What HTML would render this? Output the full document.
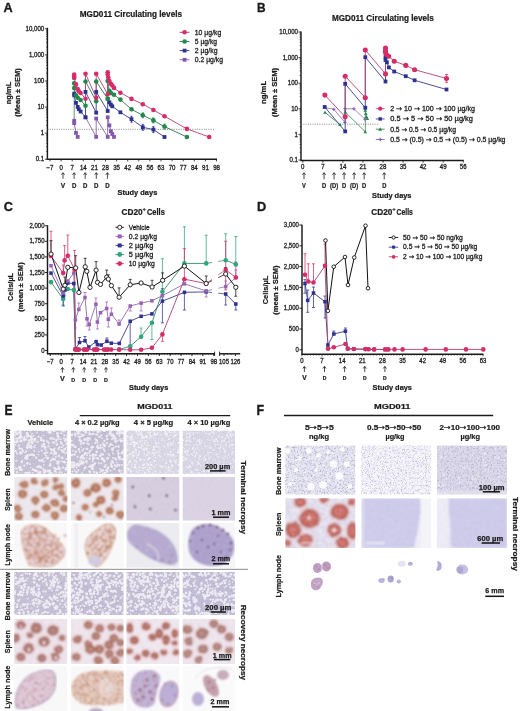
<!DOCTYPE html><html><head><meta charset="utf-8"><title>MGD011 figure</title><style>html,body{margin:0;padding:0;background:#fff;width:520px;height:711px;overflow:hidden}svg{display:block}</style></head><body><svg width="520" height="711" viewBox="0 0 520 711"><defs><filter id="bl1" x="-30%" y="-30%" width="160%" height="160%"><feGaussianBlur stdDeviation="0.7"/></filter><filter id="bl2" x="-30%" y="-30%" width="160%" height="160%"><feGaussianBlur stdDeviation="1.2"/></filter><filter id="bl05" x="-30%" y="-30%" width="160%" height="160%"><feGaussianBlur stdDeviation="0.45"/></filter><filter id="tb" x="-2%" y="-2%" width="104%" height="104%"><feGaussianBlur stdDeviation="0.95"/></filter><filter id="tbs" x="-2%" y="-2%" width="104%" height="104%"><feGaussianBlur stdDeviation="0.42"/></filter><clipPath id="cp1"><rect x="14.20" y="430.50" width="53.20" height="43.40"/></clipPath><filter id="nf1" x="0" y="0" width="1" height="1" color-interpolation-filters="sRGB"><feTurbulence type="fractalNoise" baseFrequency="0.8" numOctaves="2" seed="1"/><feColorMatrix type="matrix" values="0 0 0 0 0.635 0 0 0 0 0.612 0 0 0 0 0.729 3.000 0 0 0 -1.500"/><feComponentTransfer><feFuncA type="linear" slope="0.55"/></feComponentTransfer></filter><filter id="nf2" x="0" y="0" width="1" height="1" color-interpolation-filters="sRGB"><feTurbulence type="fractalNoise" baseFrequency="0.3" numOctaves="2" seed="4"/><feColorMatrix type="matrix" values="0 0 0 0 0.847 0 0 0 0 0.722 0 0 0 0 0.800 3.000 0 0 0 -1.500"/><feComponentTransfer><feFuncA type="linear" slope="0.2"/></feComponentTransfer></filter><clipPath id="cp2"><rect x="70.70" y="430.50" width="53.00" height="43.40"/></clipPath><filter id="nf3" x="0" y="0" width="1" height="1" color-interpolation-filters="sRGB"><feTurbulence type="fractalNoise" baseFrequency="0.8" numOctaves="2" seed="2"/><feColorMatrix type="matrix" values="0 0 0 0 0.635 0 0 0 0 0.612 0 0 0 0 0.729 3.000 0 0 0 -1.500"/><feComponentTransfer><feFuncA type="linear" slope="0.55"/></feComponentTransfer></filter><filter id="nf4" x="0" y="0" width="1" height="1" color-interpolation-filters="sRGB"><feTurbulence type="fractalNoise" baseFrequency="0.3" numOctaves="2" seed="5"/><feColorMatrix type="matrix" values="0 0 0 0 0.847 0 0 0 0 0.722 0 0 0 0 0.800 3.000 0 0 0 -1.500"/><feComponentTransfer><feFuncA type="linear" slope="0.2"/></feComponentTransfer></filter><clipPath id="cp3"><rect x="126.30" y="430.50" width="53.20" height="43.40"/></clipPath><filter id="nf5" x="0" y="0" width="1" height="1" color-interpolation-filters="sRGB"><feTurbulence type="fractalNoise" baseFrequency="0.8" numOctaves="2" seed="3"/><feColorMatrix type="matrix" values="0 0 0 0 0.706 0 0 0 0 0.682 0 0 0 0 0.796 3.000 0 0 0 -1.500"/><feComponentTransfer><feFuncA type="linear" slope="0.45"/></feComponentTransfer></filter><clipPath id="cp4"><rect x="182.50" y="430.50" width="52.50" height="43.40"/></clipPath><filter id="nf6" x="0" y="0" width="1" height="1" color-interpolation-filters="sRGB"><feTurbulence type="fractalNoise" baseFrequency="0.8" numOctaves="2" seed="4"/><feColorMatrix type="matrix" values="0 0 0 0 0.706 0 0 0 0 0.682 0 0 0 0 0.796 3.000 0 0 0 -1.500"/><feComponentTransfer><feFuncA type="linear" slope="0.45"/></feComponentTransfer></filter><clipPath id="cp5"><rect x="14.20" y="477.00" width="53.20" height="43.70"/></clipPath><filter id="nf7" x="0" y="0" width="1" height="1" color-interpolation-filters="sRGB"><feTurbulence type="fractalNoise" baseFrequency="0.5" numOctaves="2" seed="5"/><feColorMatrix type="matrix" values="0 0 0 0 0.769 0 0 0 0 0.745 0 0 0 0 0.847 3.000 0 0 0 -1.500"/><feComponentTransfer><feFuncA type="linear" slope="0.5"/></feComponentTransfer></filter><radialGradient id="rg1"><stop offset="0" stop-color="#d2a691"/><stop offset="0.45" stop-color="#bf8062"/><stop offset="0.78" stop-color="#9d6950" stop-opacity="0.95"/><stop offset="1" stop-color="#9d6950" stop-opacity="0.0"/></radialGradient><filter id="bfx1" x="-5%" y="-5%" width="110%" height="110%" color-interpolation-filters="sRGB"><feTurbulence type="fractalNoise" baseFrequency="0.18" numOctaves="2" seed="5" result="dn"/><feDisplacementMap in="SourceGraphic" in2="dn" scale="2.4" xChannelSelector="R" yChannelSelector="G" result="d"/><feTurbulence type="fractalNoise" baseFrequency="0.55" numOctaves="2" seed="55" result="n"/><feColorMatrix in="n" type="matrix" values="0 0 0 0 0.604 0 0 0 0 0.376 0 0 0 0 0.282 3.000 0 0 0 -1.500" result="m0"/><feComponentTransfer in="m0" result="m"><feFuncA type="linear" slope="0.35"/></feComponentTransfer><feComposite in="m" in2="d" operator="in" result="m2"/><feMerge result="o"><feMergeNode in="d"/><feMergeNode in="m2"/></feMerge></filter><clipPath id="cp6"><rect x="70.70" y="477.00" width="53.00" height="43.70"/></clipPath><filter id="nf8" x="0" y="0" width="1" height="1" color-interpolation-filters="sRGB"><feTurbulence type="fractalNoise" baseFrequency="0.5" numOctaves="2" seed="6"/><feColorMatrix type="matrix" values="0 0 0 0 0.769 0 0 0 0 0.745 0 0 0 0 0.847 3.000 0 0 0 -1.500"/><feComponentTransfer><feFuncA type="linear" slope="0.5"/></feComponentTransfer></filter><radialGradient id="rg2"><stop offset="0" stop-color="#d2a38e"/><stop offset="0.45" stop-color="#be7c5e"/><stop offset="0.78" stop-color="#9c664d" stop-opacity="0.95"/><stop offset="1" stop-color="#9c664d" stop-opacity="0.0"/></radialGradient><filter id="bfx2" x="-5%" y="-5%" width="110%" height="110%" color-interpolation-filters="sRGB"><feTurbulence type="fractalNoise" baseFrequency="0.18" numOctaves="2" seed="6" result="dn"/><feDisplacementMap in="SourceGraphic" in2="dn" scale="2.4" xChannelSelector="R" yChannelSelector="G" result="d"/><feTurbulence type="fractalNoise" baseFrequency="0.55" numOctaves="2" seed="56" result="n"/><feColorMatrix in="n" type="matrix" values="0 0 0 0 0.604 0 0 0 0 0.376 0 0 0 0 0.282 3.000 0 0 0 -1.500" result="m0"/><feComponentTransfer in="m0" result="m"><feFuncA type="linear" slope="0.35"/></feComponentTransfer><feComposite in="m" in2="d" operator="in" result="m2"/><feMerge result="o"><feMergeNode in="d"/><feMergeNode in="m2"/></feMerge></filter><clipPath id="cp7"><rect x="126.30" y="477.00" width="53.20" height="43.70"/></clipPath><filter id="nf9" x="0" y="0" width="1" height="1" color-interpolation-filters="sRGB"><feTurbulence type="fractalNoise" baseFrequency="0.45" numOctaves="2" seed="7"/><feColorMatrix type="matrix" values="0 0 0 0 0.737 0 0 0 0 0.675 0 0 0 0 0.800 3.000 0 0 0 -1.500"/><feComponentTransfer><feFuncA type="linear" slope="0.4"/></feComponentTransfer></filter><clipPath id="cp8"><rect x="182.50" y="477.00" width="52.50" height="43.70"/></clipPath><filter id="nf10" x="0" y="0" width="1" height="1" color-interpolation-filters="sRGB"><feTurbulence type="fractalNoise" baseFrequency="0.45" numOctaves="2" seed="8"/><feColorMatrix type="matrix" values="0 0 0 0 0.753 0 0 0 0 0.698 0 0 0 0 0.816 3.000 0 0 0 -1.500"/><feComponentTransfer><feFuncA type="linear" slope="0.35"/></feComponentTransfer></filter><clipPath id="cp9"><rect x="14.20" y="522.80" width="53.20" height="45.00"/></clipPath><filter id="bfx3" x="-5%" y="-5%" width="110%" height="110%" color-interpolation-filters="sRGB"><feTurbulence type="fractalNoise" baseFrequency="0.25" numOctaves="2" seed="9" result="dn"/><feDisplacementMap in="SourceGraphic" in2="dn" scale="1.2" xChannelSelector="R" yChannelSelector="G" result="d"/><feTurbulence type="fractalNoise" baseFrequency="0.45" numOctaves="2" seed="59" result="n"/><feColorMatrix in="n" type="matrix" values="0 0 0 0 0.722 0 0 0 0 0.478 0 0 0 0 0.408 4.500 0 0 0 -2.115" result="m0"/><feComponentTransfer in="m0" result="m"><feFuncA type="linear" slope="0.85"/></feComponentTransfer><feComposite in="m" in2="d" operator="in" result="m2"/><feMerge result="o"><feMergeNode in="d"/><feMergeNode in="m2"/></feMerge></filter><clipPath id="cp10"><rect x="70.70" y="522.80" width="53.00" height="45.00"/></clipPath><filter id="bfx4" x="-5%" y="-5%" width="110%" height="110%" color-interpolation-filters="sRGB"><feTurbulence type="fractalNoise" baseFrequency="0.25" numOctaves="2" seed="10" result="dn"/><feDisplacementMap in="SourceGraphic" in2="dn" scale="1.2" xChannelSelector="R" yChannelSelector="G" result="d"/><feTurbulence type="fractalNoise" baseFrequency="0.45" numOctaves="2" seed="60" result="n"/><feColorMatrix in="n" type="matrix" values="0 0 0 0 0.737 0 0 0 0 0.502 0 0 0 0 0.392 4.500 0 0 0 -2.205" result="m0"/><feComponentTransfer in="m0" result="m"><feFuncA type="linear" slope="0.85"/></feComponentTransfer><feComposite in="m" in2="d" operator="in" result="m2"/><feMerge result="o"><feMergeNode in="d"/><feMergeNode in="m2"/></feMerge></filter><clipPath id="cp11"><rect x="126.30" y="522.80" width="53.20" height="45.00"/></clipPath><filter id="bfx5" x="-5%" y="-5%" width="110%" height="110%" color-interpolation-filters="sRGB"><feTurbulence type="fractalNoise" baseFrequency="0.25" numOctaves="2" seed="11" result="dn"/><feDisplacementMap in="SourceGraphic" in2="dn" scale="1.2" xChannelSelector="R" yChannelSelector="G" result="d"/><feTurbulence type="fractalNoise" baseFrequency="0.35" numOctaves="2" seed="61" result="n"/><feColorMatrix in="n" type="matrix" values="0 0 0 0 0.824 0 0 0 0 0.792 0 0 0 0 0.886 4.000 0 0 0 -2.200" result="m0"/><feComponentTransfer in="m0" result="m"><feFuncA type="linear" slope="0.6"/></feComponentTransfer><feComposite in="m" in2="d" operator="in" result="m2"/><feMerge result="o"><feMergeNode in="d"/><feMergeNode in="m2"/></feMerge></filter><clipPath id="cp12"><rect x="182.50" y="522.80" width="52.50" height="45.00"/></clipPath><filter id="bfx6" x="-5%" y="-5%" width="110%" height="110%" color-interpolation-filters="sRGB"><feTurbulence type="fractalNoise" baseFrequency="0.25" numOctaves="2" seed="12" result="dn"/><feDisplacementMap in="SourceGraphic" in2="dn" scale="1.2" xChannelSelector="R" yChannelSelector="G" result="d"/><feTurbulence type="fractalNoise" baseFrequency="0.35" numOctaves="2" seed="62" result="n"/><feColorMatrix in="n" type="matrix" values="0 0 0 0 0.784 0 0 0 0 0.753 0 0 0 0 0.871 4.000 0 0 0 -2.200" result="m0"/><feComponentTransfer in="m0" result="m"><feFuncA type="linear" slope="0.55"/></feComponentTransfer><feComposite in="m" in2="d" operator="in" result="m2"/><feMerge result="o"><feMergeNode in="d"/><feMergeNode in="m2"/></feMerge></filter><clipPath id="cp13"><rect x="14.20" y="572.00" width="53.20" height="43.10"/></clipPath><filter id="nf11" x="0" y="0" width="1" height="1" color-interpolation-filters="sRGB"><feTurbulence type="fractalNoise" baseFrequency="0.8" numOctaves="2" seed="13"/><feColorMatrix type="matrix" values="0 0 0 0 0.635 0 0 0 0 0.612 0 0 0 0 0.729 3.000 0 0 0 -1.500"/><feComponentTransfer><feFuncA type="linear" slope="0.55"/></feComponentTransfer></filter><filter id="nf12" x="0" y="0" width="1" height="1" color-interpolation-filters="sRGB"><feTurbulence type="fractalNoise" baseFrequency="0.3" numOctaves="2" seed="16"/><feColorMatrix type="matrix" values="0 0 0 0 0.847 0 0 0 0 0.722 0 0 0 0 0.800 3.000 0 0 0 -1.500"/><feComponentTransfer><feFuncA type="linear" slope="0.25"/></feComponentTransfer></filter><clipPath id="cp14"><rect x="70.70" y="572.00" width="53.00" height="43.10"/></clipPath><filter id="nf13" x="0" y="0" width="1" height="1" color-interpolation-filters="sRGB"><feTurbulence type="fractalNoise" baseFrequency="0.8" numOctaves="2" seed="14"/><feColorMatrix type="matrix" values="0 0 0 0 0.635 0 0 0 0 0.612 0 0 0 0 0.729 3.000 0 0 0 -1.500"/><feComponentTransfer><feFuncA type="linear" slope="0.55"/></feComponentTransfer></filter><filter id="nf14" x="0" y="0" width="1" height="1" color-interpolation-filters="sRGB"><feTurbulence type="fractalNoise" baseFrequency="0.3" numOctaves="2" seed="17"/><feColorMatrix type="matrix" values="0 0 0 0 0.847 0 0 0 0 0.722 0 0 0 0 0.800 3.000 0 0 0 -1.500"/><feComponentTransfer><feFuncA type="linear" slope="0.25"/></feComponentTransfer></filter><clipPath id="cp15"><rect x="126.30" y="572.00" width="53.20" height="43.10"/></clipPath><filter id="nf15" x="0" y="0" width="1" height="1" color-interpolation-filters="sRGB"><feTurbulence type="fractalNoise" baseFrequency="0.8" numOctaves="2" seed="15"/><feColorMatrix type="matrix" values="0 0 0 0 0.635 0 0 0 0 0.612 0 0 0 0 0.729 3.000 0 0 0 -1.500"/><feComponentTransfer><feFuncA type="linear" slope="0.55"/></feComponentTransfer></filter><filter id="nf16" x="0" y="0" width="1" height="1" color-interpolation-filters="sRGB"><feTurbulence type="fractalNoise" baseFrequency="0.3" numOctaves="2" seed="18"/><feColorMatrix type="matrix" values="0 0 0 0 0.847 0 0 0 0 0.722 0 0 0 0 0.800 3.000 0 0 0 -1.500"/><feComponentTransfer><feFuncA type="linear" slope="0.25"/></feComponentTransfer></filter><clipPath id="cp16"><rect x="182.50" y="572.00" width="52.50" height="43.10"/></clipPath><filter id="nf17" x="0" y="0" width="1" height="1" color-interpolation-filters="sRGB"><feTurbulence type="fractalNoise" baseFrequency="0.8" numOctaves="2" seed="16"/><feColorMatrix type="matrix" values="0 0 0 0 0.635 0 0 0 0 0.612 0 0 0 0 0.729 3.000 0 0 0 -1.500"/><feComponentTransfer><feFuncA type="linear" slope="0.55"/></feComponentTransfer></filter><filter id="nf18" x="0" y="0" width="1" height="1" color-interpolation-filters="sRGB"><feTurbulence type="fractalNoise" baseFrequency="0.3" numOctaves="2" seed="19"/><feColorMatrix type="matrix" values="0 0 0 0 0.847 0 0 0 0 0.722 0 0 0 0 0.800 3.000 0 0 0 -1.500"/><feComponentTransfer><feFuncA type="linear" slope="0.2"/></feComponentTransfer></filter><clipPath id="cp17"><rect x="14.20" y="618.70" width="53.20" height="45.30"/></clipPath><filter id="nf19" x="0" y="0" width="1" height="1" color-interpolation-filters="sRGB"><feTurbulence type="fractalNoise" baseFrequency="0.5" numOctaves="2" seed="17"/><feColorMatrix type="matrix" values="0 0 0 0 0.769 0 0 0 0 0.714 0 0 0 0 0.839 3.000 0 0 0 -1.500"/><feComponentTransfer><feFuncA type="linear" slope="0.55"/></feComponentTransfer></filter><radialGradient id="rg3"><stop offset="0" stop-color="#c69993"/><stop offset="0.45" stop-color="#b88078"/><stop offset="0.78" stop-color="#9c6d66" stop-opacity="0.95"/><stop offset="1" stop-color="#9c6d66" stop-opacity="0.0"/></radialGradient><filter id="bfx7" x="-5%" y="-5%" width="110%" height="110%" color-interpolation-filters="sRGB"><feTurbulence type="fractalNoise" baseFrequency="0.18" numOctaves="2" seed="17" result="dn"/><feDisplacementMap in="SourceGraphic" in2="dn" scale="2.4" xChannelSelector="R" yChannelSelector="G" result="d"/><feTurbulence type="fractalNoise" baseFrequency="0.55" numOctaves="2" seed="67" result="n"/><feColorMatrix in="n" type="matrix" values="0 0 0 0 0.541 0 0 0 0 0.337 0 0 0 0 0.337 3.000 0 0 0 -1.500" result="m0"/><feComponentTransfer in="m0" result="m"><feFuncA type="linear" slope="0.4"/></feComponentTransfer><feComposite in="m" in2="d" operator="in" result="m2"/><feMerge result="o"><feMergeNode in="d"/><feMergeNode in="m2"/></feMerge></filter><clipPath id="cp18"><rect x="70.70" y="618.70" width="53.00" height="45.30"/></clipPath><filter id="nf20" x="0" y="0" width="1" height="1" color-interpolation-filters="sRGB"><feTurbulence type="fractalNoise" baseFrequency="0.5" numOctaves="2" seed="18"/><feColorMatrix type="matrix" values="0 0 0 0 0.769 0 0 0 0 0.714 0 0 0 0 0.839 3.000 0 0 0 -1.500"/><feComponentTransfer><feFuncA type="linear" slope="0.55"/></feComponentTransfer></filter><radialGradient id="rg4"><stop offset="0" stop-color="#c8998d"/><stop offset="0.45" stop-color="#ba8070"/><stop offset="0.78" stop-color="#9e6d5f" stop-opacity="0.95"/><stop offset="1" stop-color="#9e6d5f" stop-opacity="0.0"/></radialGradient><filter id="bfx8" x="-5%" y="-5%" width="110%" height="110%" color-interpolation-filters="sRGB"><feTurbulence type="fractalNoise" baseFrequency="0.18" numOctaves="2" seed="18" result="dn"/><feDisplacementMap in="SourceGraphic" in2="dn" scale="2.4" xChannelSelector="R" yChannelSelector="G" result="d"/><feTurbulence type="fractalNoise" baseFrequency="0.55" numOctaves="2" seed="68" result="n"/><feColorMatrix in="n" type="matrix" values="0 0 0 0 0.541 0 0 0 0 0.322 0 0 0 0 0.322 3.000 0 0 0 -1.500" result="m0"/><feComponentTransfer in="m0" result="m"><feFuncA type="linear" slope="0.4"/></feComponentTransfer><feComposite in="m" in2="d" operator="in" result="m2"/><feMerge result="o"><feMergeNode in="d"/><feMergeNode in="m2"/></feMerge></filter><clipPath id="cp19"><rect x="126.30" y="618.70" width="53.20" height="45.30"/></clipPath><filter id="nf21" x="0" y="0" width="1" height="1" color-interpolation-filters="sRGB"><feTurbulence type="fractalNoise" baseFrequency="0.5" numOctaves="2" seed="19"/><feColorMatrix type="matrix" values="0 0 0 0 0.769 0 0 0 0 0.714 0 0 0 0 0.839 3.000 0 0 0 -1.500"/><feComponentTransfer><feFuncA type="linear" slope="0.55"/></feComponentTransfer></filter><radialGradient id="rg5"><stop offset="0" stop-color="#c68e83"/><stop offset="0.45" stop-color="#b87264"/><stop offset="0.78" stop-color="#9c6155" stop-opacity="0.95"/><stop offset="1" stop-color="#9c6155" stop-opacity="0.0"/></radialGradient><filter id="bfx9" x="-5%" y="-5%" width="110%" height="110%" color-interpolation-filters="sRGB"><feTurbulence type="fractalNoise" baseFrequency="0.18" numOctaves="2" seed="19" result="dn"/><feDisplacementMap in="SourceGraphic" in2="dn" scale="2.4" xChannelSelector="R" yChannelSelector="G" result="d"/><feTurbulence type="fractalNoise" baseFrequency="0.55" numOctaves="2" seed="69" result="n"/><feColorMatrix in="n" type="matrix" values="0 0 0 0 0.541 0 0 0 0 0.290 0 0 0 0 0.306 3.000 0 0 0 -1.500" result="m0"/><feComponentTransfer in="m0" result="m"><feFuncA type="linear" slope="0.4"/></feComponentTransfer><feComposite in="m" in2="d" operator="in" result="m2"/><feMerge result="o"><feMergeNode in="d"/><feMergeNode in="m2"/></feMerge></filter><clipPath id="cp20"><rect x="182.50" y="618.70" width="52.50" height="45.30"/></clipPath><filter id="nf22" x="0" y="0" width="1" height="1" color-interpolation-filters="sRGB"><feTurbulence type="fractalNoise" baseFrequency="0.5" numOctaves="2" seed="20"/><feColorMatrix type="matrix" values="0 0 0 0 0.769 0 0 0 0 0.714 0 0 0 0 0.839 3.000 0 0 0 -1.500"/><feComponentTransfer><feFuncA type="linear" slope="0.55"/></feComponentTransfer></filter><radialGradient id="rg6"><stop offset="0" stop-color="#c69e98"/><stop offset="0.45" stop-color="#b8867e"/><stop offset="0.78" stop-color="#9c726b" stop-opacity="0.95"/><stop offset="1" stop-color="#9c726b" stop-opacity="0.0"/></radialGradient><filter id="bfx10" x="-5%" y="-5%" width="110%" height="110%" color-interpolation-filters="sRGB"><feTurbulence type="fractalNoise" baseFrequency="0.18" numOctaves="2" seed="20" result="dn"/><feDisplacementMap in="SourceGraphic" in2="dn" scale="2.4" xChannelSelector="R" yChannelSelector="G" result="d"/><feTurbulence type="fractalNoise" baseFrequency="0.55" numOctaves="2" seed="70" result="n"/><feColorMatrix in="n" type="matrix" values="0 0 0 0 0.541 0 0 0 0 0.369 0 0 0 0 0.384 3.000 0 0 0 -1.500" result="m0"/><feComponentTransfer in="m0" result="m"><feFuncA type="linear" slope="0.4"/></feComponentTransfer><feComposite in="m" in2="d" operator="in" result="m2"/><feMerge result="o"><feMergeNode in="d"/><feMergeNode in="m2"/></feMerge></filter><clipPath id="cp21"><rect x="14.20" y="666.00" width="53.20" height="45.00"/></clipPath><filter id="bfx11" x="-5%" y="-5%" width="110%" height="110%" color-interpolation-filters="sRGB"><feTurbulence type="fractalNoise" baseFrequency="0.25" numOctaves="2" seed="21" result="dn"/><feDisplacementMap in="SourceGraphic" in2="dn" scale="1.2" xChannelSelector="R" yChannelSelector="G" result="d"/><feTurbulence type="fractalNoise" baseFrequency="0.45" numOctaves="2" seed="71" result="n"/><feColorMatrix in="n" type="matrix" values="0 0 0 0 0.690 0 0 0 0 0.455 0 0 0 0 0.502 4.500 0 0 0 -2.250" result="m0"/><feComponentTransfer in="m0" result="m"><feFuncA type="linear" slope="0.8"/></feComponentTransfer><feComposite in="m" in2="d" operator="in" result="m2"/><feMerge result="o"><feMergeNode in="d"/><feMergeNode in="m2"/></feMerge></filter><clipPath id="cp22"><rect x="70.70" y="666.00" width="53.00" height="45.00"/></clipPath><filter id="bfx12" x="-5%" y="-5%" width="110%" height="110%" color-interpolation-filters="sRGB"><feTurbulence type="fractalNoise" baseFrequency="0.25" numOctaves="2" seed="22" result="dn"/><feDisplacementMap in="SourceGraphic" in2="dn" scale="1.2" xChannelSelector="R" yChannelSelector="G" result="d"/><feTurbulence type="fractalNoise" baseFrequency="0.45" numOctaves="2" seed="72" result="n"/><feColorMatrix in="n" type="matrix" values="0 0 0 0 0.737 0 0 0 0 0.494 0 0 0 0 0.376 4.500 0 0 0 -2.070" result="m0"/><feComponentTransfer in="m0" result="m"><feFuncA type="linear" slope="0.9"/></feComponentTransfer><feComposite in="m" in2="d" operator="in" result="m2"/><feMerge result="o"><feMergeNode in="d"/><feMergeNode in="m2"/></feMerge></filter><clipPath id="cp23"><rect x="126.30" y="666.00" width="53.20" height="45.00"/></clipPath><filter id="bfx13" x="-5%" y="-5%" width="110%" height="110%" color-interpolation-filters="sRGB"><feTurbulence type="fractalNoise" baseFrequency="0.25" numOctaves="2" seed="23" result="dn"/><feDisplacementMap in="SourceGraphic" in2="dn" scale="1.2" xChannelSelector="R" yChannelSelector="G" result="d"/><feTurbulence type="fractalNoise" baseFrequency="0.4" numOctaves="2" seed="73" result="n"/><feColorMatrix in="n" type="matrix" values="0 0 0 0 0.627 0 0 0 0 0.439 0 0 0 0 0.494 4.500 0 0 0 -2.475" result="m0"/><feComponentTransfer in="m0" result="m"><feFuncA type="linear" slope="0.7"/></feComponentTransfer><feComposite in="m" in2="d" operator="in" result="m2"/><feMerge result="o"><feMergeNode in="d"/><feMergeNode in="m2"/></feMerge></filter><clipPath id="cp24"><rect x="182.50" y="666.00" width="52.50" height="45.00"/></clipPath><clipPath id="cp25"><rect x="285.30" y="445.40" width="70.10" height="49.20"/></clipPath><filter id="nf23" x="0" y="0" width="1" height="1" color-interpolation-filters="sRGB"><feTurbulence type="fractalNoise" baseFrequency="0.35" numOctaves="2" seed="31"/><feColorMatrix type="matrix" values="0 0 0 0 0.643 0 0 0 0 0.643 0 0 0 0 0.800 3.000 0 0 0 -1.500"/><feComponentTransfer><feFuncA type="linear" slope="0.45"/></feComponentTransfer></filter><filter id="nf24" x="0" y="0" width="1" height="1" color-interpolation-filters="sRGB"><feTurbulence type="fractalNoise" baseFrequency="0.7" numOctaves="2" seed="41"/><feColorMatrix type="matrix" values="0 0 0 0 0.471 0 0 0 0 0.471 0 0 0 0 0.706 5.000 0 0 0 -2.750"/><feComponentTransfer><feFuncA type="linear" slope="0.42"/></feComponentTransfer></filter><filter id="nf25" x="0" y="0" width="1" height="1" color-interpolation-filters="sRGB"><feTurbulence type="fractalNoise" baseFrequency="0.9" numOctaves="1" seed="51"/><feColorMatrix type="matrix" values="0 0 0 0 0.690 0 0 0 0 0.376 0 0 0 0 0.439 7.000 0 0 0 -4.340"/><feComponentTransfer><feFuncA type="linear" slope="0.25"/></feComponentTransfer></filter><clipPath id="cp26"><rect x="361.20" y="445.40" width="70.20" height="49.20"/></clipPath><filter id="nf26" x="0" y="0" width="1" height="1" color-interpolation-filters="sRGB"><feTurbulence type="fractalNoise" baseFrequency="0.4" numOctaves="2" seed="32"/><feColorMatrix type="matrix" values="0 0 0 0 0.706 0 0 0 0 0.690 0 0 0 0 0.847 3.000 0 0 0 -1.500"/><feComponentTransfer><feFuncA type="linear" slope="0.45"/></feComponentTransfer></filter><filter id="nf27" x="0" y="0" width="1" height="1" color-interpolation-filters="sRGB"><feTurbulence type="fractalNoise" baseFrequency="0.75" numOctaves="2" seed="42"/><feColorMatrix type="matrix" values="0 0 0 0 0.533 0 0 0 0 0.518 0 0 0 0 0.737 5.000 0 0 0 -2.800"/><feComponentTransfer><feFuncA type="linear" slope="0.45"/></feComponentTransfer></filter><clipPath id="cp27"><rect x="436.90" y="445.40" width="70.10" height="49.20"/></clipPath><filter id="nf28" x="0" y="0" width="1" height="1" color-interpolation-filters="sRGB"><feTurbulence type="fractalNoise" baseFrequency="0.4" numOctaves="2" seed="33"/><feColorMatrix type="matrix" values="0 0 0 0 0.659 0 0 0 0 0.643 0 0 0 0 0.784 3.000 0 0 0 -1.500"/><feComponentTransfer><feFuncA type="linear" slope="0.5"/></feComponentTransfer></filter><filter id="nf29" x="0" y="0" width="1" height="1" color-interpolation-filters="sRGB"><feTurbulence type="fractalNoise" baseFrequency="0.7" numOctaves="2" seed="43"/><feColorMatrix type="matrix" values="0 0 0 0 0.541 0 0 0 0 0.525 0 0 0 0 0.706 5.000 0 0 0 -2.750"/><feComponentTransfer><feFuncA type="linear" slope="0.38"/></feComponentTransfer></filter><clipPath id="cp28"><rect x="285.30" y="498.20" width="70.10" height="49.80"/></clipPath><filter id="nf30" x="0" y="0" width="1" height="1" color-interpolation-filters="sRGB"><feTurbulence type="fractalNoise" baseFrequency="0.45" numOctaves="2" seed="34"/><feColorMatrix type="matrix" values="0 0 0 0 0.643 0 0 0 0 0.643 0 0 0 0 0.847 3.000 0 0 0 -1.500"/><feComponentTransfer><feFuncA type="linear" slope="0.55"/></feComponentTransfer></filter><filter id="nf31" x="0" y="0" width="1" height="1" color-interpolation-filters="sRGB"><feTurbulence type="fractalNoise" baseFrequency="0.5" numOctaves="2" seed="54"/><feColorMatrix type="matrix" values="0 0 0 0 0.847 0 0 0 0 0.580 0 0 0 0 0.580 4.000 0 0 0 -2.200"/><feComponentTransfer><feFuncA type="linear" slope="0.35"/></feComponentTransfer></filter><filter id="nf32" x="0" y="0" width="1" height="1" color-interpolation-filters="sRGB"><feTurbulence type="fractalNoise" baseFrequency="0.8" numOctaves="2" seed="44"/><feColorMatrix type="matrix" values="0 0 0 0 0.502 0 0 0 0 0.502 0 0 0 0 0.753 5.000 0 0 0 -2.800"/><feComponentTransfer><feFuncA type="linear" slope="0.3"/></feComponentTransfer></filter><radialGradient id="rg7"><stop offset="0" stop-color="#d0766f"/><stop offset="0.45" stop-color="#cc6a62"/><stop offset="0.78" stop-color="#ad5a53" stop-opacity="0.95"/><stop offset="1" stop-color="#ad5a53" stop-opacity="0.0"/></radialGradient><filter id="bfx14" x="-5%" y="-5%" width="110%" height="110%" color-interpolation-filters="sRGB"><feTurbulence type="fractalNoise" baseFrequency="0.18" numOctaves="2" seed="34" result="dn"/><feDisplacementMap in="SourceGraphic" in2="dn" scale="3.0" xChannelSelector="R" yChannelSelector="G" result="d"/><feTurbulence type="fractalNoise" baseFrequency="0.65" numOctaves="2" seed="84" result="n"/><feColorMatrix in="n" type="matrix" values="0 0 0 0 0.941 0 0 0 0 0.800 0 0 0 0 0.800 5.000 0 0 0 -2.750" result="m0"/><feComponentTransfer in="m0" result="m"><feFuncA type="linear" slope="0.6"/></feComponentTransfer><feComposite in="m" in2="d" operator="in" result="m2"/><feMerge result="o"><feMergeNode in="d"/><feMergeNode in="m2"/></feMerge></filter><clipPath id="cp29"><rect x="361.20" y="498.20" width="70.20" height="49.80"/></clipPath><filter id="nf33" x="0" y="0" width="1" height="1" color-interpolation-filters="sRGB"><feTurbulence type="fractalNoise" baseFrequency="0.6" numOctaves="2" seed="35"/><feColorMatrix type="matrix" values="0 0 0 0 0.667 0 0 0 0 0.651 0 0 0 0 0.839 3.000 0 0 0 -1.500"/><feComponentTransfer><feFuncA type="linear" slope="0.5"/></feComponentTransfer></filter><filter id="nf34" x="0" y="0" width="1" height="1" color-interpolation-filters="sRGB"><feTurbulence type="fractalNoise" baseFrequency="0.25" numOctaves="2" seed="45"/><feColorMatrix type="matrix" values="0 0 0 0 0.847 0 0 0 0 0.839 0 0 0 0 0.933 3.000 0 0 0 -1.500"/><feComponentTransfer><feFuncA type="linear" slope="0.5"/></feComponentTransfer></filter><clipPath id="cp30"><rect x="436.90" y="498.20" width="70.10" height="49.80"/></clipPath><filter id="nf35" x="0" y="0" width="1" height="1" color-interpolation-filters="sRGB"><feTurbulence type="fractalNoise" baseFrequency="0.6" numOctaves="2" seed="36"/><feColorMatrix type="matrix" values="0 0 0 0 0.667 0 0 0 0 0.651 0 0 0 0 0.839 3.000 0 0 0 -1.500"/><feComponentTransfer><feFuncA type="linear" slope="0.5"/></feComponentTransfer></filter><filter id="nf36" x="0" y="0" width="1" height="1" color-interpolation-filters="sRGB"><feTurbulence type="fractalNoise" baseFrequency="0.5" numOctaves="2" seed="46"/><feColorMatrix type="matrix" values="0 0 0 0 0.816 0 0 0 0 0.804 0 0 0 0 0.910 3.000 0 0 0 -1.500"/><feComponentTransfer><feFuncA type="linear" slope="0.6"/></feComponentTransfer></filter></defs><rect width="520" height="711" fill="#ffffff"/><g font-family="'Liberation Sans', Arial, sans-serif" fill="#1a1a1a"><text x="3.60" y="11.80" font-size="13.6" font-weight="bold" textLength="9.20" lengthAdjust="spacingAndGlyphs" stroke="#1a1a1a" stroke-width="0.35">A</text>
<text x="79.80" y="16.80" font-size="8.8" font-weight="bold" textLength="102.20" lengthAdjust="spacingAndGlyphs" stroke="#1a1a1a" stroke-width="0.22">MGD011 Circulating levels</text>
<line x1="47.40" y1="27.80" x2="47.40" y2="159.50" stroke="#1a1a1a" stroke-width="1.45"/>
<line x1="46.90" y1="159.20" x2="217.03" y2="159.20" stroke="#1a1a1a" stroke-width="1.5"/>
<line x1="44.80" y1="159.25" x2="47.40" y2="159.25" stroke="#1a1a1a" stroke-width="0.8"/>
<text x="44.20" y="161.35" font-size="6.3" text-anchor="end" textLength="8.49" lengthAdjust="spacingAndGlyphs" stroke="#1a1a1a" stroke-width="0.28">0.1</text>
<line x1="46.00" y1="151.39" x2="47.40" y2="151.39" stroke="#1a1a1a" stroke-width="0.6"/>
<line x1="46.00" y1="146.80" x2="47.40" y2="146.80" stroke="#1a1a1a" stroke-width="0.6"/>
<line x1="46.00" y1="143.54" x2="47.40" y2="143.54" stroke="#1a1a1a" stroke-width="0.6"/>
<line x1="46.00" y1="141.01" x2="47.40" y2="141.01" stroke="#1a1a1a" stroke-width="0.6"/>
<line x1="46.00" y1="138.94" x2="47.40" y2="138.94" stroke="#1a1a1a" stroke-width="0.6"/>
<line x1="46.00" y1="137.19" x2="47.40" y2="137.19" stroke="#1a1a1a" stroke-width="0.6"/>
<line x1="46.00" y1="135.68" x2="47.40" y2="135.68" stroke="#1a1a1a" stroke-width="0.6"/>
<line x1="46.00" y1="134.34" x2="47.40" y2="134.34" stroke="#1a1a1a" stroke-width="0.6"/>
<line x1="44.80" y1="133.15" x2="47.40" y2="133.15" stroke="#1a1a1a" stroke-width="0.8"/>
<text x="44.20" y="135.25" font-size="6.3" text-anchor="end" textLength="3.40" lengthAdjust="spacingAndGlyphs" stroke="#1a1a1a" stroke-width="0.28">1</text>
<line x1="46.00" y1="125.29" x2="47.40" y2="125.29" stroke="#1a1a1a" stroke-width="0.6"/>
<line x1="46.00" y1="120.70" x2="47.40" y2="120.70" stroke="#1a1a1a" stroke-width="0.6"/>
<line x1="46.00" y1="117.44" x2="47.40" y2="117.44" stroke="#1a1a1a" stroke-width="0.6"/>
<line x1="46.00" y1="114.91" x2="47.40" y2="114.91" stroke="#1a1a1a" stroke-width="0.6"/>
<line x1="46.00" y1="112.84" x2="47.40" y2="112.84" stroke="#1a1a1a" stroke-width="0.6"/>
<line x1="46.00" y1="111.09" x2="47.40" y2="111.09" stroke="#1a1a1a" stroke-width="0.6"/>
<line x1="46.00" y1="109.58" x2="47.40" y2="109.58" stroke="#1a1a1a" stroke-width="0.6"/>
<line x1="46.00" y1="108.24" x2="47.40" y2="108.24" stroke="#1a1a1a" stroke-width="0.6"/>
<line x1="44.80" y1="107.05" x2="47.40" y2="107.05" stroke="#1a1a1a" stroke-width="0.8"/>
<text x="44.20" y="109.15" font-size="6.3" text-anchor="end" textLength="6.80" lengthAdjust="spacingAndGlyphs" stroke="#1a1a1a" stroke-width="0.28">10</text>
<line x1="46.00" y1="99.19" x2="47.40" y2="99.19" stroke="#1a1a1a" stroke-width="0.6"/>
<line x1="46.00" y1="94.60" x2="47.40" y2="94.60" stroke="#1a1a1a" stroke-width="0.6"/>
<line x1="46.00" y1="91.34" x2="47.40" y2="91.34" stroke="#1a1a1a" stroke-width="0.6"/>
<line x1="46.00" y1="88.81" x2="47.40" y2="88.81" stroke="#1a1a1a" stroke-width="0.6"/>
<line x1="46.00" y1="86.74" x2="47.40" y2="86.74" stroke="#1a1a1a" stroke-width="0.6"/>
<line x1="46.00" y1="84.99" x2="47.40" y2="84.99" stroke="#1a1a1a" stroke-width="0.6"/>
<line x1="46.00" y1="83.48" x2="47.40" y2="83.48" stroke="#1a1a1a" stroke-width="0.6"/>
<line x1="46.00" y1="82.14" x2="47.40" y2="82.14" stroke="#1a1a1a" stroke-width="0.6"/>
<line x1="44.80" y1="80.95" x2="47.40" y2="80.95" stroke="#1a1a1a" stroke-width="0.8"/>
<text x="44.20" y="83.05" font-size="6.3" text-anchor="end" textLength="10.19" lengthAdjust="spacingAndGlyphs" stroke="#1a1a1a" stroke-width="0.28">100</text>
<line x1="46.00" y1="73.09" x2="47.40" y2="73.09" stroke="#1a1a1a" stroke-width="0.6"/>
<line x1="46.00" y1="68.50" x2="47.40" y2="68.50" stroke="#1a1a1a" stroke-width="0.6"/>
<line x1="46.00" y1="65.24" x2="47.40" y2="65.24" stroke="#1a1a1a" stroke-width="0.6"/>
<line x1="46.00" y1="62.71" x2="47.40" y2="62.71" stroke="#1a1a1a" stroke-width="0.6"/>
<line x1="46.00" y1="60.64" x2="47.40" y2="60.64" stroke="#1a1a1a" stroke-width="0.6"/>
<line x1="46.00" y1="58.89" x2="47.40" y2="58.89" stroke="#1a1a1a" stroke-width="0.6"/>
<line x1="46.00" y1="57.38" x2="47.40" y2="57.38" stroke="#1a1a1a" stroke-width="0.6"/>
<line x1="46.00" y1="56.04" x2="47.40" y2="56.04" stroke="#1a1a1a" stroke-width="0.6"/>
<line x1="44.80" y1="54.85" x2="47.40" y2="54.85" stroke="#1a1a1a" stroke-width="0.8"/>
<text x="44.20" y="56.95" font-size="6.3" text-anchor="end" textLength="15.29" lengthAdjust="spacingAndGlyphs" stroke="#1a1a1a" stroke-width="0.28">1,000</text>
<line x1="46.00" y1="46.99" x2="47.40" y2="46.99" stroke="#1a1a1a" stroke-width="0.6"/>
<line x1="46.00" y1="42.40" x2="47.40" y2="42.40" stroke="#1a1a1a" stroke-width="0.6"/>
<line x1="46.00" y1="39.14" x2="47.40" y2="39.14" stroke="#1a1a1a" stroke-width="0.6"/>
<line x1="46.00" y1="36.61" x2="47.40" y2="36.61" stroke="#1a1a1a" stroke-width="0.6"/>
<line x1="46.00" y1="34.54" x2="47.40" y2="34.54" stroke="#1a1a1a" stroke-width="0.6"/>
<line x1="46.00" y1="32.79" x2="47.40" y2="32.79" stroke="#1a1a1a" stroke-width="0.6"/>
<line x1="46.00" y1="31.28" x2="47.40" y2="31.28" stroke="#1a1a1a" stroke-width="0.6"/>
<line x1="46.00" y1="29.94" x2="47.40" y2="29.94" stroke="#1a1a1a" stroke-width="0.6"/>
<line x1="44.80" y1="28.75" x2="47.40" y2="28.75" stroke="#1a1a1a" stroke-width="0.8"/>
<text x="44.20" y="30.85" font-size="6.3" text-anchor="end" textLength="18.69" lengthAdjust="spacingAndGlyphs" stroke="#1a1a1a" stroke-width="0.28">10,000</text>
<line x1="50.00" y1="159.20" x2="50.00" y2="161.40" stroke="#1a1a1a" stroke-width="0.8"/>
<text x="50.00" y="170.00" font-size="6.3" text-anchor="middle" textLength="6.97" lengthAdjust="spacingAndGlyphs" stroke="#1a1a1a" stroke-width="0.28">−7</text>
<line x1="61.10" y1="159.20" x2="61.10" y2="161.40" stroke="#1a1a1a" stroke-width="0.8"/>
<text x="61.10" y="170.00" font-size="6.3" text-anchor="middle" textLength="3.40" lengthAdjust="spacingAndGlyphs" stroke="#1a1a1a" stroke-width="0.28">0</text>
<line x1="72.20" y1="159.20" x2="72.20" y2="161.40" stroke="#1a1a1a" stroke-width="0.8"/>
<text x="72.20" y="170.00" font-size="6.3" text-anchor="middle" textLength="3.40" lengthAdjust="spacingAndGlyphs" stroke="#1a1a1a" stroke-width="0.28">7</text>
<line x1="83.30" y1="159.20" x2="83.30" y2="161.40" stroke="#1a1a1a" stroke-width="0.8"/>
<text x="83.30" y="170.00" font-size="6.3" text-anchor="middle" textLength="6.80" lengthAdjust="spacingAndGlyphs" stroke="#1a1a1a" stroke-width="0.28">14</text>
<line x1="94.41" y1="159.20" x2="94.41" y2="161.40" stroke="#1a1a1a" stroke-width="0.8"/>
<text x="94.41" y="170.00" font-size="6.3" text-anchor="middle" textLength="6.80" lengthAdjust="spacingAndGlyphs" stroke="#1a1a1a" stroke-width="0.28">21</text>
<line x1="105.51" y1="159.20" x2="105.51" y2="161.40" stroke="#1a1a1a" stroke-width="0.8"/>
<text x="105.51" y="170.00" font-size="6.3" text-anchor="middle" textLength="6.80" lengthAdjust="spacingAndGlyphs" stroke="#1a1a1a" stroke-width="0.28">28</text>
<line x1="116.61" y1="159.20" x2="116.61" y2="161.40" stroke="#1a1a1a" stroke-width="0.8"/>
<text x="116.61" y="170.00" font-size="6.3" text-anchor="middle" textLength="6.80" lengthAdjust="spacingAndGlyphs" stroke="#1a1a1a" stroke-width="0.28">35</text>
<line x1="127.71" y1="159.20" x2="127.71" y2="161.40" stroke="#1a1a1a" stroke-width="0.8"/>
<text x="127.71" y="170.00" font-size="6.3" text-anchor="middle" textLength="6.80" lengthAdjust="spacingAndGlyphs" stroke="#1a1a1a" stroke-width="0.28">42</text>
<line x1="138.81" y1="159.20" x2="138.81" y2="161.40" stroke="#1a1a1a" stroke-width="0.8"/>
<text x="138.81" y="170.00" font-size="6.3" text-anchor="middle" textLength="6.80" lengthAdjust="spacingAndGlyphs" stroke="#1a1a1a" stroke-width="0.28">49</text>
<line x1="149.92" y1="159.20" x2="149.92" y2="161.40" stroke="#1a1a1a" stroke-width="0.8"/>
<text x="149.92" y="170.00" font-size="6.3" text-anchor="middle" textLength="6.80" lengthAdjust="spacingAndGlyphs" stroke="#1a1a1a" stroke-width="0.28">56</text>
<line x1="161.02" y1="159.20" x2="161.02" y2="161.40" stroke="#1a1a1a" stroke-width="0.8"/>
<text x="161.02" y="170.00" font-size="6.3" text-anchor="middle" textLength="6.80" lengthAdjust="spacingAndGlyphs" stroke="#1a1a1a" stroke-width="0.28">63</text>
<line x1="172.12" y1="159.20" x2="172.12" y2="161.40" stroke="#1a1a1a" stroke-width="0.8"/>
<text x="172.12" y="170.00" font-size="6.3" text-anchor="middle" textLength="6.80" lengthAdjust="spacingAndGlyphs" stroke="#1a1a1a" stroke-width="0.28">70</text>
<line x1="183.22" y1="159.20" x2="183.22" y2="161.40" stroke="#1a1a1a" stroke-width="0.8"/>
<text x="183.22" y="170.00" font-size="6.3" text-anchor="middle" textLength="6.80" lengthAdjust="spacingAndGlyphs" stroke="#1a1a1a" stroke-width="0.28">77</text>
<line x1="194.32" y1="159.20" x2="194.32" y2="161.40" stroke="#1a1a1a" stroke-width="0.8"/>
<text x="194.32" y="170.00" font-size="6.3" text-anchor="middle" textLength="6.80" lengthAdjust="spacingAndGlyphs" stroke="#1a1a1a" stroke-width="0.28">84</text>
<line x1="205.43" y1="159.20" x2="205.43" y2="161.40" stroke="#1a1a1a" stroke-width="0.8"/>
<text x="205.43" y="170.00" font-size="6.3" text-anchor="middle" textLength="6.80" lengthAdjust="spacingAndGlyphs" stroke="#1a1a1a" stroke-width="0.28">91</text>
<line x1="216.53" y1="159.20" x2="216.53" y2="161.40" stroke="#1a1a1a" stroke-width="0.8"/>
<text x="216.53" y="170.00" font-size="6.3" text-anchor="middle" textLength="6.80" lengthAdjust="spacingAndGlyphs" stroke="#1a1a1a" stroke-width="0.28">98</text>
<line x1="47.40" y1="129.30" x2="215.00" y2="129.30" stroke="#555" stroke-width="0.7" stroke-dasharray="1,1.3"/>
<path d="M63.00,178.80V173.10M61.40,174.80L63.00,172.60L64.60,174.80" fill="none" stroke="#1a1a1a" stroke-width="0.8"/>
<text x="63.00" y="187.80" font-size="7.0" font-weight="bold" text-anchor="middle" textLength="4.40" lengthAdjust="spacingAndGlyphs" stroke="#1a1a1a" stroke-width="0.22">V</text>
<path d="M74.10,178.80V173.10M72.50,174.80L74.10,172.60L75.70,174.80" fill="none" stroke="#1a1a1a" stroke-width="0.8"/>
<text x="74.10" y="187.80" font-size="7.0" font-weight="bold" text-anchor="middle" textLength="4.40" lengthAdjust="spacingAndGlyphs" stroke="#1a1a1a" stroke-width="0.22">D</text>
<path d="M85.20,178.80V173.10M83.60,174.80L85.20,172.60L86.80,174.80" fill="none" stroke="#1a1a1a" stroke-width="0.8"/>
<text x="85.20" y="187.80" font-size="7.0" font-weight="bold" text-anchor="middle" textLength="4.40" lengthAdjust="spacingAndGlyphs" stroke="#1a1a1a" stroke-width="0.22">D</text>
<path d="M96.31,178.80V173.10M94.71,174.80L96.31,172.60L97.91,174.80" fill="none" stroke="#1a1a1a" stroke-width="0.8"/>
<text x="96.31" y="187.80" font-size="7.0" font-weight="bold" text-anchor="middle" textLength="4.40" lengthAdjust="spacingAndGlyphs" stroke="#1a1a1a" stroke-width="0.22">D</text>
<path d="M107.41,178.80V173.10M105.81,174.80L107.41,172.60L109.01,174.80" fill="none" stroke="#1a1a1a" stroke-width="0.8"/>
<text x="107.41" y="187.80" font-size="7.0" font-weight="bold" text-anchor="middle" textLength="4.40" lengthAdjust="spacingAndGlyphs" stroke="#1a1a1a" stroke-width="0.22">D</text>
<text x="117.60" y="195.00" font-size="7.3" font-weight="bold" textLength="39.70" lengthAdjust="spacingAndGlyphs" stroke="#1a1a1a" stroke-width="0.22">Study days</text>
<text x="10.90" y="93.00" font-size="7.6" font-weight="bold" text-anchor="middle" textLength="22.50" lengthAdjust="spacingAndGlyphs" transform="rotate(-90 10.90 93.00)" stroke="#1a1a1a" stroke-width="0.22">ng/mL</text>
<text x="20.00" y="92.60" font-size="7.6" font-weight="bold" text-anchor="middle" textLength="48.50" lengthAdjust="spacingAndGlyphs" transform="rotate(-90 20.00 92.60)" stroke="#1a1a1a" stroke-width="0.22">(Mean ± SEM)</text>
<line x1="179.60" y1="32.30" x2="189.40" y2="32.30" stroke="#b44a7a" stroke-width="1.0"/>
<circle cx="184.60" cy="32.30" r="2.3100000000000005" fill="#d62c68" stroke="none" stroke-width="0"/>
<text x="194.80" y="34.80" font-size="7.3" textLength="26.50" lengthAdjust="spacingAndGlyphs" stroke="#1a1a1a" stroke-width="0.28">10 µg/kg</text>
<line x1="179.60" y1="41.45" x2="189.40" y2="41.45" stroke="#3a7e56" stroke-width="1.0"/>
<circle cx="184.60" cy="41.45" r="2.3100000000000005" fill="#23884a" stroke="none" stroke-width="0"/>
<text x="194.80" y="43.95" font-size="7.3" textLength="22.30" lengthAdjust="spacingAndGlyphs" stroke="#1a1a1a" stroke-width="0.28">5 µg/kg</text>
<line x1="179.60" y1="50.60" x2="189.40" y2="50.60" stroke="#42468e" stroke-width="1.0"/>
<rect x="182.71" y="48.71" width="3.78" height="3.78" fill="#2f3190"/>
<text x="194.80" y="53.10" font-size="7.3" textLength="22.70" lengthAdjust="spacingAndGlyphs" stroke="#1a1a1a" stroke-width="0.28">2 µg/kg</text>
<line x1="179.60" y1="59.75" x2="189.40" y2="59.75" stroke="#8c6cae" stroke-width="1.0"/>
<rect x="182.71" y="57.86" width="3.78" height="3.78" fill="#8456b0"/>
<text x="194.80" y="62.25" font-size="7.3" textLength="28.20" lengthAdjust="spacingAndGlyphs" stroke="#1a1a1a" stroke-width="0.28">0.2 µg/kg</text>
<polyline points="74.20,83.30 74.20,120.80" fill="none" stroke="#3a7e56" stroke-width="0.8"/>
<polyline points="74.20,120.80 74.20,123.10" fill="none" stroke="#8c6cae" stroke-width="0.8"/>
<polyline points="74.20,120.80 74.20,123.10 76.00,132.90 77.70,136.90" fill="none" stroke="#8c6cae" stroke-width="0.95"/>
<polyline points="85.50,117.30 96.20,136.90 96.20,118.50 107.70,136.90 107.70,117.30 109.40,125.40 110.90,131.20 112.30,134.00 114.00,136.90" fill="none" stroke="#8c6cae" stroke-width="0.95"/>
<polyline points="74.20,93.70 74.20,95.40 76.00,102.90 77.70,106.90 78.80,109.20 80.60,111.50 85.50,117.30 85.50,91.90 96.20,112.70 96.20,91.90 107.70,111.00 107.70,98.80 109.40,102.30 110.90,104.60 112.30,106.30 120.40,112.30 131.50,119.20 142.80,127.30 153.40,129.60 164.50,137.00" fill="none" stroke="#42468e" stroke-width="0.95"/>
<polyline points="74.20,83.30 74.20,88.00 76.00,95.40 77.70,97.70 80.60,100.00 85.50,105.80 85.50,81.50 96.20,101.20 96.20,81.50 107.70,98.80 107.70,81.00 109.40,90.80 110.90,93.10 114.00,94.80 120.40,99.60 131.50,109.30 142.80,115.30 153.40,120.40 164.50,126.60 186.90,137.00" fill="none" stroke="#3a7e56" stroke-width="0.95"/>
<polyline points="74.20,74.60 74.20,76.50 74.20,78.00 76.00,84.40 77.70,89.00 78.80,91.30 80.60,93.00 85.50,98.80 85.50,73.70 96.20,97.70 96.20,73.70 107.70,94.20 107.70,72.30 107.70,74.60 108.30,77.50 109.40,81.00 110.90,83.80 112.30,85.60 114.00,87.90 120.40,92.70 131.50,98.90 142.80,104.20 153.40,110.00 164.50,116.20 186.90,128.90 209.20,137.00" fill="none" stroke="#b44a7a" stroke-width="0.95"/>
<line x1="131.50" y1="116.20" x2="131.50" y2="122.20" stroke="#2f3190" stroke-width="0.7"/>
<line x1="130.30" y1="122.20" x2="132.70" y2="122.20" stroke="#2f3190" stroke-width="0.7"/>
<line x1="131.50" y1="122.20" x2="131.50" y2="116.20" stroke="#2f3190" stroke-width="0.7"/>
<line x1="130.30" y1="116.20" x2="132.70" y2="116.20" stroke="#2f3190" stroke-width="0.7"/>
<line x1="142.80" y1="124.30" x2="142.80" y2="130.30" stroke="#2f3190" stroke-width="0.7"/>
<line x1="141.60" y1="130.30" x2="144.00" y2="130.30" stroke="#2f3190" stroke-width="0.7"/>
<line x1="142.80" y1="130.30" x2="142.80" y2="124.30" stroke="#2f3190" stroke-width="0.7"/>
<line x1="141.60" y1="124.30" x2="144.00" y2="124.30" stroke="#2f3190" stroke-width="0.7"/>
<line x1="153.40" y1="126.60" x2="153.40" y2="132.60" stroke="#2f3190" stroke-width="0.7"/>
<line x1="152.20" y1="132.60" x2="154.60" y2="132.60" stroke="#2f3190" stroke-width="0.7"/>
<line x1="153.40" y1="132.60" x2="153.40" y2="126.60" stroke="#2f3190" stroke-width="0.7"/>
<line x1="152.20" y1="126.60" x2="154.60" y2="126.60" stroke="#2f3190" stroke-width="0.7"/>
<line x1="142.80" y1="112.80" x2="142.80" y2="117.80" stroke="#23884a" stroke-width="0.7"/>
<line x1="141.60" y1="117.80" x2="144.00" y2="117.80" stroke="#23884a" stroke-width="0.7"/>
<line x1="142.80" y1="117.80" x2="142.80" y2="112.80" stroke="#23884a" stroke-width="0.7"/>
<line x1="141.60" y1="112.80" x2="144.00" y2="112.80" stroke="#23884a" stroke-width="0.7"/>
<line x1="153.40" y1="117.90" x2="153.40" y2="122.90" stroke="#23884a" stroke-width="0.7"/>
<line x1="152.20" y1="122.90" x2="154.60" y2="122.90" stroke="#23884a" stroke-width="0.7"/>
<line x1="153.40" y1="122.90" x2="153.40" y2="117.90" stroke="#23884a" stroke-width="0.7"/>
<line x1="152.20" y1="117.90" x2="154.60" y2="117.90" stroke="#23884a" stroke-width="0.7"/>
<line x1="164.50" y1="124.10" x2="164.50" y2="129.10" stroke="#23884a" stroke-width="0.7"/>
<line x1="163.30" y1="129.10" x2="165.70" y2="129.10" stroke="#23884a" stroke-width="0.7"/>
<line x1="164.50" y1="129.10" x2="164.50" y2="124.10" stroke="#23884a" stroke-width="0.7"/>
<line x1="163.30" y1="124.10" x2="165.70" y2="124.10" stroke="#23884a" stroke-width="0.7"/>
<rect x="72.31" y="118.91" width="3.78" height="3.78" fill="#8456b0"/>
<rect x="72.31" y="121.21" width="3.78" height="3.78" fill="#8456b0"/>
<rect x="74.11" y="131.01" width="3.78" height="3.78" fill="#8456b0"/>
<rect x="75.81" y="135.01" width="3.78" height="3.78" fill="#8456b0"/>
<rect x="83.61" y="115.41" width="3.78" height="3.78" fill="#8456b0"/>
<rect x="94.31" y="135.01" width="3.78" height="3.78" fill="#8456b0"/>
<rect x="94.31" y="116.61" width="3.78" height="3.78" fill="#8456b0"/>
<rect x="105.81" y="135.01" width="3.78" height="3.78" fill="#8456b0"/>
<rect x="105.81" y="115.41" width="3.78" height="3.78" fill="#8456b0"/>
<rect x="107.51" y="123.51" width="3.78" height="3.78" fill="#8456b0"/>
<rect x="109.01" y="129.31" width="3.78" height="3.78" fill="#8456b0"/>
<rect x="110.41" y="132.11" width="3.78" height="3.78" fill="#8456b0"/>
<rect x="112.11" y="135.01" width="3.78" height="3.78" fill="#8456b0"/>
<rect x="72.31" y="91.81" width="3.78" height="3.78" fill="#2f3190"/>
<rect x="72.31" y="93.51" width="3.78" height="3.78" fill="#2f3190"/>
<rect x="74.11" y="101.01" width="3.78" height="3.78" fill="#2f3190"/>
<rect x="75.81" y="105.01" width="3.78" height="3.78" fill="#2f3190"/>
<rect x="76.91" y="107.31" width="3.78" height="3.78" fill="#2f3190"/>
<rect x="78.71" y="109.61" width="3.78" height="3.78" fill="#2f3190"/>
<rect x="83.61" y="115.41" width="3.78" height="3.78" fill="#2f3190"/>
<rect x="83.61" y="90.01" width="3.78" height="3.78" fill="#2f3190"/>
<rect x="94.31" y="110.81" width="3.78" height="3.78" fill="#2f3190"/>
<rect x="94.31" y="90.01" width="3.78" height="3.78" fill="#2f3190"/>
<rect x="105.81" y="109.11" width="3.78" height="3.78" fill="#2f3190"/>
<rect x="105.81" y="96.91" width="3.78" height="3.78" fill="#2f3190"/>
<rect x="107.51" y="100.41" width="3.78" height="3.78" fill="#2f3190"/>
<rect x="109.01" y="102.71" width="3.78" height="3.78" fill="#2f3190"/>
<rect x="110.41" y="104.41" width="3.78" height="3.78" fill="#2f3190"/>
<rect x="118.51" y="110.41" width="3.78" height="3.78" fill="#2f3190"/>
<rect x="129.61" y="117.31" width="3.78" height="3.78" fill="#2f3190"/>
<rect x="140.91" y="125.41" width="3.78" height="3.78" fill="#2f3190"/>
<rect x="151.51" y="127.71" width="3.78" height="3.78" fill="#2f3190"/>
<rect x="162.61" y="135.11" width="3.78" height="3.78" fill="#2f3190"/>
<circle cx="74.20" cy="83.30" r="2.3100000000000005" fill="#23884a" stroke="none" stroke-width="0"/>
<circle cx="74.20" cy="88.00" r="2.3100000000000005" fill="#23884a" stroke="none" stroke-width="0"/>
<circle cx="76.00" cy="95.40" r="2.3100000000000005" fill="#23884a" stroke="none" stroke-width="0"/>
<circle cx="77.70" cy="97.70" r="2.3100000000000005" fill="#23884a" stroke="none" stroke-width="0"/>
<circle cx="80.60" cy="100.00" r="2.3100000000000005" fill="#23884a" stroke="none" stroke-width="0"/>
<circle cx="85.50" cy="105.80" r="2.3100000000000005" fill="#23884a" stroke="none" stroke-width="0"/>
<circle cx="85.50" cy="81.50" r="2.3100000000000005" fill="#23884a" stroke="none" stroke-width="0"/>
<circle cx="96.20" cy="101.20" r="2.3100000000000005" fill="#23884a" stroke="none" stroke-width="0"/>
<circle cx="96.20" cy="81.50" r="2.3100000000000005" fill="#23884a" stroke="none" stroke-width="0"/>
<circle cx="107.70" cy="98.80" r="2.3100000000000005" fill="#23884a" stroke="none" stroke-width="0"/>
<circle cx="107.70" cy="81.00" r="2.3100000000000005" fill="#23884a" stroke="none" stroke-width="0"/>
<circle cx="109.40" cy="90.80" r="2.3100000000000005" fill="#23884a" stroke="none" stroke-width="0"/>
<circle cx="110.90" cy="93.10" r="2.3100000000000005" fill="#23884a" stroke="none" stroke-width="0"/>
<circle cx="114.00" cy="94.80" r="2.3100000000000005" fill="#23884a" stroke="none" stroke-width="0"/>
<circle cx="120.40" cy="99.60" r="2.3100000000000005" fill="#23884a" stroke="none" stroke-width="0"/>
<circle cx="131.50" cy="109.30" r="2.3100000000000005" fill="#23884a" stroke="none" stroke-width="0"/>
<circle cx="142.80" cy="115.30" r="2.3100000000000005" fill="#23884a" stroke="none" stroke-width="0"/>
<circle cx="153.40" cy="120.40" r="2.3100000000000005" fill="#23884a" stroke="none" stroke-width="0"/>
<circle cx="164.50" cy="126.60" r="2.3100000000000005" fill="#23884a" stroke="none" stroke-width="0"/>
<circle cx="186.90" cy="137.00" r="2.3100000000000005" fill="#23884a" stroke="none" stroke-width="0"/>
<circle cx="74.20" cy="74.60" r="2.3100000000000005" fill="#d62c68" stroke="none" stroke-width="0"/>
<circle cx="74.20" cy="76.50" r="2.3100000000000005" fill="#d62c68" stroke="none" stroke-width="0"/>
<circle cx="74.20" cy="78.00" r="2.3100000000000005" fill="#d62c68" stroke="none" stroke-width="0"/>
<circle cx="76.00" cy="84.40" r="2.3100000000000005" fill="#d62c68" stroke="none" stroke-width="0"/>
<circle cx="77.70" cy="89.00" r="2.3100000000000005" fill="#d62c68" stroke="none" stroke-width="0"/>
<circle cx="78.80" cy="91.30" r="2.3100000000000005" fill="#d62c68" stroke="none" stroke-width="0"/>
<circle cx="80.60" cy="93.00" r="2.3100000000000005" fill="#d62c68" stroke="none" stroke-width="0"/>
<circle cx="85.50" cy="98.80" r="2.3100000000000005" fill="#d62c68" stroke="none" stroke-width="0"/>
<circle cx="85.50" cy="73.70" r="2.3100000000000005" fill="#d62c68" stroke="none" stroke-width="0"/>
<circle cx="96.20" cy="97.70" r="2.3100000000000005" fill="#d62c68" stroke="none" stroke-width="0"/>
<circle cx="96.20" cy="73.70" r="2.3100000000000005" fill="#d62c68" stroke="none" stroke-width="0"/>
<circle cx="107.70" cy="94.20" r="2.3100000000000005" fill="#d62c68" stroke="none" stroke-width="0"/>
<circle cx="107.70" cy="72.30" r="2.3100000000000005" fill="#d62c68" stroke="none" stroke-width="0"/>
<circle cx="107.70" cy="74.60" r="2.3100000000000005" fill="#d62c68" stroke="none" stroke-width="0"/>
<circle cx="108.30" cy="77.50" r="2.3100000000000005" fill="#d62c68" stroke="none" stroke-width="0"/>
<circle cx="109.40" cy="81.00" r="2.3100000000000005" fill="#d62c68" stroke="none" stroke-width="0"/>
<circle cx="110.90" cy="83.80" r="2.3100000000000005" fill="#d62c68" stroke="none" stroke-width="0"/>
<circle cx="112.30" cy="85.60" r="2.3100000000000005" fill="#d62c68" stroke="none" stroke-width="0"/>
<circle cx="114.00" cy="87.90" r="2.3100000000000005" fill="#d62c68" stroke="none" stroke-width="0"/>
<circle cx="120.40" cy="92.70" r="2.3100000000000005" fill="#d62c68" stroke="none" stroke-width="0"/>
<circle cx="131.50" cy="98.90" r="2.3100000000000005" fill="#d62c68" stroke="none" stroke-width="0"/>
<circle cx="142.80" cy="104.20" r="2.3100000000000005" fill="#d62c68" stroke="none" stroke-width="0"/>
<circle cx="153.40" cy="110.00" r="2.3100000000000005" fill="#d62c68" stroke="none" stroke-width="0"/>
<circle cx="164.50" cy="116.20" r="2.3100000000000005" fill="#d62c68" stroke="none" stroke-width="0"/>
<circle cx="186.90" cy="128.90" r="2.3100000000000005" fill="#d62c68" stroke="none" stroke-width="0"/>
<circle cx="209.20" cy="137.00" r="2.3100000000000005" fill="#d62c68" stroke="none" stroke-width="0"/>
<text x="257.00" y="11.80" font-size="13.6" font-weight="bold" textLength="8.60" lengthAdjust="spacingAndGlyphs" stroke="#1a1a1a" stroke-width="0.35">B</text>
<text x="331.90" y="20.60" font-size="8.8" font-weight="bold" textLength="102.00" lengthAdjust="spacingAndGlyphs" stroke="#1a1a1a" stroke-width="0.22">MGD011 Circulating levels</text>
<line x1="301.00" y1="31.50" x2="301.00" y2="160.80" stroke="#1a1a1a" stroke-width="1.45"/>
<line x1="300.50" y1="160.50" x2="463.74" y2="160.50" stroke="#1a1a1a" stroke-width="1.5"/>
<line x1="298.40" y1="160.00" x2="301.00" y2="160.00" stroke="#1a1a1a" stroke-width="0.8"/>
<text x="298.00" y="162.10" font-size="6.3" text-anchor="end" textLength="8.49" lengthAdjust="spacingAndGlyphs" stroke="#1a1a1a" stroke-width="0.28">0.1</text>
<line x1="299.60" y1="152.29" x2="301.00" y2="152.29" stroke="#1a1a1a" stroke-width="0.6"/>
<line x1="299.60" y1="147.79" x2="301.00" y2="147.79" stroke="#1a1a1a" stroke-width="0.6"/>
<line x1="299.60" y1="144.59" x2="301.00" y2="144.59" stroke="#1a1a1a" stroke-width="0.6"/>
<line x1="299.60" y1="142.11" x2="301.00" y2="142.11" stroke="#1a1a1a" stroke-width="0.6"/>
<line x1="299.60" y1="140.08" x2="301.00" y2="140.08" stroke="#1a1a1a" stroke-width="0.6"/>
<line x1="299.60" y1="138.37" x2="301.00" y2="138.37" stroke="#1a1a1a" stroke-width="0.6"/>
<line x1="299.60" y1="136.88" x2="301.00" y2="136.88" stroke="#1a1a1a" stroke-width="0.6"/>
<line x1="299.60" y1="135.57" x2="301.00" y2="135.57" stroke="#1a1a1a" stroke-width="0.6"/>
<line x1="298.40" y1="134.40" x2="301.00" y2="134.40" stroke="#1a1a1a" stroke-width="0.8"/>
<text x="298.00" y="136.50" font-size="6.3" text-anchor="end" textLength="3.40" lengthAdjust="spacingAndGlyphs" stroke="#1a1a1a" stroke-width="0.28">1</text>
<line x1="299.60" y1="126.69" x2="301.00" y2="126.69" stroke="#1a1a1a" stroke-width="0.6"/>
<line x1="299.60" y1="122.19" x2="301.00" y2="122.19" stroke="#1a1a1a" stroke-width="0.6"/>
<line x1="299.60" y1="118.99" x2="301.00" y2="118.99" stroke="#1a1a1a" stroke-width="0.6"/>
<line x1="299.60" y1="116.51" x2="301.00" y2="116.51" stroke="#1a1a1a" stroke-width="0.6"/>
<line x1="299.60" y1="114.48" x2="301.00" y2="114.48" stroke="#1a1a1a" stroke-width="0.6"/>
<line x1="299.60" y1="112.77" x2="301.00" y2="112.77" stroke="#1a1a1a" stroke-width="0.6"/>
<line x1="299.60" y1="111.28" x2="301.00" y2="111.28" stroke="#1a1a1a" stroke-width="0.6"/>
<line x1="299.60" y1="109.97" x2="301.00" y2="109.97" stroke="#1a1a1a" stroke-width="0.6"/>
<line x1="298.40" y1="108.80" x2="301.00" y2="108.80" stroke="#1a1a1a" stroke-width="0.8"/>
<text x="298.00" y="110.90" font-size="6.3" text-anchor="end" textLength="6.80" lengthAdjust="spacingAndGlyphs" stroke="#1a1a1a" stroke-width="0.28">10</text>
<line x1="299.60" y1="101.09" x2="301.00" y2="101.09" stroke="#1a1a1a" stroke-width="0.6"/>
<line x1="299.60" y1="96.59" x2="301.00" y2="96.59" stroke="#1a1a1a" stroke-width="0.6"/>
<line x1="299.60" y1="93.39" x2="301.00" y2="93.39" stroke="#1a1a1a" stroke-width="0.6"/>
<line x1="299.60" y1="90.91" x2="301.00" y2="90.91" stroke="#1a1a1a" stroke-width="0.6"/>
<line x1="299.60" y1="88.88" x2="301.00" y2="88.88" stroke="#1a1a1a" stroke-width="0.6"/>
<line x1="299.60" y1="87.17" x2="301.00" y2="87.17" stroke="#1a1a1a" stroke-width="0.6"/>
<line x1="299.60" y1="85.68" x2="301.00" y2="85.68" stroke="#1a1a1a" stroke-width="0.6"/>
<line x1="299.60" y1="84.37" x2="301.00" y2="84.37" stroke="#1a1a1a" stroke-width="0.6"/>
<line x1="298.40" y1="83.20" x2="301.00" y2="83.20" stroke="#1a1a1a" stroke-width="0.8"/>
<text x="298.00" y="85.30" font-size="6.3" text-anchor="end" textLength="10.19" lengthAdjust="spacingAndGlyphs" stroke="#1a1a1a" stroke-width="0.28">100</text>
<line x1="299.60" y1="75.49" x2="301.00" y2="75.49" stroke="#1a1a1a" stroke-width="0.6"/>
<line x1="299.60" y1="70.99" x2="301.00" y2="70.99" stroke="#1a1a1a" stroke-width="0.6"/>
<line x1="299.60" y1="67.79" x2="301.00" y2="67.79" stroke="#1a1a1a" stroke-width="0.6"/>
<line x1="299.60" y1="65.31" x2="301.00" y2="65.31" stroke="#1a1a1a" stroke-width="0.6"/>
<line x1="299.60" y1="63.28" x2="301.00" y2="63.28" stroke="#1a1a1a" stroke-width="0.6"/>
<line x1="299.60" y1="61.57" x2="301.00" y2="61.57" stroke="#1a1a1a" stroke-width="0.6"/>
<line x1="299.60" y1="60.08" x2="301.00" y2="60.08" stroke="#1a1a1a" stroke-width="0.6"/>
<line x1="299.60" y1="58.77" x2="301.00" y2="58.77" stroke="#1a1a1a" stroke-width="0.6"/>
<line x1="298.40" y1="57.60" x2="301.00" y2="57.60" stroke="#1a1a1a" stroke-width="0.8"/>
<text x="298.00" y="59.70" font-size="6.3" text-anchor="end" textLength="15.29" lengthAdjust="spacingAndGlyphs" stroke="#1a1a1a" stroke-width="0.28">1,000</text>
<line x1="299.60" y1="49.89" x2="301.00" y2="49.89" stroke="#1a1a1a" stroke-width="0.6"/>
<line x1="299.60" y1="45.39" x2="301.00" y2="45.39" stroke="#1a1a1a" stroke-width="0.6"/>
<line x1="299.60" y1="42.19" x2="301.00" y2="42.19" stroke="#1a1a1a" stroke-width="0.6"/>
<line x1="299.60" y1="39.71" x2="301.00" y2="39.71" stroke="#1a1a1a" stroke-width="0.6"/>
<line x1="299.60" y1="37.68" x2="301.00" y2="37.68" stroke="#1a1a1a" stroke-width="0.6"/>
<line x1="299.60" y1="35.97" x2="301.00" y2="35.97" stroke="#1a1a1a" stroke-width="0.6"/>
<line x1="299.60" y1="34.48" x2="301.00" y2="34.48" stroke="#1a1a1a" stroke-width="0.6"/>
<line x1="299.60" y1="33.17" x2="301.00" y2="33.17" stroke="#1a1a1a" stroke-width="0.6"/>
<line x1="298.40" y1="32.00" x2="301.00" y2="32.00" stroke="#1a1a1a" stroke-width="0.8"/>
<text x="298.00" y="34.10" font-size="6.3" text-anchor="end" textLength="18.69" lengthAdjust="spacingAndGlyphs" stroke="#1a1a1a" stroke-width="0.28">10,000</text>
<line x1="302.80" y1="160.50" x2="302.80" y2="162.70" stroke="#1a1a1a" stroke-width="0.8"/>
<text x="302.80" y="168.80" font-size="6.3" text-anchor="middle" textLength="3.40" lengthAdjust="spacingAndGlyphs" stroke="#1a1a1a" stroke-width="0.28">0</text>
<line x1="322.86" y1="160.50" x2="322.86" y2="162.70" stroke="#1a1a1a" stroke-width="0.8"/>
<text x="322.86" y="168.80" font-size="6.3" text-anchor="middle" textLength="3.40" lengthAdjust="spacingAndGlyphs" stroke="#1a1a1a" stroke-width="0.28">7</text>
<line x1="342.91" y1="160.50" x2="342.91" y2="162.70" stroke="#1a1a1a" stroke-width="0.8"/>
<text x="342.91" y="168.80" font-size="6.3" text-anchor="middle" textLength="6.80" lengthAdjust="spacingAndGlyphs" stroke="#1a1a1a" stroke-width="0.28">14</text>
<line x1="362.97" y1="160.50" x2="362.97" y2="162.70" stroke="#1a1a1a" stroke-width="0.8"/>
<text x="362.97" y="168.80" font-size="6.3" text-anchor="middle" textLength="6.80" lengthAdjust="spacingAndGlyphs" stroke="#1a1a1a" stroke-width="0.28">21</text>
<line x1="383.02" y1="160.50" x2="383.02" y2="162.70" stroke="#1a1a1a" stroke-width="0.8"/>
<text x="383.02" y="168.80" font-size="6.3" text-anchor="middle" textLength="6.80" lengthAdjust="spacingAndGlyphs" stroke="#1a1a1a" stroke-width="0.28">28</text>
<line x1="403.08" y1="160.50" x2="403.08" y2="162.70" stroke="#1a1a1a" stroke-width="0.8"/>
<text x="403.08" y="168.80" font-size="6.3" text-anchor="middle" textLength="6.80" lengthAdjust="spacingAndGlyphs" stroke="#1a1a1a" stroke-width="0.28">35</text>
<line x1="423.13" y1="160.50" x2="423.13" y2="162.70" stroke="#1a1a1a" stroke-width="0.8"/>
<text x="423.13" y="168.80" font-size="6.3" text-anchor="middle" textLength="6.80" lengthAdjust="spacingAndGlyphs" stroke="#1a1a1a" stroke-width="0.28">42</text>
<line x1="443.19" y1="160.50" x2="443.19" y2="162.70" stroke="#1a1a1a" stroke-width="0.8"/>
<text x="443.19" y="168.80" font-size="6.3" text-anchor="middle" textLength="6.80" lengthAdjust="spacingAndGlyphs" stroke="#1a1a1a" stroke-width="0.28">49</text>
<line x1="463.24" y1="160.50" x2="463.24" y2="162.70" stroke="#1a1a1a" stroke-width="0.8"/>
<text x="463.24" y="168.80" font-size="6.3" text-anchor="middle" textLength="6.80" lengthAdjust="spacingAndGlyphs" stroke="#1a1a1a" stroke-width="0.28">56</text>
<line x1="301.00" y1="124.20" x2="378.00" y2="124.20" stroke="#555" stroke-width="0.7" stroke-dasharray="1,1.3"/>
<path d="M304.00,179.40V173.10M302.40,174.80L304.00,172.60L305.60,174.80" fill="none" stroke="#1a1a1a" stroke-width="0.8"/>
<text x="304.00" y="187.70" font-size="6.6" font-weight="bold" text-anchor="middle" textLength="3.87" lengthAdjust="spacingAndGlyphs" stroke="#1a1a1a" stroke-width="0.22">V</text>
<path d="M324.06,179.40V173.10M322.45,174.80L324.06,172.60L325.66,174.80" fill="none" stroke="#1a1a1a" stroke-width="0.8"/>
<text x="324.06" y="187.70" font-size="6.6" font-weight="bold" text-anchor="middle" textLength="4.19" lengthAdjust="spacingAndGlyphs" stroke="#1a1a1a" stroke-width="0.22">D</text>
<path d="M334.08,179.40V173.10M332.48,174.80L334.08,172.60L335.68,174.80" fill="none" stroke="#1a1a1a" stroke-width="0.8"/>
<text x="334.08" y="187.70" font-size="6.6" font-weight="bold" text-anchor="middle" textLength="8.06" lengthAdjust="spacingAndGlyphs" stroke="#1a1a1a" stroke-width="0.22">(D)</text>
<path d="M344.11,179.40V173.10M342.51,174.80L344.11,172.60L345.71,174.80" fill="none" stroke="#1a1a1a" stroke-width="0.8"/>
<text x="344.11" y="187.70" font-size="6.6" font-weight="bold" text-anchor="middle" textLength="4.19" lengthAdjust="spacingAndGlyphs" stroke="#1a1a1a" stroke-width="0.22">D</text>
<path d="M354.14,179.40V173.10M352.54,174.80L354.14,172.60L355.74,174.80" fill="none" stroke="#1a1a1a" stroke-width="0.8"/>
<text x="354.14" y="187.70" font-size="6.6" font-weight="bold" text-anchor="middle" textLength="8.06" lengthAdjust="spacingAndGlyphs" stroke="#1a1a1a" stroke-width="0.22">(D)</text>
<path d="M364.17,179.40V173.10M362.56,174.80L364.17,172.60L365.77,174.80" fill="none" stroke="#1a1a1a" stroke-width="0.8"/>
<text x="364.17" y="187.70" font-size="6.6" font-weight="bold" text-anchor="middle" textLength="4.19" lengthAdjust="spacingAndGlyphs" stroke="#1a1a1a" stroke-width="0.22">D</text>
<path d="M384.22,179.40V173.10M382.62,174.80L384.22,172.60L385.82,174.80" fill="none" stroke="#1a1a1a" stroke-width="0.8"/>
<text x="384.22" y="187.70" font-size="6.6" font-weight="bold" text-anchor="middle" textLength="4.19" lengthAdjust="spacingAndGlyphs" stroke="#1a1a1a" stroke-width="0.22">D</text>
<text x="372.00" y="197.60" font-size="7.3" font-weight="bold" textLength="39.50" lengthAdjust="spacingAndGlyphs" stroke="#1a1a1a" stroke-width="0.22">Study days</text>
<text x="265.60" y="92.40" font-size="7.6" font-weight="bold" text-anchor="middle" textLength="23.00" lengthAdjust="spacingAndGlyphs" transform="rotate(-90 265.60 92.40)" stroke="#1a1a1a" stroke-width="0.22">ng/mL</text>
<text x="276.60" y="92.40" font-size="7.6" font-weight="bold" text-anchor="middle" textLength="49.00" lengthAdjust="spacingAndGlyphs" transform="rotate(-90 276.60 92.40)" stroke="#1a1a1a" stroke-width="0.22">(Mean ± SEM)</text>
<line x1="375.80" y1="108.70" x2="384.60" y2="108.70" stroke="#b44a7a" stroke-width="0.9"/>
<circle cx="380.20" cy="108.70" r="2.09" fill="#d62c68" stroke="none" stroke-width="0"/>
<text x="390.20" y="111.10" font-size="7.0" textLength="84.80" lengthAdjust="spacingAndGlyphs" stroke="#1a1a1a" stroke-width="0.28">2 <tspan font-family="'DejaVu Sans', sans-serif" font-weight="normal">→</tspan> 10 <tspan font-family="'DejaVu Sans', sans-serif" font-weight="normal">→</tspan> 100 <tspan font-family="'DejaVu Sans', sans-serif" font-weight="normal">→</tspan> 100 µg/kg</text>
<line x1="375.80" y1="118.95" x2="384.60" y2="118.95" stroke="#42468e" stroke-width="0.9"/>
<rect x="378.49" y="117.24" width="3.42" height="3.42" fill="#2f3190"/>
<text x="390.20" y="121.35" font-size="7.0" textLength="82.80" lengthAdjust="spacingAndGlyphs" stroke="#1a1a1a" stroke-width="0.28">0.5 <tspan font-family="'DejaVu Sans', sans-serif" font-weight="normal">→</tspan> 5 <tspan font-family="'DejaVu Sans', sans-serif" font-weight="normal">→</tspan> 50 <tspan font-family="'DejaVu Sans', sans-serif" font-weight="normal">→</tspan> 50 µg/kg</text>
<line x1="375.80" y1="129.20" x2="384.60" y2="129.20" stroke="#3a7e56" stroke-width="0.9"/>
<path d="M380.20,127.30 L382.10,130.72 L378.30,130.72Z" fill="#23884a"/>
<text x="390.20" y="131.60" font-size="7.0" textLength="65.80" lengthAdjust="spacingAndGlyphs" stroke="#1a1a1a" stroke-width="0.28">0.5 <tspan font-family="'DejaVu Sans', sans-serif" font-weight="normal">→</tspan> 0.5 <tspan font-family="'DejaVu Sans', sans-serif" font-weight="normal">→</tspan> 0.5 µg/kg</text>
<line x1="375.80" y1="139.45" x2="384.60" y2="139.45" stroke="#8c6cae" stroke-width="0.9"/>
<path d="M378.49,139.45H381.91M380.20,137.74V141.16" stroke="#8456b0" stroke-width="1.1"/>
<text x="390.20" y="141.85" font-size="7.0" textLength="115.30" lengthAdjust="spacingAndGlyphs" stroke="#1a1a1a" stroke-width="0.28">0.5 <tspan font-family="'DejaVu Sans', sans-serif" font-weight="normal">→</tspan> (0.5) <tspan font-family="'DejaVu Sans', sans-serif" font-weight="normal">→</tspan> 0.5 <tspan font-family="'DejaVu Sans', sans-serif" font-weight="normal">→</tspan> (0.5) <tspan font-family="'DejaVu Sans', sans-serif" font-weight="normal">→</tspan> 0.5 µg/kg</text>
<polyline points="325.00,112.40 340.00,124.60" fill="none" stroke="#3a7e56" stroke-width="0.8"/>
<polyline points="345.20,112.00 365.30,131.80" fill="none" stroke="#3a7e56" stroke-width="0.8"/>
<polyline points="365.30,131.80 365.30,110.40" fill="none" stroke="#3a7e56" stroke-width="0.8"/>
<polyline points="324.70,107.50 333.80,109.30 345.00,122.50" fill="none" stroke="#8c6cae" stroke-width="0.8"/>
<polyline points="345.00,108.80 353.90,108.80 365.00,119.20" fill="none" stroke="#8c6cae" stroke-width="0.8"/>
<polyline points="345.00,122.50 345.00,108.80" fill="none" stroke="#8c6cae" stroke-width="0.8"/>
<polyline points="324.70,107.00 345.20,131.40 345.20,83.80 365.30,107.80 365.30,57.20 385.50,81.50 385.50,57.00 385.50,60.00 386.90,62.30 388.90,67.40 394.20,71.50 405.80,76.20 414.60,80.30 446.50,89.50" fill="none" stroke="#42468e" stroke-width="0.95"/>
<polyline points="324.90,95.10 345.20,116.80 345.20,76.20 365.30,97.70 365.30,50.00 385.50,73.90 385.50,48.00 385.50,50.50 385.50,52.50 386.40,54.50 388.70,56.20 394.20,61.20 405.80,65.40 414.60,69.70 446.50,78.50" fill="none" stroke="#b44a7a" stroke-width="0.95"/>
<line x1="446.50" y1="78.50" x2="446.50" y2="74.60" stroke="#d62c68" stroke-width="0.8"/>
<line x1="445.00" y1="74.60" x2="448.00" y2="74.60" stroke="#d62c68" stroke-width="0.8"/>
<line x1="446.50" y1="78.50" x2="446.50" y2="82.30" stroke="#d62c68" stroke-width="0.8"/>
<line x1="445.00" y1="82.30" x2="448.00" y2="82.30" stroke="#d62c68" stroke-width="0.8"/>
<path d="M325.00,110.60 L326.80,113.84 L323.20,113.84Z" fill="#23884a"/>
<path d="M340.00,122.80 L341.80,126.04 L338.20,126.04Z" fill="#23884a"/>
<path d="M345.20,110.20 L347.00,113.44 L343.40,113.44Z" fill="#23884a"/>
<path d="M365.30,130.00 L367.10,133.24 L363.50,133.24Z" fill="#23884a"/>
<path d="M365.30,108.60 L367.10,111.84 L363.50,111.84Z" fill="#23884a"/>
<path d="M365.80,111.70 L367.60,114.94 L364.00,114.94Z" fill="#23884a"/>
<path d="M366.30,114.70 L368.10,117.94 L364.50,117.94Z" fill="#23884a"/>
<path d="M367.30,116.70 L369.10,119.94 L365.50,119.94Z" fill="#23884a"/>
<path d="M332.18,109.30H335.42M333.80,107.68V110.92" stroke="#8456b0" stroke-width="1.1"/>
<path d="M343.38,122.50H346.62M345.00,120.88V124.12" stroke="#8456b0" stroke-width="1.1"/>
<path d="M343.38,108.80H346.62M345.00,107.18V110.42" stroke="#8456b0" stroke-width="1.1"/>
<path d="M352.28,108.80H355.52M353.90,107.18V110.42" stroke="#8456b0" stroke-width="1.1"/>
<path d="M363.38,119.20H366.62M365.00,117.58V120.82" stroke="#8456b0" stroke-width="1.1"/>
<rect x="322.81" y="105.11" width="3.78" height="3.78" fill="#2f3190"/>
<rect x="343.31" y="129.51" width="3.78" height="3.78" fill="#2f3190"/>
<rect x="343.31" y="81.91" width="3.78" height="3.78" fill="#2f3190"/>
<rect x="363.41" y="105.91" width="3.78" height="3.78" fill="#2f3190"/>
<rect x="363.41" y="55.31" width="3.78" height="3.78" fill="#2f3190"/>
<rect x="383.61" y="79.61" width="3.78" height="3.78" fill="#2f3190"/>
<rect x="383.61" y="55.11" width="3.78" height="3.78" fill="#2f3190"/>
<rect x="383.61" y="58.11" width="3.78" height="3.78" fill="#2f3190"/>
<rect x="385.01" y="60.41" width="3.78" height="3.78" fill="#2f3190"/>
<rect x="387.01" y="65.51" width="3.78" height="3.78" fill="#2f3190"/>
<rect x="392.31" y="69.61" width="3.78" height="3.78" fill="#2f3190"/>
<rect x="403.91" y="74.31" width="3.78" height="3.78" fill="#2f3190"/>
<rect x="412.71" y="78.41" width="3.78" height="3.78" fill="#2f3190"/>
<rect x="444.61" y="87.61" width="3.78" height="3.78" fill="#2f3190"/>
<circle cx="324.90" cy="95.10" r="2.53" fill="#d62c68" stroke="none" stroke-width="0"/>
<circle cx="345.20" cy="116.80" r="2.53" fill="#d62c68" stroke="none" stroke-width="0"/>
<circle cx="345.20" cy="76.20" r="2.53" fill="#d62c68" stroke="none" stroke-width="0"/>
<circle cx="365.30" cy="97.70" r="2.53" fill="#d62c68" stroke="none" stroke-width="0"/>
<circle cx="365.30" cy="50.00" r="2.53" fill="#d62c68" stroke="none" stroke-width="0"/>
<circle cx="385.50" cy="73.90" r="2.53" fill="#d62c68" stroke="none" stroke-width="0"/>
<circle cx="385.50" cy="48.00" r="2.53" fill="#d62c68" stroke="none" stroke-width="0"/>
<circle cx="385.50" cy="50.50" r="2.53" fill="#d62c68" stroke="none" stroke-width="0"/>
<circle cx="385.50" cy="52.50" r="2.53" fill="#d62c68" stroke="none" stroke-width="0"/>
<circle cx="386.40" cy="54.50" r="2.53" fill="#d62c68" stroke="none" stroke-width="0"/>
<circle cx="388.70" cy="56.20" r="2.53" fill="#d62c68" stroke="none" stroke-width="0"/>
<circle cx="394.20" cy="61.20" r="2.53" fill="#d62c68" stroke="none" stroke-width="0"/>
<circle cx="405.80" cy="65.40" r="2.53" fill="#d62c68" stroke="none" stroke-width="0"/>
<circle cx="414.60" cy="69.70" r="2.53" fill="#d62c68" stroke="none" stroke-width="0"/>
<circle cx="446.50" cy="78.50" r="2.53" fill="#d62c68" stroke="none" stroke-width="0"/>
<text x="3.80" y="211.20" font-size="13.6" font-weight="bold" textLength="9.20" lengthAdjust="spacingAndGlyphs" stroke="#1a1a1a" stroke-width="0.35">C</text>
<line x1="47.50" y1="225.30" x2="47.50" y2="354.20" stroke="#1a1a1a" stroke-width="1.45"/>
<line x1="47.00" y1="353.80" x2="214.60" y2="353.80" stroke="#1a1a1a" stroke-width="1.45"/>
<line x1="214.60" y1="351.60" x2="214.60" y2="356.00" stroke="#1a1a1a" stroke-width="0.9"/>
<line x1="219.60" y1="353.80" x2="240.20" y2="353.80" stroke="#1a1a1a" stroke-width="1.45"/>
<line x1="219.60" y1="351.60" x2="219.60" y2="356.00" stroke="#1a1a1a" stroke-width="0.9"/>
<line x1="44.90" y1="350.50" x2="47.50" y2="350.50" stroke="#1a1a1a" stroke-width="0.95"/>
<text x="44.50" y="352.60" font-size="6.3" text-anchor="end" textLength="3.33" lengthAdjust="spacingAndGlyphs" stroke="#1a1a1a" stroke-width="0.28">0</text>
<line x1="44.90" y1="334.90" x2="47.50" y2="334.90" stroke="#1a1a1a" stroke-width="0.95"/>
<text x="44.50" y="337.00" font-size="6.3" text-anchor="end" textLength="9.98" lengthAdjust="spacingAndGlyphs" stroke="#1a1a1a" stroke-width="0.28">250</text>
<line x1="44.90" y1="319.31" x2="47.50" y2="319.31" stroke="#1a1a1a" stroke-width="0.95"/>
<text x="44.50" y="321.41" font-size="6.3" text-anchor="end" textLength="9.98" lengthAdjust="spacingAndGlyphs" stroke="#1a1a1a" stroke-width="0.28">500</text>
<line x1="44.90" y1="303.72" x2="47.50" y2="303.72" stroke="#1a1a1a" stroke-width="0.95"/>
<text x="44.50" y="305.82" font-size="6.3" text-anchor="end" textLength="9.98" lengthAdjust="spacingAndGlyphs" stroke="#1a1a1a" stroke-width="0.28">750</text>
<line x1="44.90" y1="288.12" x2="47.50" y2="288.12" stroke="#1a1a1a" stroke-width="0.95"/>
<text x="44.50" y="290.22" font-size="6.3" text-anchor="end" textLength="14.98" lengthAdjust="spacingAndGlyphs" stroke="#1a1a1a" stroke-width="0.28">1,000</text>
<line x1="44.90" y1="272.52" x2="47.50" y2="272.52" stroke="#1a1a1a" stroke-width="0.95"/>
<text x="44.50" y="274.62" font-size="6.3" text-anchor="end" textLength="14.98" lengthAdjust="spacingAndGlyphs" stroke="#1a1a1a" stroke-width="0.28">1,250</text>
<line x1="44.90" y1="256.93" x2="47.50" y2="256.93" stroke="#1a1a1a" stroke-width="0.95"/>
<text x="44.50" y="259.03" font-size="6.3" text-anchor="end" textLength="14.98" lengthAdjust="spacingAndGlyphs" stroke="#1a1a1a" stroke-width="0.28">1,500</text>
<line x1="44.90" y1="241.34" x2="47.50" y2="241.34" stroke="#1a1a1a" stroke-width="0.95"/>
<text x="44.50" y="243.44" font-size="6.3" text-anchor="end" textLength="14.98" lengthAdjust="spacingAndGlyphs" stroke="#1a1a1a" stroke-width="0.28">1,750</text>
<line x1="44.90" y1="225.74" x2="47.50" y2="225.74" stroke="#1a1a1a" stroke-width="0.95"/>
<text x="44.50" y="227.84" font-size="6.3" text-anchor="end" textLength="14.98" lengthAdjust="spacingAndGlyphs" stroke="#1a1a1a" stroke-width="0.28">2,000</text>
<line x1="50.30" y1="353.80" x2="50.30" y2="356.00" stroke="#1a1a1a" stroke-width="0.95"/>
<text x="50.30" y="364.00" font-size="6.3" text-anchor="middle" textLength="6.82" lengthAdjust="spacingAndGlyphs" stroke="#1a1a1a" stroke-width="0.28">−7</text>
<line x1="61.20" y1="353.80" x2="61.20" y2="356.00" stroke="#1a1a1a" stroke-width="0.95"/>
<text x="61.20" y="364.00" font-size="6.3" text-anchor="middle" textLength="3.33" lengthAdjust="spacingAndGlyphs" stroke="#1a1a1a" stroke-width="0.28">0</text>
<line x1="72.10" y1="353.80" x2="72.10" y2="356.00" stroke="#1a1a1a" stroke-width="0.95"/>
<text x="72.10" y="364.00" font-size="6.3" text-anchor="middle" textLength="3.33" lengthAdjust="spacingAndGlyphs" stroke="#1a1a1a" stroke-width="0.28">7</text>
<line x1="83.00" y1="353.80" x2="83.00" y2="356.00" stroke="#1a1a1a" stroke-width="0.95"/>
<text x="83.00" y="364.00" font-size="6.3" text-anchor="middle" textLength="6.66" lengthAdjust="spacingAndGlyphs" stroke="#1a1a1a" stroke-width="0.28">14</text>
<line x1="93.90" y1="353.80" x2="93.90" y2="356.00" stroke="#1a1a1a" stroke-width="0.95"/>
<text x="93.90" y="364.00" font-size="6.3" text-anchor="middle" textLength="6.66" lengthAdjust="spacingAndGlyphs" stroke="#1a1a1a" stroke-width="0.28">21</text>
<line x1="104.80" y1="353.80" x2="104.80" y2="356.00" stroke="#1a1a1a" stroke-width="0.95"/>
<text x="104.80" y="364.00" font-size="6.3" text-anchor="middle" textLength="6.66" lengthAdjust="spacingAndGlyphs" stroke="#1a1a1a" stroke-width="0.28">28</text>
<line x1="115.69" y1="353.80" x2="115.69" y2="356.00" stroke="#1a1a1a" stroke-width="0.95"/>
<text x="115.69" y="364.00" font-size="6.3" text-anchor="middle" textLength="6.66" lengthAdjust="spacingAndGlyphs" stroke="#1a1a1a" stroke-width="0.28">35</text>
<line x1="126.59" y1="353.80" x2="126.59" y2="356.00" stroke="#1a1a1a" stroke-width="0.95"/>
<text x="126.59" y="364.00" font-size="6.3" text-anchor="middle" textLength="6.66" lengthAdjust="spacingAndGlyphs" stroke="#1a1a1a" stroke-width="0.28">42</text>
<line x1="137.49" y1="353.80" x2="137.49" y2="356.00" stroke="#1a1a1a" stroke-width="0.95"/>
<text x="137.49" y="364.00" font-size="6.3" text-anchor="middle" textLength="6.66" lengthAdjust="spacingAndGlyphs" stroke="#1a1a1a" stroke-width="0.28">49</text>
<line x1="148.39" y1="353.80" x2="148.39" y2="356.00" stroke="#1a1a1a" stroke-width="0.95"/>
<text x="148.39" y="364.00" font-size="6.3" text-anchor="middle" textLength="6.66" lengthAdjust="spacingAndGlyphs" stroke="#1a1a1a" stroke-width="0.28">56</text>
<line x1="159.29" y1="353.80" x2="159.29" y2="356.00" stroke="#1a1a1a" stroke-width="0.95"/>
<text x="159.29" y="364.00" font-size="6.3" text-anchor="middle" textLength="6.66" lengthAdjust="spacingAndGlyphs" stroke="#1a1a1a" stroke-width="0.28">63</text>
<line x1="170.19" y1="353.80" x2="170.19" y2="356.00" stroke="#1a1a1a" stroke-width="0.95"/>
<text x="170.19" y="364.00" font-size="6.3" text-anchor="middle" textLength="6.66" lengthAdjust="spacingAndGlyphs" stroke="#1a1a1a" stroke-width="0.28">70</text>
<line x1="181.09" y1="353.80" x2="181.09" y2="356.00" stroke="#1a1a1a" stroke-width="0.95"/>
<text x="181.09" y="364.00" font-size="6.3" text-anchor="middle" textLength="6.66" lengthAdjust="spacingAndGlyphs" stroke="#1a1a1a" stroke-width="0.28">77</text>
<line x1="191.99" y1="353.80" x2="191.99" y2="356.00" stroke="#1a1a1a" stroke-width="0.95"/>
<text x="191.99" y="364.00" font-size="6.3" text-anchor="middle" textLength="6.66" lengthAdjust="spacingAndGlyphs" stroke="#1a1a1a" stroke-width="0.28">84</text>
<line x1="202.89" y1="353.80" x2="202.89" y2="356.00" stroke="#1a1a1a" stroke-width="0.95"/>
<text x="202.89" y="364.00" font-size="6.3" text-anchor="middle" textLength="6.66" lengthAdjust="spacingAndGlyphs" stroke="#1a1a1a" stroke-width="0.28">91</text>
<line x1="213.79" y1="353.80" x2="213.79" y2="356.00" stroke="#1a1a1a" stroke-width="0.95"/>
<text x="213.79" y="364.00" font-size="6.3" text-anchor="middle" textLength="6.66" lengthAdjust="spacingAndGlyphs" stroke="#1a1a1a" stroke-width="0.28">98</text>
<line x1="50.30" y1="353.80" x2="50.30" y2="355.20" stroke="#1a1a1a" stroke-width="0.5"/>
<line x1="53.03" y1="353.80" x2="53.03" y2="355.20" stroke="#1a1a1a" stroke-width="0.5"/>
<line x1="55.75" y1="353.80" x2="55.75" y2="355.20" stroke="#1a1a1a" stroke-width="0.5"/>
<line x1="58.48" y1="353.80" x2="58.48" y2="355.20" stroke="#1a1a1a" stroke-width="0.5"/>
<line x1="61.20" y1="353.80" x2="61.20" y2="355.20" stroke="#1a1a1a" stroke-width="0.5"/>
<line x1="63.92" y1="353.80" x2="63.92" y2="355.20" stroke="#1a1a1a" stroke-width="0.5"/>
<line x1="66.65" y1="353.80" x2="66.65" y2="355.20" stroke="#1a1a1a" stroke-width="0.5"/>
<line x1="69.37" y1="353.80" x2="69.37" y2="355.20" stroke="#1a1a1a" stroke-width="0.5"/>
<line x1="72.10" y1="353.80" x2="72.10" y2="355.20" stroke="#1a1a1a" stroke-width="0.5"/>
<line x1="74.82" y1="353.80" x2="74.82" y2="355.20" stroke="#1a1a1a" stroke-width="0.5"/>
<line x1="77.55" y1="353.80" x2="77.55" y2="355.20" stroke="#1a1a1a" stroke-width="0.5"/>
<line x1="80.27" y1="353.80" x2="80.27" y2="355.20" stroke="#1a1a1a" stroke-width="0.5"/>
<line x1="83.00" y1="353.80" x2="83.00" y2="355.20" stroke="#1a1a1a" stroke-width="0.5"/>
<line x1="85.72" y1="353.80" x2="85.72" y2="355.20" stroke="#1a1a1a" stroke-width="0.5"/>
<line x1="88.45" y1="353.80" x2="88.45" y2="355.20" stroke="#1a1a1a" stroke-width="0.5"/>
<line x1="91.17" y1="353.80" x2="91.17" y2="355.20" stroke="#1a1a1a" stroke-width="0.5"/>
<line x1="93.90" y1="353.80" x2="93.90" y2="355.20" stroke="#1a1a1a" stroke-width="0.5"/>
<line x1="96.62" y1="353.80" x2="96.62" y2="355.20" stroke="#1a1a1a" stroke-width="0.5"/>
<line x1="99.35" y1="353.80" x2="99.35" y2="355.20" stroke="#1a1a1a" stroke-width="0.5"/>
<line x1="102.07" y1="353.80" x2="102.07" y2="355.20" stroke="#1a1a1a" stroke-width="0.5"/>
<line x1="104.80" y1="353.80" x2="104.80" y2="355.20" stroke="#1a1a1a" stroke-width="0.5"/>
<line x1="107.52" y1="353.80" x2="107.52" y2="355.20" stroke="#1a1a1a" stroke-width="0.5"/>
<line x1="110.25" y1="353.80" x2="110.25" y2="355.20" stroke="#1a1a1a" stroke-width="0.5"/>
<line x1="112.97" y1="353.80" x2="112.97" y2="355.20" stroke="#1a1a1a" stroke-width="0.5"/>
<line x1="115.69" y1="353.80" x2="115.69" y2="355.20" stroke="#1a1a1a" stroke-width="0.5"/>
<line x1="118.42" y1="353.80" x2="118.42" y2="355.20" stroke="#1a1a1a" stroke-width="0.5"/>
<line x1="121.14" y1="353.80" x2="121.14" y2="355.20" stroke="#1a1a1a" stroke-width="0.5"/>
<line x1="123.87" y1="353.80" x2="123.87" y2="355.20" stroke="#1a1a1a" stroke-width="0.5"/>
<line x1="126.59" y1="353.80" x2="126.59" y2="355.20" stroke="#1a1a1a" stroke-width="0.5"/>
<line x1="129.32" y1="353.80" x2="129.32" y2="355.20" stroke="#1a1a1a" stroke-width="0.5"/>
<line x1="132.04" y1="353.80" x2="132.04" y2="355.20" stroke="#1a1a1a" stroke-width="0.5"/>
<line x1="134.77" y1="353.80" x2="134.77" y2="355.20" stroke="#1a1a1a" stroke-width="0.5"/>
<line x1="137.49" y1="353.80" x2="137.49" y2="355.20" stroke="#1a1a1a" stroke-width="0.5"/>
<line x1="140.22" y1="353.80" x2="140.22" y2="355.20" stroke="#1a1a1a" stroke-width="0.5"/>
<line x1="142.94" y1="353.80" x2="142.94" y2="355.20" stroke="#1a1a1a" stroke-width="0.5"/>
<line x1="145.67" y1="353.80" x2="145.67" y2="355.20" stroke="#1a1a1a" stroke-width="0.5"/>
<line x1="148.39" y1="353.80" x2="148.39" y2="355.20" stroke="#1a1a1a" stroke-width="0.5"/>
<line x1="151.12" y1="353.80" x2="151.12" y2="355.20" stroke="#1a1a1a" stroke-width="0.5"/>
<line x1="153.84" y1="353.80" x2="153.84" y2="355.20" stroke="#1a1a1a" stroke-width="0.5"/>
<line x1="156.57" y1="353.80" x2="156.57" y2="355.20" stroke="#1a1a1a" stroke-width="0.5"/>
<line x1="159.29" y1="353.80" x2="159.29" y2="355.20" stroke="#1a1a1a" stroke-width="0.5"/>
<line x1="162.02" y1="353.80" x2="162.02" y2="355.20" stroke="#1a1a1a" stroke-width="0.5"/>
<line x1="164.74" y1="353.80" x2="164.74" y2="355.20" stroke="#1a1a1a" stroke-width="0.5"/>
<line x1="167.47" y1="353.80" x2="167.47" y2="355.20" stroke="#1a1a1a" stroke-width="0.5"/>
<line x1="170.19" y1="353.80" x2="170.19" y2="355.20" stroke="#1a1a1a" stroke-width="0.5"/>
<line x1="172.91" y1="353.80" x2="172.91" y2="355.20" stroke="#1a1a1a" stroke-width="0.5"/>
<line x1="175.64" y1="353.80" x2="175.64" y2="355.20" stroke="#1a1a1a" stroke-width="0.5"/>
<line x1="178.36" y1="353.80" x2="178.36" y2="355.20" stroke="#1a1a1a" stroke-width="0.5"/>
<line x1="181.09" y1="353.80" x2="181.09" y2="355.20" stroke="#1a1a1a" stroke-width="0.5"/>
<line x1="183.81" y1="353.80" x2="183.81" y2="355.20" stroke="#1a1a1a" stroke-width="0.5"/>
<line x1="186.54" y1="353.80" x2="186.54" y2="355.20" stroke="#1a1a1a" stroke-width="0.5"/>
<line x1="189.26" y1="353.80" x2="189.26" y2="355.20" stroke="#1a1a1a" stroke-width="0.5"/>
<line x1="191.99" y1="353.80" x2="191.99" y2="355.20" stroke="#1a1a1a" stroke-width="0.5"/>
<line x1="194.71" y1="353.80" x2="194.71" y2="355.20" stroke="#1a1a1a" stroke-width="0.5"/>
<line x1="197.44" y1="353.80" x2="197.44" y2="355.20" stroke="#1a1a1a" stroke-width="0.5"/>
<line x1="200.16" y1="353.80" x2="200.16" y2="355.20" stroke="#1a1a1a" stroke-width="0.5"/>
<line x1="202.89" y1="353.80" x2="202.89" y2="355.20" stroke="#1a1a1a" stroke-width="0.5"/>
<line x1="205.61" y1="353.80" x2="205.61" y2="355.20" stroke="#1a1a1a" stroke-width="0.5"/>
<line x1="208.34" y1="353.80" x2="208.34" y2="355.20" stroke="#1a1a1a" stroke-width="0.5"/>
<line x1="211.06" y1="353.80" x2="211.06" y2="355.20" stroke="#1a1a1a" stroke-width="0.5"/>
<line x1="213.79" y1="353.80" x2="213.79" y2="355.20" stroke="#1a1a1a" stroke-width="0.5"/>
<line x1="224.00" y1="353.80" x2="224.00" y2="356.00" stroke="#1a1a1a" stroke-width="0.95"/>
<text x="224.00" y="364.00" font-size="6.3" text-anchor="middle" textLength="9.98" lengthAdjust="spacingAndGlyphs" stroke="#1a1a1a" stroke-width="0.28">105</text>
<line x1="235.40" y1="353.80" x2="235.40" y2="356.00" stroke="#1a1a1a" stroke-width="0.95"/>
<text x="235.40" y="364.00" font-size="6.3" text-anchor="middle" textLength="9.98" lengthAdjust="spacingAndGlyphs" stroke="#1a1a1a" stroke-width="0.28">126</text>
<line x1="227.60" y1="353.80" x2="227.60" y2="355.20" stroke="#1a1a1a" stroke-width="0.5"/>
<line x1="231.20" y1="353.80" x2="231.20" y2="355.20" stroke="#1a1a1a" stroke-width="0.5"/>
<path d="M62.40,372.60V367.90M60.80,369.60L62.40,367.40L64.00,369.60" fill="none" stroke="#1a1a1a" stroke-width="0.8"/>
<text x="62.40" y="381.00" font-size="7.2" font-weight="bold" text-anchor="middle" stroke="#1a1a1a" stroke-width="0.22">V</text>
<path d="M73.30,372.60V367.90M71.70,369.60L73.30,367.40L74.90,369.60" fill="none" stroke="#1a1a1a" stroke-width="0.8"/>
<text x="73.30" y="381.70" font-size="6.2" font-weight="bold" text-anchor="middle" textLength="3.90" lengthAdjust="spacingAndGlyphs" stroke="#1a1a1a" stroke-width="0.22">D</text>
<path d="M84.20,372.60V367.90M82.60,369.60L84.20,367.40L85.80,369.60" fill="none" stroke="#1a1a1a" stroke-width="0.8"/>
<text x="84.20" y="381.70" font-size="6.2" font-weight="bold" text-anchor="middle" textLength="3.90" lengthAdjust="spacingAndGlyphs" stroke="#1a1a1a" stroke-width="0.22">D</text>
<path d="M95.10,372.60V367.90M93.50,369.60L95.10,367.40L96.70,369.60" fill="none" stroke="#1a1a1a" stroke-width="0.8"/>
<text x="95.10" y="381.70" font-size="6.2" font-weight="bold" text-anchor="middle" textLength="3.90" lengthAdjust="spacingAndGlyphs" stroke="#1a1a1a" stroke-width="0.22">D</text>
<path d="M106.00,372.60V367.90M104.40,369.60L106.00,367.40L107.60,369.60" fill="none" stroke="#1a1a1a" stroke-width="0.8"/>
<text x="106.00" y="381.70" font-size="6.2" font-weight="bold" text-anchor="middle" textLength="3.90" lengthAdjust="spacingAndGlyphs" stroke="#1a1a1a" stroke-width="0.22">D</text>
<text x="129.00" y="390.00" font-size="7.3" font-weight="bold" textLength="39.30" lengthAdjust="spacingAndGlyphs" stroke="#1a1a1a" stroke-width="0.22">Study days</text>
<text x="13.30" y="287.00" font-size="7.6" font-weight="bold" text-anchor="middle" textLength="28.00" lengthAdjust="spacingAndGlyphs" transform="rotate(-90 13.30 287.00)" stroke="#1a1a1a" stroke-width="0.22">Cells/µL</text>
<text x="23.30" y="287.00" font-size="7.6" font-weight="bold" text-anchor="middle" textLength="49.30" lengthAdjust="spacingAndGlyphs" transform="rotate(-90 23.30 287.00)" stroke="#1a1a1a" stroke-width="0.22">(mean ± SEM)</text>
<text x="121.60" y="215.00" font-size="8.4" font-weight="bold" textLength="21.00" lengthAdjust="spacingAndGlyphs" stroke="#1a1a1a" stroke-width="0.22">CD20</text>
<text x="142.80" y="211.00" font-size="5.0" font-weight="bold" stroke="#1a1a1a" stroke-width="0.22">+</text>
<text x="147.00" y="215.00" font-size="8.4" font-weight="bold" textLength="17.80" lengthAdjust="spacingAndGlyphs" stroke="#1a1a1a" stroke-width="0.22">Cells</text>
<line x1="115.60" y1="227.30" x2="123.80" y2="227.30" stroke="#111" stroke-width="1.0"/>
<circle cx="119.70" cy="227.30" r="2.09" fill="white" stroke="#111" stroke-width="0.9"/>
<text x="128.80" y="229.80" font-size="7.3" textLength="20.80" lengthAdjust="spacingAndGlyphs" stroke="#1a1a1a" stroke-width="0.28">Vehicle</text>
<line x1="115.60" y1="236.38" x2="123.80" y2="236.38" stroke="#9474b0" stroke-width="1.0"/>
<rect x="117.72" y="234.40" width="3.96" height="3.96" fill="#9a62b4"/>
<text x="128.80" y="238.88" font-size="7.3" textLength="28.20" lengthAdjust="spacingAndGlyphs" stroke="#1a1a1a" stroke-width="0.28">0.2 µg/kg</text>
<line x1="115.60" y1="245.46" x2="123.80" y2="245.46" stroke="#42468e" stroke-width="1.0"/>
<rect x="117.72" y="243.48" width="3.96" height="3.96" fill="#2f3190"/>
<text x="128.80" y="247.96" font-size="7.3" textLength="24.50" lengthAdjust="spacingAndGlyphs" stroke="#1a1a1a" stroke-width="0.28">2 µg/kg</text>
<line x1="115.60" y1="254.54" x2="123.80" y2="254.54" stroke="#3c8e74" stroke-width="1.0"/>
<circle cx="119.70" cy="254.54" r="2.4200000000000004" fill="#2ea77a" stroke="none" stroke-width="0"/>
<text x="128.80" y="257.04" font-size="7.3" textLength="24.50" lengthAdjust="spacingAndGlyphs" stroke="#1a1a1a" stroke-width="0.28">5 µg/kg</text>
<line x1="115.60" y1="263.62" x2="123.80" y2="263.62" stroke="#b44a7a" stroke-width="1.0"/>
<circle cx="119.70" cy="263.62" r="2.4200000000000004" fill="#d62c68" stroke="none" stroke-width="0"/>
<text x="128.80" y="266.12" font-size="7.3" textLength="26.00" lengthAdjust="spacingAndGlyphs" stroke="#1a1a1a" stroke-width="0.28">10 µg/kg</text>
<line x1="184.40" y1="263.40" x2="184.40" y2="226.80" stroke="#2ea77a" stroke-width="0.75"/>
<line x1="182.90" y1="226.80" x2="185.90" y2="226.80" stroke="#2ea77a" stroke-width="0.75"/>
<line x1="206.20" y1="263.40" x2="206.20" y2="235.20" stroke="#2ea77a" stroke-width="0.75"/>
<line x1="204.70" y1="235.20" x2="207.70" y2="235.20" stroke="#2ea77a" stroke-width="0.75"/>
<line x1="225.70" y1="260.20" x2="225.70" y2="233.80" stroke="#2ea77a" stroke-width="0.75"/>
<line x1="224.20" y1="233.80" x2="227.20" y2="233.80" stroke="#2ea77a" stroke-width="0.75"/>
<line x1="235.80" y1="264.40" x2="235.80" y2="236.50" stroke="#2ea77a" stroke-width="0.75"/>
<line x1="234.30" y1="236.50" x2="237.30" y2="236.50" stroke="#2ea77a" stroke-width="0.75"/>
<line x1="162.40" y1="291.80" x2="162.40" y2="258.70" stroke="#2ea77a" stroke-width="0.75"/>
<line x1="160.90" y1="258.70" x2="163.90" y2="258.70" stroke="#2ea77a" stroke-width="0.75"/>
<line x1="151.90" y1="322.80" x2="151.90" y2="339.50" stroke="#2ea77a" stroke-width="0.75"/>
<line x1="150.40" y1="339.50" x2="153.40" y2="339.50" stroke="#2ea77a" stroke-width="0.75"/>
<line x1="141.10" y1="336.70" x2="141.10" y2="328.00" stroke="#2ea77a" stroke-width="0.75"/>
<line x1="139.60" y1="328.00" x2="142.60" y2="328.00" stroke="#2ea77a" stroke-width="0.75"/>
<line x1="63.20" y1="299.00" x2="63.20" y2="305.00" stroke="#2ea77a" stroke-width="0.75"/>
<line x1="61.70" y1="305.00" x2="64.70" y2="305.00" stroke="#2ea77a" stroke-width="0.75"/>
<line x1="64.90" y1="288.50" x2="64.90" y2="296.00" stroke="#2ea77a" stroke-width="0.75"/>
<line x1="63.40" y1="296.00" x2="66.40" y2="296.00" stroke="#2ea77a" stroke-width="0.75"/>
<line x1="51.00" y1="256.00" x2="51.00" y2="231.30" stroke="#d62c68" stroke-width="0.75"/>
<line x1="49.50" y1="231.30" x2="52.50" y2="231.30" stroke="#d62c68" stroke-width="0.75"/>
<line x1="64.60" y1="260.40" x2="64.60" y2="245.60" stroke="#d62c68" stroke-width="0.75"/>
<line x1="63.10" y1="245.60" x2="66.10" y2="245.60" stroke="#d62c68" stroke-width="0.75"/>
<line x1="67.80" y1="255.70" x2="67.80" y2="235.00" stroke="#d62c68" stroke-width="0.75"/>
<line x1="66.30" y1="235.00" x2="69.30" y2="235.00" stroke="#d62c68" stroke-width="0.75"/>
<line x1="74.60" y1="269.40" x2="74.60" y2="250.40" stroke="#d62c68" stroke-width="0.75"/>
<line x1="73.10" y1="250.40" x2="76.10" y2="250.40" stroke="#d62c68" stroke-width="0.75"/>
<line x1="184.40" y1="279.20" x2="184.40" y2="248.60" stroke="#d62c68" stroke-width="0.75"/>
<line x1="182.90" y1="248.60" x2="185.90" y2="248.60" stroke="#d62c68" stroke-width="0.75"/>
<line x1="225.70" y1="269.70" x2="225.70" y2="241.20" stroke="#d62c68" stroke-width="0.75"/>
<line x1="224.20" y1="241.20" x2="227.20" y2="241.20" stroke="#d62c68" stroke-width="0.75"/>
<line x1="225.70" y1="269.70" x2="225.70" y2="289.80" stroke="#d62c68" stroke-width="0.75"/>
<line x1="224.20" y1="289.80" x2="227.20" y2="289.80" stroke="#d62c68" stroke-width="0.75"/>
<line x1="235.80" y1="277.50" x2="235.80" y2="262.00" stroke="#d62c68" stroke-width="0.75"/>
<line x1="234.30" y1="262.00" x2="237.30" y2="262.00" stroke="#d62c68" stroke-width="0.75"/>
<line x1="162.40" y1="334.40" x2="162.40" y2="341.30" stroke="#d62c68" stroke-width="0.75"/>
<line x1="160.90" y1="341.30" x2="163.90" y2="341.30" stroke="#d62c68" stroke-width="0.75"/>
<line x1="63.20" y1="273.10" x2="63.20" y2="265.00" stroke="#d62c68" stroke-width="0.75"/>
<line x1="61.70" y1="265.00" x2="64.70" y2="265.00" stroke="#d62c68" stroke-width="0.75"/>
<line x1="130.20" y1="321.20" x2="130.20" y2="346.00" stroke="#2f3190" stroke-width="0.75"/>
<line x1="128.70" y1="346.00" x2="131.70" y2="346.00" stroke="#2f3190" stroke-width="0.75"/>
<line x1="162.40" y1="301.10" x2="162.40" y2="288.70" stroke="#2f3190" stroke-width="0.75"/>
<line x1="160.90" y1="288.70" x2="163.90" y2="288.70" stroke="#2f3190" stroke-width="0.75"/>
<line x1="162.40" y1="301.10" x2="162.40" y2="322.80" stroke="#2f3190" stroke-width="0.75"/>
<line x1="160.90" y1="322.80" x2="163.90" y2="322.80" stroke="#2f3190" stroke-width="0.75"/>
<line x1="184.40" y1="292.30" x2="184.40" y2="310.00" stroke="#2f3190" stroke-width="0.75"/>
<line x1="182.90" y1="310.00" x2="185.90" y2="310.00" stroke="#2f3190" stroke-width="0.75"/>
<line x1="225.70" y1="294.00" x2="225.70" y2="305.00" stroke="#2f3190" stroke-width="0.75"/>
<line x1="224.20" y1="305.00" x2="227.20" y2="305.00" stroke="#2f3190" stroke-width="0.75"/>
<line x1="235.80" y1="304.00" x2="235.80" y2="310.00" stroke="#2f3190" stroke-width="0.75"/>
<line x1="234.30" y1="310.00" x2="237.30" y2="310.00" stroke="#2f3190" stroke-width="0.75"/>
<line x1="79.50" y1="342.50" x2="79.50" y2="337.50" stroke="#2f3190" stroke-width="0.75"/>
<line x1="78.00" y1="337.50" x2="81.00" y2="337.50" stroke="#2f3190" stroke-width="0.75"/>
<line x1="85.00" y1="340.80" x2="85.00" y2="336.50" stroke="#2f3190" stroke-width="0.75"/>
<line x1="83.50" y1="336.50" x2="86.50" y2="336.50" stroke="#2f3190" stroke-width="0.75"/>
<line x1="106.90" y1="341.30" x2="106.90" y2="338.00" stroke="#2f3190" stroke-width="0.75"/>
<line x1="105.40" y1="338.00" x2="108.40" y2="338.00" stroke="#2f3190" stroke-width="0.75"/>
<line x1="63.20" y1="296.00" x2="63.20" y2="306.00" stroke="#2f3190" stroke-width="0.75"/>
<line x1="61.70" y1="306.00" x2="64.70" y2="306.00" stroke="#2f3190" stroke-width="0.75"/>
<line x1="75.40" y1="320.00" x2="75.40" y2="328.00" stroke="#9a62b4" stroke-width="0.75"/>
<line x1="73.90" y1="328.00" x2="76.90" y2="328.00" stroke="#9a62b4" stroke-width="0.75"/>
<line x1="78.80" y1="309.50" x2="78.80" y2="303.00" stroke="#9a62b4" stroke-width="0.75"/>
<line x1="77.30" y1="303.00" x2="80.30" y2="303.00" stroke="#9a62b4" stroke-width="0.75"/>
<line x1="85.00" y1="297.50" x2="85.00" y2="292.50" stroke="#9a62b4" stroke-width="0.75"/>
<line x1="83.50" y1="292.50" x2="86.50" y2="292.50" stroke="#9a62b4" stroke-width="0.75"/>
<line x1="87.00" y1="318.80" x2="87.00" y2="326.00" stroke="#9a62b4" stroke-width="0.75"/>
<line x1="85.50" y1="326.00" x2="88.50" y2="326.00" stroke="#9a62b4" stroke-width="0.75"/>
<line x1="89.30" y1="324.50" x2="89.30" y2="330.00" stroke="#9a62b4" stroke-width="0.75"/>
<line x1="87.80" y1="330.00" x2="90.80" y2="330.00" stroke="#9a62b4" stroke-width="0.75"/>
<line x1="95.90" y1="304.20" x2="95.90" y2="298.00" stroke="#9a62b4" stroke-width="0.75"/>
<line x1="94.40" y1="298.00" x2="97.40" y2="298.00" stroke="#9a62b4" stroke-width="0.75"/>
<line x1="97.40" y1="322.00" x2="97.40" y2="329.00" stroke="#9a62b4" stroke-width="0.75"/>
<line x1="95.90" y1="329.00" x2="98.90" y2="329.00" stroke="#9a62b4" stroke-width="0.75"/>
<line x1="106.70" y1="308.50" x2="106.70" y2="302.00" stroke="#9a62b4" stroke-width="0.75"/>
<line x1="105.20" y1="302.00" x2="108.20" y2="302.00" stroke="#9a62b4" stroke-width="0.75"/>
<line x1="108.30" y1="319.30" x2="108.30" y2="327.00" stroke="#9a62b4" stroke-width="0.75"/>
<line x1="106.80" y1="327.00" x2="109.80" y2="327.00" stroke="#9a62b4" stroke-width="0.75"/>
<line x1="111.40" y1="314.20" x2="111.40" y2="308.00" stroke="#9a62b4" stroke-width="0.75"/>
<line x1="109.90" y1="308.00" x2="112.90" y2="308.00" stroke="#9a62b4" stroke-width="0.75"/>
<line x1="119.10" y1="324.00" x2="119.10" y2="320.00" stroke="#9a62b4" stroke-width="0.75"/>
<line x1="117.60" y1="320.00" x2="120.60" y2="320.00" stroke="#9a62b4" stroke-width="0.75"/>
<line x1="130.20" y1="306.00" x2="130.20" y2="311.00" stroke="#9a62b4" stroke-width="0.75"/>
<line x1="128.70" y1="311.00" x2="131.70" y2="311.00" stroke="#9a62b4" stroke-width="0.75"/>
<line x1="141.10" y1="303.10" x2="141.10" y2="311.00" stroke="#9a62b4" stroke-width="0.75"/>
<line x1="139.60" y1="311.00" x2="142.60" y2="311.00" stroke="#9a62b4" stroke-width="0.75"/>
<line x1="206.20" y1="290.90" x2="206.20" y2="297.00" stroke="#9a62b4" stroke-width="0.75"/>
<line x1="204.70" y1="297.00" x2="207.70" y2="297.00" stroke="#9a62b4" stroke-width="0.75"/>
<line x1="225.70" y1="286.60" x2="225.70" y2="281.00" stroke="#9a62b4" stroke-width="0.75"/>
<line x1="224.20" y1="281.00" x2="227.20" y2="281.00" stroke="#9a62b4" stroke-width="0.75"/>
<line x1="235.80" y1="277.50" x2="235.80" y2="270.00" stroke="#9a62b4" stroke-width="0.75"/>
<line x1="234.30" y1="270.00" x2="237.30" y2="270.00" stroke="#9a62b4" stroke-width="0.75"/>
<line x1="51.00" y1="254.10" x2="51.00" y2="240.70" stroke="#111" stroke-width="0.75"/>
<line x1="49.50" y1="240.70" x2="52.50" y2="240.70" stroke="#111" stroke-width="0.75"/>
<line x1="64.90" y1="285.30" x2="64.90" y2="277.00" stroke="#111" stroke-width="0.75"/>
<line x1="63.40" y1="277.00" x2="66.40" y2="277.00" stroke="#111" stroke-width="0.75"/>
<line x1="75.70" y1="267.90" x2="75.70" y2="255.70" stroke="#111" stroke-width="0.75"/>
<line x1="74.20" y1="255.70" x2="77.20" y2="255.70" stroke="#111" stroke-width="0.75"/>
<line x1="85.20" y1="266.80" x2="85.20" y2="258.30" stroke="#111" stroke-width="0.75"/>
<line x1="83.70" y1="258.30" x2="86.70" y2="258.30" stroke="#111" stroke-width="0.75"/>
<line x1="96.10" y1="270.10" x2="96.10" y2="261.60" stroke="#111" stroke-width="0.75"/>
<line x1="94.60" y1="261.60" x2="97.60" y2="261.60" stroke="#111" stroke-width="0.75"/>
<line x1="106.70" y1="277.10" x2="106.70" y2="270.10" stroke="#111" stroke-width="0.75"/>
<line x1="105.20" y1="270.10" x2="108.20" y2="270.10" stroke="#111" stroke-width="0.75"/>
<line x1="108.30" y1="279.10" x2="108.30" y2="274.80" stroke="#111" stroke-width="0.75"/>
<line x1="106.80" y1="274.80" x2="109.80" y2="274.80" stroke="#111" stroke-width="0.75"/>
<line x1="119.10" y1="297.20" x2="119.10" y2="287.90" stroke="#111" stroke-width="0.75"/>
<line x1="117.60" y1="287.90" x2="120.60" y2="287.90" stroke="#111" stroke-width="0.75"/>
<line x1="130.20" y1="284.80" x2="130.20" y2="279.40" stroke="#111" stroke-width="0.75"/>
<line x1="128.70" y1="279.40" x2="131.70" y2="279.40" stroke="#111" stroke-width="0.75"/>
<line x1="152.10" y1="287.00" x2="152.10" y2="280.30" stroke="#111" stroke-width="0.75"/>
<line x1="150.60" y1="280.30" x2="153.60" y2="280.30" stroke="#111" stroke-width="0.75"/>
<line x1="162.60" y1="280.30" x2="162.60" y2="272.90" stroke="#111" stroke-width="0.75"/>
<line x1="161.10" y1="272.90" x2="164.10" y2="272.90" stroke="#111" stroke-width="0.75"/>
<line x1="206.20" y1="283.50" x2="206.20" y2="276.00" stroke="#111" stroke-width="0.75"/>
<line x1="204.70" y1="276.00" x2="207.70" y2="276.00" stroke="#111" stroke-width="0.75"/>
<line x1="225.70" y1="274.00" x2="225.70" y2="267.60" stroke="#111" stroke-width="0.75"/>
<line x1="224.20" y1="267.60" x2="227.20" y2="267.60" stroke="#111" stroke-width="0.75"/>
<line x1="235.80" y1="287.30" x2="235.80" y2="296.20" stroke="#111" stroke-width="0.75"/>
<line x1="234.30" y1="296.20" x2="237.30" y2="296.20" stroke="#111" stroke-width="0.75"/>
<polyline points="51.00,282.10 63.20,299.00 64.90,288.50 67.80,289.00 73.80,290.00 75.40,349.50 79.00,349.50 85.00,349.50 96.00,349.50 108.00,349.50 119.00,349.50 130.20,346.30 141.10,336.70 151.90,322.80 162.40,291.80 184.40,263.40 206.20,263.40" fill="none" stroke="#3c8e74" stroke-width="0.95"/>
<polyline points="225.70,260.20 235.80,264.40" fill="none" stroke="#3c8e74" stroke-width="0.95"/>
<polyline points="51.00,273.10 63.20,296.00 64.90,290.00 67.80,283.00 73.80,283.50 75.40,349.00 79.50,342.50 85.00,340.80 88.80,347.00 96.10,341.60 97.40,344.70 101.20,345.00 106.90,341.30 111.30,343.20 119.30,343.40 130.20,321.20 141.10,316.30 151.90,313.90 162.40,301.10 184.40,292.30 206.20,291.90" fill="none" stroke="#42468e" stroke-width="0.95"/>
<polyline points="225.70,294.00 235.80,304.00" fill="none" stroke="#42468e" stroke-width="0.95"/>
<polyline points="51.00,265.70 63.20,293.00 64.90,287.00 67.80,281.00 73.80,273.10 75.40,320.00 78.80,309.50 85.00,297.50 87.00,318.80 89.30,324.50 95.90,304.20 97.40,322.00 100.50,312.70 106.70,308.50 108.30,319.30 111.40,314.20 119.10,324.00 130.20,306.00 141.10,303.10 151.90,300.80 162.40,295.70 184.40,283.90 206.20,290.90" fill="none" stroke="#9474b0" stroke-width="0.95"/>
<polyline points="225.70,286.60 235.80,277.50" fill="none" stroke="#9474b0" stroke-width="0.95"/>
<polyline points="51.00,256.00 63.20,273.10 64.60,260.40 67.80,255.70 74.60,269.40 75.40,349.60 76.80,349.60 78.60,349.60 83.80,349.60 85.40,349.60 87.20,349.60 94.00,349.60 95.60,349.60 97.40,349.60 104.00,349.60 105.60,349.60 107.60,349.60 111.20,349.60 119.20,349.60 130.20,349.80 141.10,349.80 151.90,347.80 162.40,334.40 184.40,279.20 206.20,283.50" fill="none" stroke="#b44a7a" stroke-width="0.95"/>
<polyline points="225.70,269.70 235.80,277.50" fill="none" stroke="#b44a7a" stroke-width="0.95"/>
<polyline points="51.00,254.10 63.20,289.00 64.90,285.30 67.80,267.30 75.70,267.90 78.90,292.50 85.20,266.80 86.80,271.30 90.00,287.40 96.10,270.10 97.50,282.40 100.50,284.40 106.70,277.10 108.30,279.10 111.40,285.60 119.10,297.20 130.20,284.80 141.10,283.00 152.10,287.00 162.60,280.30 184.40,266.10 206.20,283.50" fill="none" stroke="#111" stroke-width="1.0"/>
<polyline points="225.70,274.00 235.80,287.30" fill="none" stroke="#111" stroke-width="1.0"/>
<line x1="206.20" y1="283.50" x2="212.05" y2="280.65" stroke="#111" stroke-width="0.8"/>
<line x1="218.29" y1="277.61" x2="225.70" y2="274.00" stroke="#111" stroke-width="0.8"/>
<line x1="206.20" y1="290.90" x2="212.05" y2="289.61" stroke="#9474b0" stroke-width="0.8"/>
<line x1="218.29" y1="288.23" x2="225.70" y2="286.60" stroke="#9474b0" stroke-width="0.8"/>
<line x1="206.20" y1="291.90" x2="212.05" y2="292.53" stroke="#42468e" stroke-width="0.8"/>
<line x1="218.29" y1="293.20" x2="225.70" y2="294.00" stroke="#42468e" stroke-width="0.8"/>
<line x1="206.20" y1="263.40" x2="212.05" y2="262.44" stroke="#3c8e74" stroke-width="0.8"/>
<line x1="218.29" y1="261.42" x2="225.70" y2="260.20" stroke="#3c8e74" stroke-width="0.8"/>
<line x1="206.20" y1="283.50" x2="212.05" y2="279.36" stroke="#b44a7a" stroke-width="0.8"/>
<line x1="218.29" y1="274.94" x2="225.70" y2="269.70" stroke="#b44a7a" stroke-width="0.8"/>
<circle cx="51.00" cy="282.10" r="2.3100000000000005" fill="#2ea77a" stroke="none" stroke-width="0"/>
<circle cx="63.20" cy="299.00" r="2.3100000000000005" fill="#2ea77a" stroke="none" stroke-width="0"/>
<circle cx="64.90" cy="288.50" r="2.3100000000000005" fill="#2ea77a" stroke="none" stroke-width="0"/>
<circle cx="67.80" cy="289.00" r="2.3100000000000005" fill="#2ea77a" stroke="none" stroke-width="0"/>
<circle cx="73.80" cy="290.00" r="2.3100000000000005" fill="#2ea77a" stroke="none" stroke-width="0"/>
<circle cx="75.40" cy="349.50" r="2.3100000000000005" fill="#2ea77a" stroke="none" stroke-width="0"/>
<circle cx="79.00" cy="349.50" r="2.3100000000000005" fill="#2ea77a" stroke="none" stroke-width="0"/>
<circle cx="85.00" cy="349.50" r="2.3100000000000005" fill="#2ea77a" stroke="none" stroke-width="0"/>
<circle cx="96.00" cy="349.50" r="2.3100000000000005" fill="#2ea77a" stroke="none" stroke-width="0"/>
<circle cx="108.00" cy="349.50" r="2.3100000000000005" fill="#2ea77a" stroke="none" stroke-width="0"/>
<circle cx="119.00" cy="349.50" r="2.3100000000000005" fill="#2ea77a" stroke="none" stroke-width="0"/>
<circle cx="130.20" cy="346.30" r="2.3100000000000005" fill="#2ea77a" stroke="none" stroke-width="0"/>
<circle cx="141.10" cy="336.70" r="2.3100000000000005" fill="#2ea77a" stroke="none" stroke-width="0"/>
<circle cx="151.90" cy="322.80" r="2.3100000000000005" fill="#2ea77a" stroke="none" stroke-width="0"/>
<circle cx="162.40" cy="291.80" r="2.3100000000000005" fill="#2ea77a" stroke="none" stroke-width="0"/>
<circle cx="184.40" cy="263.40" r="2.3100000000000005" fill="#2ea77a" stroke="none" stroke-width="0"/>
<circle cx="206.20" cy="263.40" r="2.3100000000000005" fill="#2ea77a" stroke="none" stroke-width="0"/>
<circle cx="225.70" cy="260.20" r="2.3100000000000005" fill="#2ea77a" stroke="none" stroke-width="0"/>
<circle cx="235.80" cy="264.40" r="2.3100000000000005" fill="#2ea77a" stroke="none" stroke-width="0"/>
<rect x="49.24" y="271.34" width="3.53" height="3.53" fill="#2f3190"/>
<rect x="61.44" y="294.24" width="3.53" height="3.53" fill="#2f3190"/>
<rect x="63.14" y="288.24" width="3.53" height="3.53" fill="#2f3190"/>
<rect x="66.04" y="281.24" width="3.53" height="3.53" fill="#2f3190"/>
<rect x="72.04" y="281.74" width="3.53" height="3.53" fill="#2f3190"/>
<rect x="73.64" y="347.24" width="3.53" height="3.53" fill="#2f3190"/>
<rect x="77.74" y="340.74" width="3.53" height="3.53" fill="#2f3190"/>
<rect x="83.24" y="339.04" width="3.53" height="3.53" fill="#2f3190"/>
<rect x="87.04" y="345.24" width="3.53" height="3.53" fill="#2f3190"/>
<rect x="94.34" y="339.84" width="3.53" height="3.53" fill="#2f3190"/>
<rect x="95.64" y="342.94" width="3.53" height="3.53" fill="#2f3190"/>
<rect x="99.44" y="343.24" width="3.53" height="3.53" fill="#2f3190"/>
<rect x="105.14" y="339.54" width="3.53" height="3.53" fill="#2f3190"/>
<rect x="109.54" y="341.44" width="3.53" height="3.53" fill="#2f3190"/>
<rect x="117.54" y="341.64" width="3.53" height="3.53" fill="#2f3190"/>
<rect x="128.44" y="319.44" width="3.53" height="3.53" fill="#2f3190"/>
<rect x="139.34" y="314.54" width="3.53" height="3.53" fill="#2f3190"/>
<rect x="150.14" y="312.14" width="3.53" height="3.53" fill="#2f3190"/>
<rect x="160.64" y="299.34" width="3.53" height="3.53" fill="#2f3190"/>
<rect x="182.64" y="290.54" width="3.53" height="3.53" fill="#2f3190"/>
<rect x="204.44" y="290.14" width="3.53" height="3.53" fill="#2f3190"/>
<rect x="223.94" y="292.24" width="3.53" height="3.53" fill="#2f3190"/>
<rect x="234.04" y="302.24" width="3.53" height="3.53" fill="#2f3190"/>
<rect x="49.24" y="263.94" width="3.53" height="3.53" fill="#9a62b4"/>
<rect x="61.44" y="291.24" width="3.53" height="3.53" fill="#9a62b4"/>
<rect x="63.14" y="285.24" width="3.53" height="3.53" fill="#9a62b4"/>
<rect x="66.04" y="279.24" width="3.53" height="3.53" fill="#9a62b4"/>
<rect x="72.04" y="271.34" width="3.53" height="3.53" fill="#9a62b4"/>
<rect x="73.64" y="318.24" width="3.53" height="3.53" fill="#9a62b4"/>
<rect x="77.04" y="307.74" width="3.53" height="3.53" fill="#9a62b4"/>
<rect x="83.24" y="295.74" width="3.53" height="3.53" fill="#9a62b4"/>
<rect x="85.24" y="317.04" width="3.53" height="3.53" fill="#9a62b4"/>
<rect x="87.54" y="322.74" width="3.53" height="3.53" fill="#9a62b4"/>
<rect x="94.14" y="302.44" width="3.53" height="3.53" fill="#9a62b4"/>
<rect x="95.64" y="320.24" width="3.53" height="3.53" fill="#9a62b4"/>
<rect x="98.74" y="310.94" width="3.53" height="3.53" fill="#9a62b4"/>
<rect x="104.94" y="306.74" width="3.53" height="3.53" fill="#9a62b4"/>
<rect x="106.54" y="317.54" width="3.53" height="3.53" fill="#9a62b4"/>
<rect x="109.64" y="312.44" width="3.53" height="3.53" fill="#9a62b4"/>
<rect x="117.34" y="322.24" width="3.53" height="3.53" fill="#9a62b4"/>
<rect x="128.44" y="304.24" width="3.53" height="3.53" fill="#9a62b4"/>
<rect x="139.34" y="301.34" width="3.53" height="3.53" fill="#9a62b4"/>
<rect x="150.14" y="299.04" width="3.53" height="3.53" fill="#9a62b4"/>
<rect x="160.64" y="293.94" width="3.53" height="3.53" fill="#9a62b4"/>
<rect x="182.64" y="282.14" width="3.53" height="3.53" fill="#9a62b4"/>
<rect x="204.44" y="289.14" width="3.53" height="3.53" fill="#9a62b4"/>
<rect x="223.94" y="284.84" width="3.53" height="3.53" fill="#9a62b4"/>
<rect x="234.04" y="275.74" width="3.53" height="3.53" fill="#9a62b4"/>
<circle cx="51.00" cy="256.00" r="2.3100000000000005" fill="#d62c68" stroke="none" stroke-width="0"/>
<circle cx="63.20" cy="273.10" r="2.3100000000000005" fill="#d62c68" stroke="none" stroke-width="0"/>
<circle cx="64.60" cy="260.40" r="2.3100000000000005" fill="#d62c68" stroke="none" stroke-width="0"/>
<circle cx="67.80" cy="255.70" r="2.3100000000000005" fill="#d62c68" stroke="none" stroke-width="0"/>
<circle cx="74.60" cy="269.40" r="2.3100000000000005" fill="#d62c68" stroke="none" stroke-width="0"/>
<circle cx="75.40" cy="349.60" r="2.3100000000000005" fill="#d62c68" stroke="none" stroke-width="0"/>
<circle cx="76.80" cy="349.60" r="2.3100000000000005" fill="#d62c68" stroke="none" stroke-width="0"/>
<circle cx="78.60" cy="349.60" r="2.3100000000000005" fill="#d62c68" stroke="none" stroke-width="0"/>
<circle cx="83.80" cy="349.60" r="2.3100000000000005" fill="#d62c68" stroke="none" stroke-width="0"/>
<circle cx="85.40" cy="349.60" r="2.3100000000000005" fill="#d62c68" stroke="none" stroke-width="0"/>
<circle cx="87.20" cy="349.60" r="2.3100000000000005" fill="#d62c68" stroke="none" stroke-width="0"/>
<circle cx="94.00" cy="349.60" r="2.3100000000000005" fill="#d62c68" stroke="none" stroke-width="0"/>
<circle cx="95.60" cy="349.60" r="2.3100000000000005" fill="#d62c68" stroke="none" stroke-width="0"/>
<circle cx="97.40" cy="349.60" r="2.3100000000000005" fill="#d62c68" stroke="none" stroke-width="0"/>
<circle cx="104.00" cy="349.60" r="2.3100000000000005" fill="#d62c68" stroke="none" stroke-width="0"/>
<circle cx="105.60" cy="349.60" r="2.3100000000000005" fill="#d62c68" stroke="none" stroke-width="0"/>
<circle cx="107.60" cy="349.60" r="2.3100000000000005" fill="#d62c68" stroke="none" stroke-width="0"/>
<circle cx="111.20" cy="349.60" r="2.3100000000000005" fill="#d62c68" stroke="none" stroke-width="0"/>
<circle cx="119.20" cy="349.60" r="2.3100000000000005" fill="#d62c68" stroke="none" stroke-width="0"/>
<circle cx="130.20" cy="349.80" r="2.3100000000000005" fill="#d62c68" stroke="none" stroke-width="0"/>
<circle cx="141.10" cy="349.80" r="2.3100000000000005" fill="#d62c68" stroke="none" stroke-width="0"/>
<circle cx="151.90" cy="347.80" r="2.3100000000000005" fill="#d62c68" stroke="none" stroke-width="0"/>
<circle cx="162.40" cy="334.40" r="2.3100000000000005" fill="#d62c68" stroke="none" stroke-width="0"/>
<circle cx="184.40" cy="279.20" r="2.3100000000000005" fill="#d62c68" stroke="none" stroke-width="0"/>
<circle cx="206.20" cy="283.50" r="2.3100000000000005" fill="#d62c68" stroke="none" stroke-width="0"/>
<circle cx="225.70" cy="269.70" r="2.3100000000000005" fill="#d62c68" stroke="none" stroke-width="0"/>
<circle cx="235.80" cy="277.50" r="2.3100000000000005" fill="#d62c68" stroke="none" stroke-width="0"/>
<circle cx="51.00" cy="254.10" r="2.128" fill="white" stroke="#111" stroke-width="0.9"/>
<circle cx="63.20" cy="289.00" r="2.128" fill="white" stroke="#111" stroke-width="0.9"/>
<circle cx="64.90" cy="285.30" r="2.128" fill="white" stroke="#111" stroke-width="0.9"/>
<circle cx="67.80" cy="267.30" r="2.128" fill="white" stroke="#111" stroke-width="0.9"/>
<circle cx="75.70" cy="267.90" r="2.128" fill="white" stroke="#111" stroke-width="0.9"/>
<circle cx="78.90" cy="292.50" r="2.128" fill="white" stroke="#111" stroke-width="0.9"/>
<circle cx="85.20" cy="266.80" r="2.128" fill="white" stroke="#111" stroke-width="0.9"/>
<circle cx="86.80" cy="271.30" r="2.128" fill="white" stroke="#111" stroke-width="0.9"/>
<circle cx="90.00" cy="287.40" r="2.128" fill="white" stroke="#111" stroke-width="0.9"/>
<circle cx="96.10" cy="270.10" r="2.128" fill="white" stroke="#111" stroke-width="0.9"/>
<circle cx="97.50" cy="282.40" r="2.128" fill="white" stroke="#111" stroke-width="0.9"/>
<circle cx="100.50" cy="284.40" r="2.128" fill="white" stroke="#111" stroke-width="0.9"/>
<circle cx="106.70" cy="277.10" r="2.128" fill="white" stroke="#111" stroke-width="0.9"/>
<circle cx="108.30" cy="279.10" r="2.128" fill="white" stroke="#111" stroke-width="0.9"/>
<circle cx="111.40" cy="285.60" r="2.128" fill="white" stroke="#111" stroke-width="0.9"/>
<circle cx="119.10" cy="297.20" r="2.128" fill="white" stroke="#111" stroke-width="0.9"/>
<circle cx="130.20" cy="284.80" r="2.128" fill="white" stroke="#111" stroke-width="0.9"/>
<circle cx="141.10" cy="283.00" r="2.128" fill="white" stroke="#111" stroke-width="0.9"/>
<circle cx="152.10" cy="287.00" r="2.128" fill="white" stroke="#111" stroke-width="0.9"/>
<circle cx="162.60" cy="280.30" r="2.128" fill="white" stroke="#111" stroke-width="0.9"/>
<circle cx="184.40" cy="266.10" r="2.128" fill="white" stroke="#111" stroke-width="0.9"/>
<circle cx="206.20" cy="283.50" r="2.128" fill="white" stroke="#111" stroke-width="0.9"/>
<circle cx="225.70" cy="274.00" r="2.128" fill="white" stroke="#111" stroke-width="0.9"/>
<circle cx="235.80" cy="287.30" r="2.128" fill="white" stroke="#111" stroke-width="0.9"/>
<text x="257.00" y="211.00" font-size="13.6" font-weight="bold" textLength="9.20" lengthAdjust="spacingAndGlyphs" stroke="#1a1a1a" stroke-width="0.35">D</text>
<line x1="302.00" y1="224.80" x2="302.00" y2="354.60" stroke="#1a1a1a" stroke-width="1.45"/>
<line x1="301.50" y1="354.20" x2="483.42" y2="354.20" stroke="#1a1a1a" stroke-width="1.45"/>
<line x1="299.40" y1="349.80" x2="302.00" y2="349.80" stroke="#1a1a1a" stroke-width="0.95"/>
<text x="298.80" y="351.90" font-size="6.3" text-anchor="end" textLength="3.33" lengthAdjust="spacingAndGlyphs" stroke="#1a1a1a" stroke-width="0.28">0</text>
<line x1="299.40" y1="329.00" x2="302.00" y2="329.00" stroke="#1a1a1a" stroke-width="0.95"/>
<text x="298.80" y="331.10" font-size="6.3" text-anchor="end" textLength="9.98" lengthAdjust="spacingAndGlyphs" stroke="#1a1a1a" stroke-width="0.28">500</text>
<line x1="299.40" y1="308.20" x2="302.00" y2="308.20" stroke="#1a1a1a" stroke-width="0.95"/>
<text x="298.80" y="310.30" font-size="6.3" text-anchor="end" textLength="14.98" lengthAdjust="spacingAndGlyphs" stroke="#1a1a1a" stroke-width="0.28">1,000</text>
<line x1="299.40" y1="287.40" x2="302.00" y2="287.40" stroke="#1a1a1a" stroke-width="0.95"/>
<text x="298.80" y="289.50" font-size="6.3" text-anchor="end" textLength="14.98" lengthAdjust="spacingAndGlyphs" stroke="#1a1a1a" stroke-width="0.28">1,500</text>
<line x1="299.40" y1="266.60" x2="302.00" y2="266.60" stroke="#1a1a1a" stroke-width="0.95"/>
<text x="298.80" y="268.70" font-size="6.3" text-anchor="end" textLength="14.98" lengthAdjust="spacingAndGlyphs" stroke="#1a1a1a" stroke-width="0.28">2,000</text>
<line x1="299.40" y1="245.80" x2="302.00" y2="245.80" stroke="#1a1a1a" stroke-width="0.95"/>
<text x="298.80" y="247.90" font-size="6.3" text-anchor="end" textLength="14.98" lengthAdjust="spacingAndGlyphs" stroke="#1a1a1a" stroke-width="0.28">2,500</text>
<line x1="299.40" y1="225.00" x2="302.00" y2="225.00" stroke="#1a1a1a" stroke-width="0.95"/>
<text x="298.80" y="227.10" font-size="6.3" text-anchor="end" textLength="14.98" lengthAdjust="spacingAndGlyphs" stroke="#1a1a1a" stroke-width="0.28">3,000</text>
<line x1="301.90" y1="354.20" x2="301.90" y2="356.40" stroke="#1a1a1a" stroke-width="0.8"/>
<line x1="304.77" y1="354.20" x2="304.77" y2="355.60" stroke="#1a1a1a" stroke-width="0.6"/>
<line x1="307.65" y1="354.20" x2="307.65" y2="355.60" stroke="#1a1a1a" stroke-width="0.6"/>
<line x1="310.52" y1="354.20" x2="310.52" y2="355.60" stroke="#1a1a1a" stroke-width="0.6"/>
<line x1="313.40" y1="354.20" x2="313.40" y2="355.60" stroke="#1a1a1a" stroke-width="0.6"/>
<line x1="316.27" y1="354.20" x2="316.27" y2="355.60" stroke="#1a1a1a" stroke-width="0.6"/>
<line x1="319.15" y1="354.20" x2="319.15" y2="355.60" stroke="#1a1a1a" stroke-width="0.6"/>
<line x1="322.02" y1="354.20" x2="322.02" y2="356.40" stroke="#1a1a1a" stroke-width="0.8"/>
<line x1="324.90" y1="354.20" x2="324.90" y2="355.60" stroke="#1a1a1a" stroke-width="0.6"/>
<line x1="327.77" y1="354.20" x2="327.77" y2="355.60" stroke="#1a1a1a" stroke-width="0.6"/>
<line x1="330.65" y1="354.20" x2="330.65" y2="355.60" stroke="#1a1a1a" stroke-width="0.6"/>
<line x1="333.52" y1="354.20" x2="333.52" y2="355.60" stroke="#1a1a1a" stroke-width="0.6"/>
<line x1="336.40" y1="354.20" x2="336.40" y2="355.60" stroke="#1a1a1a" stroke-width="0.6"/>
<line x1="339.27" y1="354.20" x2="339.27" y2="355.60" stroke="#1a1a1a" stroke-width="0.6"/>
<line x1="342.15" y1="354.20" x2="342.15" y2="356.40" stroke="#1a1a1a" stroke-width="0.8"/>
<line x1="345.02" y1="354.20" x2="345.02" y2="355.60" stroke="#1a1a1a" stroke-width="0.6"/>
<line x1="347.90" y1="354.20" x2="347.90" y2="355.60" stroke="#1a1a1a" stroke-width="0.6"/>
<line x1="350.77" y1="354.20" x2="350.77" y2="355.60" stroke="#1a1a1a" stroke-width="0.6"/>
<line x1="353.65" y1="354.20" x2="353.65" y2="355.60" stroke="#1a1a1a" stroke-width="0.6"/>
<line x1="356.52" y1="354.20" x2="356.52" y2="355.60" stroke="#1a1a1a" stroke-width="0.6"/>
<line x1="359.40" y1="354.20" x2="359.40" y2="355.60" stroke="#1a1a1a" stroke-width="0.6"/>
<line x1="362.27" y1="354.20" x2="362.27" y2="356.40" stroke="#1a1a1a" stroke-width="0.8"/>
<line x1="365.15" y1="354.20" x2="365.15" y2="355.60" stroke="#1a1a1a" stroke-width="0.6"/>
<line x1="368.02" y1="354.20" x2="368.02" y2="355.60" stroke="#1a1a1a" stroke-width="0.6"/>
<line x1="370.90" y1="354.20" x2="370.90" y2="355.60" stroke="#1a1a1a" stroke-width="0.6"/>
<line x1="373.77" y1="354.20" x2="373.77" y2="355.60" stroke="#1a1a1a" stroke-width="0.6"/>
<line x1="376.65" y1="354.20" x2="376.65" y2="355.60" stroke="#1a1a1a" stroke-width="0.6"/>
<line x1="379.52" y1="354.20" x2="379.52" y2="355.60" stroke="#1a1a1a" stroke-width="0.6"/>
<line x1="382.40" y1="354.20" x2="382.40" y2="356.40" stroke="#1a1a1a" stroke-width="0.8"/>
<line x1="385.27" y1="354.20" x2="385.27" y2="355.60" stroke="#1a1a1a" stroke-width="0.6"/>
<line x1="388.15" y1="354.20" x2="388.15" y2="355.60" stroke="#1a1a1a" stroke-width="0.6"/>
<line x1="391.02" y1="354.20" x2="391.02" y2="355.60" stroke="#1a1a1a" stroke-width="0.6"/>
<line x1="393.90" y1="354.20" x2="393.90" y2="355.60" stroke="#1a1a1a" stroke-width="0.6"/>
<line x1="396.77" y1="354.20" x2="396.77" y2="355.60" stroke="#1a1a1a" stroke-width="0.6"/>
<line x1="399.65" y1="354.20" x2="399.65" y2="355.60" stroke="#1a1a1a" stroke-width="0.6"/>
<line x1="402.52" y1="354.20" x2="402.52" y2="356.40" stroke="#1a1a1a" stroke-width="0.8"/>
<line x1="405.40" y1="354.20" x2="405.40" y2="355.60" stroke="#1a1a1a" stroke-width="0.6"/>
<line x1="408.27" y1="354.20" x2="408.27" y2="355.60" stroke="#1a1a1a" stroke-width="0.6"/>
<line x1="411.15" y1="354.20" x2="411.15" y2="355.60" stroke="#1a1a1a" stroke-width="0.6"/>
<line x1="414.02" y1="354.20" x2="414.02" y2="355.60" stroke="#1a1a1a" stroke-width="0.6"/>
<line x1="416.90" y1="354.20" x2="416.90" y2="355.60" stroke="#1a1a1a" stroke-width="0.6"/>
<line x1="419.77" y1="354.20" x2="419.77" y2="355.60" stroke="#1a1a1a" stroke-width="0.6"/>
<line x1="422.65" y1="354.20" x2="422.65" y2="356.40" stroke="#1a1a1a" stroke-width="0.8"/>
<line x1="425.52" y1="354.20" x2="425.52" y2="355.60" stroke="#1a1a1a" stroke-width="0.6"/>
<line x1="428.40" y1="354.20" x2="428.40" y2="355.60" stroke="#1a1a1a" stroke-width="0.6"/>
<line x1="431.27" y1="354.20" x2="431.27" y2="355.60" stroke="#1a1a1a" stroke-width="0.6"/>
<line x1="434.15" y1="354.20" x2="434.15" y2="355.60" stroke="#1a1a1a" stroke-width="0.6"/>
<line x1="437.02" y1="354.20" x2="437.02" y2="355.60" stroke="#1a1a1a" stroke-width="0.6"/>
<line x1="439.90" y1="354.20" x2="439.90" y2="355.60" stroke="#1a1a1a" stroke-width="0.6"/>
<line x1="442.77" y1="354.20" x2="442.77" y2="356.40" stroke="#1a1a1a" stroke-width="0.8"/>
<line x1="445.65" y1="354.20" x2="445.65" y2="355.60" stroke="#1a1a1a" stroke-width="0.6"/>
<line x1="448.52" y1="354.20" x2="448.52" y2="355.60" stroke="#1a1a1a" stroke-width="0.6"/>
<line x1="451.40" y1="354.20" x2="451.40" y2="355.60" stroke="#1a1a1a" stroke-width="0.6"/>
<line x1="454.27" y1="354.20" x2="454.27" y2="355.60" stroke="#1a1a1a" stroke-width="0.6"/>
<line x1="457.15" y1="354.20" x2="457.15" y2="355.60" stroke="#1a1a1a" stroke-width="0.6"/>
<line x1="460.02" y1="354.20" x2="460.02" y2="355.60" stroke="#1a1a1a" stroke-width="0.6"/>
<line x1="462.90" y1="354.20" x2="462.90" y2="356.40" stroke="#1a1a1a" stroke-width="0.8"/>
<line x1="465.77" y1="354.20" x2="465.77" y2="355.60" stroke="#1a1a1a" stroke-width="0.6"/>
<line x1="468.65" y1="354.20" x2="468.65" y2="355.60" stroke="#1a1a1a" stroke-width="0.6"/>
<line x1="471.52" y1="354.20" x2="471.52" y2="355.60" stroke="#1a1a1a" stroke-width="0.6"/>
<line x1="474.40" y1="354.20" x2="474.40" y2="355.60" stroke="#1a1a1a" stroke-width="0.6"/>
<line x1="477.27" y1="354.20" x2="477.27" y2="355.60" stroke="#1a1a1a" stroke-width="0.6"/>
<line x1="480.15" y1="354.20" x2="480.15" y2="355.60" stroke="#1a1a1a" stroke-width="0.6"/>
<line x1="483.02" y1="354.20" x2="483.02" y2="356.40" stroke="#1a1a1a" stroke-width="0.8"/>
<text x="301.90" y="363.40" font-size="6.3" text-anchor="middle" textLength="3.33" lengthAdjust="spacingAndGlyphs" stroke="#1a1a1a" stroke-width="0.28">0</text>
<text x="322.02" y="363.40" font-size="6.3" text-anchor="middle" textLength="3.33" lengthAdjust="spacingAndGlyphs" stroke="#1a1a1a" stroke-width="0.28">7</text>
<text x="342.15" y="363.40" font-size="6.3" text-anchor="middle" textLength="6.66" lengthAdjust="spacingAndGlyphs" stroke="#1a1a1a" stroke-width="0.28">14</text>
<text x="362.27" y="363.40" font-size="6.3" text-anchor="middle" textLength="6.66" lengthAdjust="spacingAndGlyphs" stroke="#1a1a1a" stroke-width="0.28">21</text>
<text x="382.40" y="363.40" font-size="6.3" text-anchor="middle" textLength="6.66" lengthAdjust="spacingAndGlyphs" stroke="#1a1a1a" stroke-width="0.28">28</text>
<text x="402.52" y="363.40" font-size="6.3" text-anchor="middle" textLength="6.66" lengthAdjust="spacingAndGlyphs" stroke="#1a1a1a" stroke-width="0.28">35</text>
<text x="422.65" y="363.40" font-size="6.3" text-anchor="middle" textLength="6.66" lengthAdjust="spacingAndGlyphs" stroke="#1a1a1a" stroke-width="0.28">42</text>
<text x="442.77" y="363.40" font-size="6.3" text-anchor="middle" textLength="6.66" lengthAdjust="spacingAndGlyphs" stroke="#1a1a1a" stroke-width="0.28">49</text>
<text x="462.90" y="363.40" font-size="6.3" text-anchor="middle" textLength="6.66" lengthAdjust="spacingAndGlyphs" stroke="#1a1a1a" stroke-width="0.28">56</text>
<text x="483.02" y="363.40" font-size="6.3" text-anchor="middle" textLength="6.66" lengthAdjust="spacingAndGlyphs" stroke="#1a1a1a" stroke-width="0.28">63</text>
<path d="M304.38,372.00V366.80M302.77,368.50L304.38,366.30L305.98,368.50" fill="none" stroke="#1a1a1a" stroke-width="0.8"/>
<text x="304.38" y="379.60" font-size="6.6" font-weight="bold" text-anchor="middle" stroke="#1a1a1a" stroke-width="0.22">V</text>
<path d="M324.50,372.00V366.80M322.90,368.50L324.50,366.30L326.10,368.50" fill="none" stroke="#1a1a1a" stroke-width="0.8"/>
<text x="324.50" y="380.00" font-size="5.0" font-weight="bold" text-anchor="middle" stroke="#1a1a1a" stroke-width="0.22">D</text>
<path d="M344.62,372.00V366.80M343.02,368.50L344.62,366.30L346.23,368.50" fill="none" stroke="#1a1a1a" stroke-width="0.8"/>
<text x="344.62" y="380.00" font-size="5.0" font-weight="bold" text-anchor="middle" stroke="#1a1a1a" stroke-width="0.22">D</text>
<path d="M364.75,372.00V366.80M363.15,368.50L364.75,366.30L366.35,368.50" fill="none" stroke="#1a1a1a" stroke-width="0.8"/>
<text x="364.75" y="380.00" font-size="5.0" font-weight="bold" text-anchor="middle" stroke="#1a1a1a" stroke-width="0.22">D</text>
<path d="M384.88,372.00V366.80M383.27,368.50L384.88,366.30L386.48,368.50" fill="none" stroke="#1a1a1a" stroke-width="0.8"/>
<text x="384.88" y="380.00" font-size="5.0" font-weight="bold" text-anchor="middle" stroke="#1a1a1a" stroke-width="0.22">D</text>
<text x="372.50" y="389.60" font-size="7.3" font-weight="bold" textLength="39.50" lengthAdjust="spacingAndGlyphs" stroke="#1a1a1a" stroke-width="0.22">Study days</text>
<text x="268.40" y="290.00" font-size="7.6" font-weight="bold" text-anchor="middle" textLength="28.50" lengthAdjust="spacingAndGlyphs" transform="rotate(-90 268.40 290.00)" stroke="#1a1a1a" stroke-width="0.22">Cells/µL</text>
<text x="277.80" y="290.00" font-size="7.6" font-weight="bold" text-anchor="middle" textLength="49.30" lengthAdjust="spacingAndGlyphs" transform="rotate(-90 277.80 290.00)" stroke="#1a1a1a" stroke-width="0.22">(mean ± SEM)</text>
<text x="371.30" y="215.00" font-size="8.4" font-weight="bold" textLength="21.00" lengthAdjust="spacingAndGlyphs" stroke="#1a1a1a" stroke-width="0.22">CD20</text>
<text x="392.50" y="211.00" font-size="5.0" font-weight="bold" stroke="#1a1a1a" stroke-width="0.22">+</text>
<text x="396.60" y="215.00" font-size="8.4" font-weight="bold" textLength="16.20" lengthAdjust="spacingAndGlyphs" stroke="#1a1a1a" stroke-width="0.22">Cells</text>
<line x1="388.70" y1="237.50" x2="398.20" y2="237.50" stroke="#111" stroke-width="0.9"/>
<circle cx="393.60" cy="237.50" r="1.615" fill="white" stroke="#111" stroke-width="0.9"/>
<text x="403.10" y="239.80" font-size="6.9" textLength="59.70" lengthAdjust="spacingAndGlyphs" stroke="#1a1a1a" stroke-width="0.28">50 <tspan font-family="'DejaVu Sans', sans-serif" font-weight="normal">→</tspan> 50 <tspan font-family="'DejaVu Sans', sans-serif" font-weight="normal">→</tspan> 50 ng/kg</text>
<line x1="388.70" y1="247.15" x2="398.20" y2="247.15" stroke="#42468e" stroke-width="0.9"/>
<rect x="392.07" y="245.62" width="3.06" height="3.06" fill="#2f3190"/>
<text x="403.10" y="249.45" font-size="6.9" textLength="74.10" lengthAdjust="spacingAndGlyphs" stroke="#1a1a1a" stroke-width="0.28">0.5 <tspan font-family="'DejaVu Sans', sans-serif" font-weight="normal">→</tspan> 5 <tspan font-family="'DejaVu Sans', sans-serif" font-weight="normal">→</tspan> 50 <tspan font-family="'DejaVu Sans', sans-serif" font-weight="normal">→</tspan> 50 µg/kg</text>
<line x1="388.70" y1="256.80" x2="398.20" y2="256.80" stroke="#b44a7a" stroke-width="0.9"/>
<circle cx="393.60" cy="256.80" r="1.87" fill="#d62c68" stroke="none" stroke-width="0"/>
<text x="403.10" y="259.10" font-size="6.9" textLength="79.30" lengthAdjust="spacingAndGlyphs" stroke="#1a1a1a" stroke-width="0.28">2 <tspan font-family="'DejaVu Sans', sans-serif" font-weight="normal">→</tspan> 10 <tspan font-family="'DejaVu Sans', sans-serif" font-weight="normal">→</tspan> 100 <tspan font-family="'DejaVu Sans', sans-serif" font-weight="normal">→</tspan> 100 µg/kg</text>
<line x1="305.00" y1="283.50" x2="305.00" y2="279.60" stroke="#2f3190" stroke-width="0.75"/>
<line x1="303.50" y1="279.60" x2="306.50" y2="279.60" stroke="#2f3190" stroke-width="0.75"/>
<line x1="305.00" y1="283.50" x2="305.00" y2="293.20" stroke="#2f3190" stroke-width="0.75"/>
<line x1="303.50" y1="293.20" x2="306.50" y2="293.20" stroke="#2f3190" stroke-width="0.75"/>
<line x1="307.70" y1="300.40" x2="307.70" y2="290.00" stroke="#2f3190" stroke-width="0.75"/>
<line x1="306.20" y1="290.00" x2="309.20" y2="290.00" stroke="#2f3190" stroke-width="0.75"/>
<line x1="307.70" y1="300.40" x2="307.70" y2="312.30" stroke="#2f3190" stroke-width="0.75"/>
<line x1="306.20" y1="312.30" x2="309.20" y2="312.30" stroke="#2f3190" stroke-width="0.75"/>
<line x1="313.50" y1="293.00" x2="313.50" y2="287.00" stroke="#2f3190" stroke-width="0.75"/>
<line x1="312.00" y1="287.00" x2="315.00" y2="287.00" stroke="#2f3190" stroke-width="0.75"/>
<line x1="313.50" y1="293.00" x2="313.50" y2="307.50" stroke="#2f3190" stroke-width="0.75"/>
<line x1="312.00" y1="307.50" x2="315.00" y2="307.50" stroke="#2f3190" stroke-width="0.75"/>
<line x1="325.00" y1="301.70" x2="325.00" y2="296.00" stroke="#2f3190" stroke-width="0.75"/>
<line x1="323.50" y1="296.00" x2="326.50" y2="296.00" stroke="#2f3190" stroke-width="0.75"/>
<line x1="325.00" y1="301.70" x2="325.00" y2="318.00" stroke="#2f3190" stroke-width="0.75"/>
<line x1="323.50" y1="318.00" x2="326.50" y2="318.00" stroke="#2f3190" stroke-width="0.75"/>
<line x1="333.80" y1="334.00" x2="333.80" y2="331.00" stroke="#2f3190" stroke-width="0.75"/>
<line x1="332.30" y1="331.00" x2="335.30" y2="331.00" stroke="#2f3190" stroke-width="0.75"/>
<line x1="345.40" y1="331.20" x2="345.40" y2="328.00" stroke="#2f3190" stroke-width="0.75"/>
<line x1="343.90" y1="328.00" x2="346.90" y2="328.00" stroke="#2f3190" stroke-width="0.75"/>
<line x1="305.00" y1="274.80" x2="305.00" y2="253.80" stroke="#d62c68" stroke-width="0.75"/>
<line x1="303.50" y1="253.80" x2="306.50" y2="253.80" stroke="#d62c68" stroke-width="0.75"/>
<line x1="308.30" y1="281.50" x2="308.30" y2="263.80" stroke="#d62c68" stroke-width="0.75"/>
<line x1="306.80" y1="263.80" x2="309.80" y2="263.80" stroke="#d62c68" stroke-width="0.75"/>
<line x1="313.50" y1="282.50" x2="313.50" y2="263.80" stroke="#d62c68" stroke-width="0.75"/>
<line x1="312.00" y1="263.80" x2="315.00" y2="263.80" stroke="#d62c68" stroke-width="0.75"/>
<line x1="325.00" y1="265.75" x2="325.00" y2="244.00" stroke="#d62c68" stroke-width="0.75"/>
<line x1="323.50" y1="244.00" x2="326.50" y2="244.00" stroke="#d62c68" stroke-width="0.75"/>
<polyline points="305.00,283.50 307.70,300.40 313.50,293.00 325.00,301.70 327.90,345.00 333.80,334.00 345.40,331.20 347.70,348.50 353.80,349.00 365.40,349.30 368.50,349.30 374.20,349.50 385.20,349.50 388.50,349.50" fill="none" stroke="#42468e" stroke-width="0.95"/>
<polyline points="305.00,274.80 308.30,281.50 313.50,282.50 325.00,265.75 328.00,348.80 333.80,347.30 345.40,344.00 347.70,348.80 353.80,349.00 365.40,349.10 368.50,349.20 374.20,349.40 385.20,349.40 388.00,349.40 394.50,349.40 402.60,349.40 425.60,349.40 445.80,349.40 466.00,349.40 483.30,349.40" fill="none" stroke="#b44a7a" stroke-width="0.95"/>
<polyline points="325.50,240.50 327.90,310.80 333.75,266.75 345.00,257.00 348.00,285.00 354.25,257.50 365.50,225.75 368.00,288.25" fill="none" stroke="#111" stroke-width="1.0"/>
<rect x="303.24" y="281.74" width="3.53" height="3.53" fill="#2f3190"/>
<rect x="305.94" y="298.64" width="3.53" height="3.53" fill="#2f3190"/>
<rect x="311.74" y="291.24" width="3.53" height="3.53" fill="#2f3190"/>
<rect x="323.24" y="299.94" width="3.53" height="3.53" fill="#2f3190"/>
<rect x="326.14" y="343.24" width="3.53" height="3.53" fill="#2f3190"/>
<rect x="332.04" y="332.24" width="3.53" height="3.53" fill="#2f3190"/>
<rect x="343.64" y="329.44" width="3.53" height="3.53" fill="#2f3190"/>
<rect x="345.94" y="346.74" width="3.53" height="3.53" fill="#2f3190"/>
<rect x="352.04" y="347.24" width="3.53" height="3.53" fill="#2f3190"/>
<rect x="363.64" y="347.54" width="3.53" height="3.53" fill="#2f3190"/>
<rect x="366.74" y="347.54" width="3.53" height="3.53" fill="#2f3190"/>
<rect x="372.44" y="347.74" width="3.53" height="3.53" fill="#2f3190"/>
<rect x="383.44" y="347.74" width="3.53" height="3.53" fill="#2f3190"/>
<rect x="386.74" y="347.74" width="3.53" height="3.53" fill="#2f3190"/>
<circle cx="305.00" cy="274.80" r="2.3100000000000005" fill="#d62c68" stroke="none" stroke-width="0"/>
<circle cx="308.30" cy="281.50" r="2.3100000000000005" fill="#d62c68" stroke="none" stroke-width="0"/>
<circle cx="313.50" cy="282.50" r="2.3100000000000005" fill="#d62c68" stroke="none" stroke-width="0"/>
<circle cx="325.00" cy="265.75" r="2.3100000000000005" fill="#d62c68" stroke="none" stroke-width="0"/>
<circle cx="328.00" cy="348.80" r="2.3100000000000005" fill="#d62c68" stroke="none" stroke-width="0"/>
<circle cx="333.80" cy="347.30" r="2.3100000000000005" fill="#d62c68" stroke="none" stroke-width="0"/>
<circle cx="345.40" cy="344.00" r="2.3100000000000005" fill="#d62c68" stroke="none" stroke-width="0"/>
<circle cx="347.70" cy="348.80" r="2.3100000000000005" fill="#d62c68" stroke="none" stroke-width="0"/>
<circle cx="353.80" cy="349.00" r="2.3100000000000005" fill="#d62c68" stroke="none" stroke-width="0"/>
<circle cx="365.40" cy="349.10" r="2.3100000000000005" fill="#d62c68" stroke="none" stroke-width="0"/>
<circle cx="368.50" cy="349.20" r="2.3100000000000005" fill="#d62c68" stroke="none" stroke-width="0"/>
<circle cx="374.20" cy="349.40" r="2.3100000000000005" fill="#d62c68" stroke="none" stroke-width="0"/>
<circle cx="385.20" cy="349.40" r="2.3100000000000005" fill="#d62c68" stroke="none" stroke-width="0"/>
<circle cx="388.00" cy="349.40" r="2.3100000000000005" fill="#d62c68" stroke="none" stroke-width="0"/>
<circle cx="394.50" cy="349.40" r="2.3100000000000005" fill="#d62c68" stroke="none" stroke-width="0"/>
<circle cx="402.60" cy="349.40" r="2.3100000000000005" fill="#d62c68" stroke="none" stroke-width="0"/>
<circle cx="425.60" cy="349.40" r="2.3100000000000005" fill="#d62c68" stroke="none" stroke-width="0"/>
<circle cx="445.80" cy="349.40" r="2.3100000000000005" fill="#d62c68" stroke="none" stroke-width="0"/>
<circle cx="466.00" cy="349.40" r="2.3100000000000005" fill="#d62c68" stroke="none" stroke-width="0"/>
<circle cx="483.30" cy="349.40" r="2.3100000000000005" fill="#d62c68" stroke="none" stroke-width="0"/>
<circle cx="325.50" cy="240.50" r="1.805" fill="white" stroke="#111" stroke-width="0.9"/>
<circle cx="327.90" cy="310.80" r="1.805" fill="white" stroke="#111" stroke-width="0.9"/>
<circle cx="333.75" cy="266.75" r="1.805" fill="white" stroke="#111" stroke-width="0.9"/>
<circle cx="345.00" cy="257.00" r="1.805" fill="white" stroke="#111" stroke-width="0.9"/>
<circle cx="348.00" cy="285.00" r="1.805" fill="white" stroke="#111" stroke-width="0.9"/>
<circle cx="354.25" cy="257.50" r="1.805" fill="white" stroke="#111" stroke-width="0.9"/>
<circle cx="365.50" cy="225.75" r="1.805" fill="white" stroke="#111" stroke-width="0.9"/>
<circle cx="368.00" cy="288.25" r="1.805" fill="white" stroke="#111" stroke-width="0.9"/>
<text x="4.40" y="415.00" font-size="14.0" font-weight="bold" textLength="8.00" lengthAdjust="spacingAndGlyphs" stroke="#1a1a1a" stroke-width="0.35">E</text>
<text x="137.30" y="408.60" font-size="8.0" font-weight="bold" textLength="35.30" lengthAdjust="spacingAndGlyphs" stroke="#1a1a1a" stroke-width="0.22">MGD011</text>
<line x1="79.80" y1="415.60" x2="230.20" y2="415.60" stroke="#1a1a1a" stroke-width="1.3"/>
<text x="27.50" y="425.40" font-size="8.0" font-weight="bold" textLength="25.70" lengthAdjust="spacingAndGlyphs" stroke="#1a1a1a" stroke-width="0.22">Vehicle</text>
<text x="75.00" y="425.40" font-size="8.0" font-weight="bold" textLength="44.60" lengthAdjust="spacingAndGlyphs" stroke="#1a1a1a" stroke-width="0.22">4 × 0.2 µg/kg</text>
<text x="133.80" y="425.40" font-size="8.0" font-weight="bold" textLength="39.40" lengthAdjust="spacingAndGlyphs" stroke="#1a1a1a" stroke-width="0.22">4 × 5 µg/kg</text>
<text x="187.50" y="425.40" font-size="8.0" font-weight="bold" textLength="42.70" lengthAdjust="spacingAndGlyphs" stroke="#1a1a1a" stroke-width="0.22">4 × 10 µg/kg</text>
<line x1="0.00" y1="569.30" x2="248.00" y2="569.30" stroke="#8a8a8a" stroke-width="1.0"/>
<text x="10.20" y="452.50" font-size="7.6" font-weight="bold" text-anchor="middle" textLength="47.00" lengthAdjust="spacingAndGlyphs" transform="rotate(-90 10.20 452.50)" stroke="#1a1a1a" stroke-width="0.22">Bone marrow</text>
<text x="10.20" y="499.50" font-size="7.6" font-weight="bold" text-anchor="middle" textLength="22.40" lengthAdjust="spacingAndGlyphs" transform="rotate(-90 10.20 499.50)" stroke="#1a1a1a" stroke-width="0.22">Spleen</text>
<text x="10.20" y="544.90" font-size="7.6" font-weight="bold" text-anchor="middle" textLength="41.80" lengthAdjust="spacingAndGlyphs" transform="rotate(-90 10.20 544.90)" stroke="#1a1a1a" stroke-width="0.22">Lymph node</text>
<text x="10.20" y="596.30" font-size="7.6" font-weight="bold" text-anchor="middle" textLength="48.20" lengthAdjust="spacingAndGlyphs" transform="rotate(-90 10.20 596.30)" stroke="#1a1a1a" stroke-width="0.22">Bone marrow</text>
<text x="10.20" y="641.80" font-size="7.6" font-weight="bold" text-anchor="middle" textLength="23.00" lengthAdjust="spacingAndGlyphs" transform="rotate(-90 10.20 641.80)" stroke="#1a1a1a" stroke-width="0.22">Spleen</text>
<text x="10.20" y="687.15" font-size="7.6" font-weight="bold" text-anchor="middle" textLength="43.10" lengthAdjust="spacingAndGlyphs" transform="rotate(-90 10.20 687.15)" stroke="#1a1a1a" stroke-width="0.22">Lymph node</text>
<text x="241.20" y="497.50" font-size="7.8" font-weight="bold" text-anchor="middle" textLength="73.40" lengthAdjust="spacingAndGlyphs" transform="rotate(90 241.20 497.50)" stroke="#1a1a1a" stroke-width="0.22">Terminal necropsy</text>
<text x="240.80" y="642.40" font-size="7.8" font-weight="bold" text-anchor="middle" textLength="75.50" lengthAdjust="spacingAndGlyphs" transform="rotate(90 240.80 642.40)" stroke="#1a1a1a" stroke-width="0.22">Recovery necropsy</text>
<g clip-path="url(#cp1)"><rect x="14.20" y="430.50" width="53.20" height="43.40" fill="#c8c3d6"/><g filter="url(#tbs)">
<rect x="13.20" y="429.50" width="55.20" height="45.40" filter="url(#nf1)"/>
<rect x="13.20" y="429.50" width="55.20" height="45.40" filter="url(#nf2)"/>
<g fill="#fbfbfd" opacity="0.75"><circle cx="31.1" cy="436.3" r="1.21"/><circle cx="17.2" cy="453.8" r="1.01"/><circle cx="16.4" cy="452.5" r="0.78"/><circle cx="37.1" cy="432.7" r="0.81"/><circle cx="36.6" cy="467.0" r="0.84"/><circle cx="25.5" cy="458.0" r="1.41"/><circle cx="45.1" cy="447.5" r="1.43"/><circle cx="15.8" cy="468.5" r="0.95"/><circle cx="21.2" cy="434.8" r="0.97"/><circle cx="58.3" cy="437.7" r="1.16"/><circle cx="48.5" cy="446.4" r="1.13"/><circle cx="16.7" cy="432.2" r="0.89"/><circle cx="50.8" cy="448.9" r="0.97"/><circle cx="45.5" cy="450.1" r="0.96"/><circle cx="57.0" cy="461.2" r="0.92"/><circle cx="44.9" cy="453.3" r="1.36"/><circle cx="53.5" cy="442.6" r="1.44"/><circle cx="19.7" cy="448.5" r="1.28"/><circle cx="21.6" cy="451.7" r="0.78"/><circle cx="50.1" cy="464.2" r="1.15"/><circle cx="61.5" cy="443.7" r="1.24"/><circle cx="46.0" cy="455.8" r="1.07"/><circle cx="59.6" cy="472.4" r="1.08"/><circle cx="49.9" cy="432.3" r="1.24"/><circle cx="48.9" cy="474.6" r="1.33"/><circle cx="28.9" cy="447.0" r="1.22"/><circle cx="14.4" cy="450.5" r="0.87"/><circle cx="19.7" cy="432.2" r="1.29"/><circle cx="20.3" cy="440.7" r="1.02"/><circle cx="61.3" cy="433.2" r="1.06"/><circle cx="43.5" cy="469.6" r="1.32"/><circle cx="60.9" cy="442.1" r="1.04"/><circle cx="33.0" cy="469.6" r="1.42"/><circle cx="21.5" cy="437.5" r="0.91"/><circle cx="26.1" cy="451.5" r="1.16"/><circle cx="27.7" cy="429.7" r="1.04"/><circle cx="33.6" cy="455.2" r="1.42"/><circle cx="51.3" cy="452.9" r="1.18"/><circle cx="50.5" cy="432.0" r="1.38"/><circle cx="56.3" cy="469.2" r="1.31"/><circle cx="34.9" cy="447.6" r="0.82"/><circle cx="48.2" cy="432.3" r="0.80"/><circle cx="24.7" cy="436.9" r="0.99"/><circle cx="16.1" cy="429.5" r="0.86"/><circle cx="18.8" cy="446.0" r="0.77"/><circle cx="61.5" cy="457.4" r="0.85"/><circle cx="27.1" cy="445.3" r="1.00"/><circle cx="20.0" cy="468.0" r="1.45"/><circle cx="38.9" cy="451.5" r="0.81"/><circle cx="18.8" cy="445.1" r="0.94"/><circle cx="59.0" cy="436.8" r="0.77"/><circle cx="65.7" cy="453.5" r="0.85"/><circle cx="43.2" cy="430.7" r="1.12"/><circle cx="67.2" cy="468.7" r="1.24"/><circle cx="27.6" cy="446.1" r="0.87"/><circle cx="55.8" cy="453.7" r="1.30"/><circle cx="31.4" cy="439.6" r="1.32"/><circle cx="67.6" cy="468.2" r="1.31"/><circle cx="58.4" cy="463.1" r="0.91"/><circle cx="41.8" cy="445.6" r="0.77"/><circle cx="14.7" cy="442.2" r="0.93"/><circle cx="51.4" cy="472.9" r="1.06"/><circle cx="64.9" cy="474.4" r="1.42"/><circle cx="33.3" cy="439.5" r="0.91"/><circle cx="24.1" cy="438.8" r="1.19"/><circle cx="62.9" cy="467.7" r="1.09"/><circle cx="49.2" cy="465.8" r="0.81"/><circle cx="49.7" cy="470.8" r="1.30"/><circle cx="54.6" cy="451.2" r="0.87"/><circle cx="56.8" cy="444.6" r="1.31"/><circle cx="66.8" cy="447.5" r="1.03"/><circle cx="65.5" cy="462.4" r="0.87"/><circle cx="20.2" cy="436.4" r="1.38"/><circle cx="57.7" cy="436.1" r="1.33"/><circle cx="67.3" cy="459.3" r="1.00"/><circle cx="43.5" cy="435.4" r="0.76"/><circle cx="66.8" cy="459.0" r="1.12"/><circle cx="64.7" cy="449.2" r="1.36"/><circle cx="58.8" cy="439.1" r="0.93"/><circle cx="29.4" cy="440.4" r="1.16"/><circle cx="27.5" cy="448.5" r="0.84"/><circle cx="63.4" cy="445.6" r="1.07"/><circle cx="45.4" cy="470.6" r="1.04"/><circle cx="63.9" cy="452.3" r="1.12"/><circle cx="42.1" cy="430.3" r="1.06"/><circle cx="23.3" cy="429.7" r="1.31"/><circle cx="22.7" cy="451.0" r="1.26"/><circle cx="43.9" cy="444.3" r="1.11"/><circle cx="43.9" cy="465.1" r="0.82"/><circle cx="44.1" cy="440.8" r="0.94"/><circle cx="55.8" cy="452.6" r="1.14"/><circle cx="55.2" cy="470.9" r="1.06"/><circle cx="47.0" cy="452.5" r="1.11"/><circle cx="51.4" cy="450.0" r="1.12"/><circle cx="39.6" cy="472.2" r="1.24"/><circle cx="61.6" cy="472.3" r="0.93"/><circle cx="44.1" cy="472.3" r="1.34"/><circle cx="20.8" cy="435.0" r="1.06"/><circle cx="17.2" cy="440.4" r="0.80"/><circle cx="50.2" cy="465.1" r="1.38"/><circle cx="21.7" cy="462.0" r="1.21"/><circle cx="21.1" cy="469.6" r="1.43"/><circle cx="25.3" cy="472.7" r="1.03"/><circle cx="40.1" cy="474.4" r="1.33"/><circle cx="22.1" cy="449.1" r="1.11"/><circle cx="31.9" cy="438.4" r="0.97"/><circle cx="53.1" cy="430.4" r="1.14"/><circle cx="37.5" cy="430.3" r="0.98"/><circle cx="47.6" cy="452.8" r="0.80"/><circle cx="67.6" cy="465.3" r="1.43"/><circle cx="19.0" cy="441.6" r="0.78"/><circle cx="56.2" cy="441.8" r="0.84"/><circle cx="36.5" cy="470.9" r="1.32"/><circle cx="27.5" cy="436.3" r="1.39"/><circle cx="44.7" cy="461.3" r="0.81"/><circle cx="16.4" cy="460.7" r="1.05"/><circle cx="17.2" cy="472.1" r="1.19"/><circle cx="57.4" cy="433.3" r="1.35"/><circle cx="16.9" cy="468.7" r="1.07"/><circle cx="31.9" cy="454.6" r="1.40"/><circle cx="28.0" cy="435.4" r="1.12"/><circle cx="26.4" cy="434.5" r="0.86"/><circle cx="16.0" cy="438.7" r="0.97"/><circle cx="30.0" cy="464.0" r="0.95"/><circle cx="40.8" cy="437.6" r="0.99"/><circle cx="14.2" cy="440.9" r="0.76"/><circle cx="53.7" cy="454.5" r="0.88"/><circle cx="39.4" cy="471.9" r="0.82"/><circle cx="58.4" cy="449.1" r="1.10"/><circle cx="59.3" cy="447.3" r="1.10"/><circle cx="51.2" cy="474.1" r="0.99"/><circle cx="59.1" cy="461.6" r="1.20"/><circle cx="35.5" cy="445.3" r="0.79"/><circle cx="20.4" cy="432.7" r="1.27"/><circle cx="27.3" cy="436.9" r="0.81"/><circle cx="59.6" cy="469.0" r="1.22"/><circle cx="28.8" cy="440.5" r="0.96"/><circle cx="38.6" cy="436.7" r="1.06"/><circle cx="27.7" cy="473.2" r="1.43"/><circle cx="43.4" cy="440.6" r="1.43"/><circle cx="30.3" cy="445.7" r="0.75"/><circle cx="34.3" cy="451.0" r="1.10"/><circle cx="24.3" cy="452.4" r="0.75"/><circle cx="27.8" cy="433.6" r="1.03"/><circle cx="15.5" cy="430.5" r="0.96"/><circle cx="26.1" cy="456.1" r="1.12"/><circle cx="54.6" cy="459.4" r="1.25"/><circle cx="61.7" cy="447.2" r="0.98"/><circle cx="67.6" cy="436.3" r="1.26"/><circle cx="48.7" cy="431.5" r="1.33"/><circle cx="62.4" cy="458.0" r="1.26"/><circle cx="58.0" cy="435.8" r="1.12"/><circle cx="41.0" cy="467.4" r="1.31"/><circle cx="58.8" cy="456.0" r="1.37"/><circle cx="50.9" cy="461.0" r="0.91"/><circle cx="14.9" cy="435.5" r="1.00"/><circle cx="19.0" cy="467.4" r="1.14"/><circle cx="47.9" cy="457.9" r="1.23"/><circle cx="40.2" cy="429.7" r="1.31"/><circle cx="54.5" cy="452.3" r="1.12"/><circle cx="49.6" cy="432.5" r="1.27"/><circle cx="27.1" cy="432.9" r="0.94"/><circle cx="53.5" cy="438.8" r="1.27"/><circle cx="67.1" cy="451.9" r="1.02"/><circle cx="39.6" cy="460.5" r="1.29"/><circle cx="47.3" cy="458.7" r="0.80"/><circle cx="21.3" cy="441.0" r="1.27"/><circle cx="30.0" cy="455.3" r="0.76"/><circle cx="16.5" cy="441.7" r="1.22"/><circle cx="51.4" cy="460.2" r="0.95"/><circle cx="41.7" cy="450.6" r="1.08"/><circle cx="19.7" cy="470.1" r="0.89"/><circle cx="67.2" cy="472.0" r="0.76"/><circle cx="38.5" cy="466.7" r="1.43"/><circle cx="38.0" cy="441.7" r="0.90"/><circle cx="65.4" cy="439.1" r="1.16"/><circle cx="21.0" cy="453.3" r="1.42"/><circle cx="20.5" cy="466.7" r="1.11"/><circle cx="62.2" cy="461.4" r="0.91"/><circle cx="62.8" cy="451.6" r="0.77"/><circle cx="13.4" cy="451.8" r="1.07"/><circle cx="29.9" cy="435.9" r="0.99"/><circle cx="30.6" cy="467.6" r="0.75"/><circle cx="54.6" cy="467.6" r="0.83"/><circle cx="64.3" cy="461.9" r="1.38"/><circle cx="29.2" cy="446.4" r="1.03"/><circle cx="68.3" cy="456.2" r="1.00"/><circle cx="36.8" cy="442.0" r="0.78"/><circle cx="18.8" cy="467.4" r="0.95"/><circle cx="64.8" cy="440.8" r="0.94"/><circle cx="41.4" cy="438.1" r="1.01"/><circle cx="66.0" cy="469.6" r="1.32"/><circle cx="48.0" cy="471.0" r="1.41"/><circle cx="43.5" cy="462.2" r="0.78"/><circle cx="53.6" cy="450.0" r="1.28"/><circle cx="48.8" cy="442.5" r="0.78"/><circle cx="64.4" cy="435.3" r="1.08"/><circle cx="32.2" cy="443.0" r="1.27"/><circle cx="67.1" cy="441.3" r="1.21"/><circle cx="29.8" cy="454.8" r="1.03"/><circle cx="22.4" cy="436.8" r="0.90"/><circle cx="63.2" cy="452.1" r="0.90"/><circle cx="63.2" cy="474.7" r="1.06"/><circle cx="20.9" cy="438.2" r="0.81"/><circle cx="32.1" cy="433.6" r="0.92"/><circle cx="27.5" cy="455.4" r="1.37"/><circle cx="54.6" cy="448.2" r="1.04"/><circle cx="42.1" cy="446.6" r="0.99"/><circle cx="16.6" cy="442.1" r="1.43"/><circle cx="20.1" cy="452.4" r="1.19"/><circle cx="60.8" cy="439.3" r="0.94"/><circle cx="26.9" cy="447.6" r="1.06"/><circle cx="65.9" cy="468.0" r="1.36"/><circle cx="14.4" cy="431.0" r="1.25"/><circle cx="62.6" cy="451.0" r="1.16"/><circle cx="13.2" cy="447.3" r="1.40"/><circle cx="58.8" cy="468.3" r="1.43"/><circle cx="26.9" cy="434.5" r="0.86"/><circle cx="42.0" cy="460.5" r="1.41"/><circle cx="53.0" cy="458.9" r="1.29"/><circle cx="38.4" cy="454.5" r="0.78"/><circle cx="56.4" cy="440.1" r="1.39"/><circle cx="48.8" cy="443.3" r="0.84"/><circle cx="27.1" cy="458.4" r="1.24"/><circle cx="19.4" cy="432.7" r="1.12"/><circle cx="45.4" cy="447.1" r="0.91"/><circle cx="46.4" cy="430.0" r="0.96"/><circle cx="38.6" cy="473.0" r="1.20"/><circle cx="62.0" cy="451.1" r="0.91"/><circle cx="26.8" cy="473.1" r="1.24"/><circle cx="30.2" cy="430.5" r="1.10"/><circle cx="50.4" cy="448.6" r="0.93"/><circle cx="50.0" cy="471.5" r="0.91"/><circle cx="15.1" cy="444.8" r="1.04"/><circle cx="50.9" cy="438.5" r="1.31"/><circle cx="54.0" cy="452.4" r="0.89"/><circle cx="66.7" cy="443.7" r="1.32"/><circle cx="25.9" cy="439.6" r="1.28"/><circle cx="29.5" cy="472.7" r="1.10"/><circle cx="23.5" cy="439.6" r="1.04"/><circle cx="49.9" cy="472.6" r="0.85"/><circle cx="34.9" cy="439.2" r="1.43"/><circle cx="21.0" cy="431.9" r="0.79"/><circle cx="34.9" cy="470.3" r="1.37"/><circle cx="53.6" cy="474.8" r="1.40"/><circle cx="31.4" cy="437.9" r="1.41"/><circle cx="54.4" cy="430.9" r="1.22"/><circle cx="34.1" cy="446.5" r="0.98"/><circle cx="22.5" cy="429.6" r="0.95"/><circle cx="32.6" cy="472.9" r="0.84"/><circle cx="66.4" cy="438.9" r="1.00"/><circle cx="58.6" cy="466.8" r="1.05"/><circle cx="15.9" cy="451.0" r="1.01"/><circle cx="64.0" cy="438.3" r="1.00"/><circle cx="62.7" cy="430.9" r="1.04"/><circle cx="58.0" cy="464.3" r="0.78"/><circle cx="15.1" cy="432.3" r="1.39"/><circle cx="27.4" cy="463.4" r="1.38"/><circle cx="31.9" cy="441.9" r="1.42"/><circle cx="47.3" cy="441.4" r="1.25"/><circle cx="30.7" cy="442.0" r="0.75"/><circle cx="54.9" cy="471.1" r="1.19"/><circle cx="65.3" cy="430.6" r="0.91"/><circle cx="39.4" cy="472.9" r="1.42"/><circle cx="34.5" cy="440.9" r="1.05"/><circle cx="40.4" cy="471.6" r="0.88"/><circle cx="57.5" cy="463.0" r="1.33"/><circle cx="55.9" cy="457.1" r="0.98"/><circle cx="30.8" cy="445.9" r="1.30"/><circle cx="17.6" cy="438.5" r="1.28"/><circle cx="26.9" cy="432.4" r="0.77"/><circle cx="43.7" cy="444.3" r="1.44"/><circle cx="62.0" cy="474.3" r="0.94"/><circle cx="17.8" cy="433.9" r="1.10"/><circle cx="52.4" cy="449.8" r="0.91"/><circle cx="36.2" cy="457.7" r="1.22"/><circle cx="54.5" cy="468.0" r="1.22"/><circle cx="19.9" cy="467.7" r="0.96"/><circle cx="44.5" cy="446.4" r="1.27"/><circle cx="24.2" cy="440.7" r="0.92"/><circle cx="21.7" cy="469.6" r="1.15"/><circle cx="31.2" cy="447.5" r="1.44"/><circle cx="41.2" cy="440.0" r="1.32"/><circle cx="49.3" cy="474.5" r="0.82"/><circle cx="39.4" cy="466.7" r="1.34"/><circle cx="63.7" cy="431.3" r="0.96"/><circle cx="19.8" cy="438.1" r="1.43"/><circle cx="45.4" cy="471.7" r="1.01"/><circle cx="61.0" cy="449.9" r="0.93"/><circle cx="56.1" cy="472.4" r="0.82"/><circle cx="46.1" cy="457.6" r="0.90"/><circle cx="33.6" cy="435.9" r="0.89"/><circle cx="27.3" cy="456.7" r="1.21"/><circle cx="24.4" cy="430.0" r="0.98"/><circle cx="50.6" cy="437.9" r="0.97"/><circle cx="24.4" cy="465.6" r="1.13"/><circle cx="16.7" cy="434.1" r="1.03"/><circle cx="43.6" cy="458.5" r="0.81"/><circle cx="22.2" cy="461.1" r="1.04"/><circle cx="28.8" cy="443.5" r="1.42"/></g>
</g></g>
<g clip-path="url(#cp2)"><rect x="70.70" y="430.50" width="53.00" height="43.40" fill="#c6c1d5"/><g filter="url(#tbs)">
<rect x="69.70" y="429.50" width="55.00" height="45.40" filter="url(#nf3)"/>
<rect x="69.70" y="429.50" width="55.00" height="45.40" filter="url(#nf4)"/>
<g fill="#fbfbfd" opacity="0.75"><circle cx="86.9" cy="455.2" r="1.00"/><circle cx="92.6" cy="468.7" r="1.45"/><circle cx="89.7" cy="438.5" r="1.26"/><circle cx="80.9" cy="429.8" r="1.38"/><circle cx="93.0" cy="466.7" r="1.03"/><circle cx="118.3" cy="450.4" r="0.86"/><circle cx="70.5" cy="454.5" r="1.20"/><circle cx="119.7" cy="433.5" r="1.19"/><circle cx="90.1" cy="452.4" r="0.85"/><circle cx="85.3" cy="453.2" r="1.40"/><circle cx="75.7" cy="451.8" r="1.31"/><circle cx="122.9" cy="438.5" r="0.84"/><circle cx="121.6" cy="473.8" r="1.09"/><circle cx="72.6" cy="471.5" r="1.02"/><circle cx="119.4" cy="457.7" r="1.33"/><circle cx="78.5" cy="465.2" r="0.91"/><circle cx="91.9" cy="467.9" r="1.33"/><circle cx="79.8" cy="439.4" r="1.03"/><circle cx="98.2" cy="446.9" r="0.84"/><circle cx="83.3" cy="462.4" r="1.38"/><circle cx="72.0" cy="455.0" r="1.28"/><circle cx="71.8" cy="467.6" r="0.83"/><circle cx="102.7" cy="454.5" r="1.19"/><circle cx="86.5" cy="448.6" r="1.16"/><circle cx="93.1" cy="459.4" r="1.06"/><circle cx="93.8" cy="430.6" r="1.18"/><circle cx="96.6" cy="440.2" r="1.28"/><circle cx="112.6" cy="450.3" r="0.88"/><circle cx="95.7" cy="434.4" r="0.84"/><circle cx="93.4" cy="433.7" r="1.06"/><circle cx="97.8" cy="431.4" r="1.20"/><circle cx="74.2" cy="462.8" r="1.29"/><circle cx="97.8" cy="432.0" r="1.10"/><circle cx="90.5" cy="472.7" r="0.85"/><circle cx="116.8" cy="474.7" r="1.26"/><circle cx="114.5" cy="438.3" r="1.44"/><circle cx="96.8" cy="472.9" r="1.39"/><circle cx="78.8" cy="465.3" r="1.40"/><circle cx="73.3" cy="445.4" r="1.28"/><circle cx="78.4" cy="470.2" r="0.94"/><circle cx="114.6" cy="436.0" r="1.10"/><circle cx="120.3" cy="439.0" r="0.93"/><circle cx="97.5" cy="444.0" r="0.78"/><circle cx="79.7" cy="436.8" r="1.41"/><circle cx="107.1" cy="470.2" r="0.87"/><circle cx="112.9" cy="434.7" r="1.12"/><circle cx="104.7" cy="445.8" r="1.36"/><circle cx="100.2" cy="455.8" r="1.37"/><circle cx="75.5" cy="474.6" r="1.19"/><circle cx="91.4" cy="465.7" r="0.94"/><circle cx="124.2" cy="455.7" r="1.00"/><circle cx="111.8" cy="449.6" r="0.87"/><circle cx="110.6" cy="431.7" r="1.32"/><circle cx="83.7" cy="458.5" r="1.44"/><circle cx="101.9" cy="459.6" r="0.97"/><circle cx="69.8" cy="431.0" r="0.85"/><circle cx="103.6" cy="449.1" r="1.11"/><circle cx="119.0" cy="435.5" r="0.91"/><circle cx="105.6" cy="430.5" r="0.75"/><circle cx="89.2" cy="434.3" r="1.00"/><circle cx="82.0" cy="456.0" r="1.16"/><circle cx="80.9" cy="457.8" r="1.08"/><circle cx="77.1" cy="472.0" r="0.92"/><circle cx="77.9" cy="433.8" r="1.20"/><circle cx="117.6" cy="465.0" r="1.03"/><circle cx="84.2" cy="430.0" r="1.20"/><circle cx="100.6" cy="445.4" r="1.20"/><circle cx="94.1" cy="472.0" r="1.26"/><circle cx="83.4" cy="470.5" r="0.78"/><circle cx="98.9" cy="447.9" r="0.92"/><circle cx="72.9" cy="464.9" r="0.76"/><circle cx="100.0" cy="472.2" r="0.85"/><circle cx="80.7" cy="457.1" r="1.10"/><circle cx="105.0" cy="466.4" r="0.87"/><circle cx="86.7" cy="443.1" r="0.78"/><circle cx="118.6" cy="465.0" r="1.25"/><circle cx="70.0" cy="467.8" r="1.27"/><circle cx="95.3" cy="463.2" r="1.07"/><circle cx="82.1" cy="434.3" r="0.91"/><circle cx="71.8" cy="444.7" r="1.27"/><circle cx="107.9" cy="467.9" r="1.25"/><circle cx="84.3" cy="454.6" r="1.06"/><circle cx="113.1" cy="453.3" r="0.94"/><circle cx="105.0" cy="473.3" r="0.90"/><circle cx="118.1" cy="430.2" r="0.93"/><circle cx="82.7" cy="463.3" r="1.41"/><circle cx="110.7" cy="444.3" r="1.37"/><circle cx="87.8" cy="440.4" r="1.39"/><circle cx="104.4" cy="461.0" r="1.22"/><circle cx="123.5" cy="450.8" r="1.34"/><circle cx="108.1" cy="468.4" r="1.06"/><circle cx="109.6" cy="455.4" r="0.97"/><circle cx="81.4" cy="457.8" r="0.80"/><circle cx="119.8" cy="436.1" r="0.77"/><circle cx="75.6" cy="471.7" r="0.99"/><circle cx="77.5" cy="430.8" r="0.78"/><circle cx="107.8" cy="458.3" r="1.24"/><circle cx="110.2" cy="432.5" r="1.16"/><circle cx="89.7" cy="466.6" r="1.32"/><circle cx="118.7" cy="432.5" r="1.36"/><circle cx="120.0" cy="472.4" r="0.82"/><circle cx="81.0" cy="434.6" r="0.77"/><circle cx="116.3" cy="466.4" r="1.19"/><circle cx="115.1" cy="458.2" r="0.95"/><circle cx="75.2" cy="433.9" r="1.28"/><circle cx="81.0" cy="444.0" r="1.05"/><circle cx="70.9" cy="441.2" r="0.95"/><circle cx="109.1" cy="446.2" r="0.97"/><circle cx="122.7" cy="452.4" r="1.35"/><circle cx="103.7" cy="430.9" r="1.04"/><circle cx="93.7" cy="464.6" r="0.99"/><circle cx="108.5" cy="453.9" r="0.90"/><circle cx="117.1" cy="433.6" r="1.32"/><circle cx="79.1" cy="429.6" r="0.89"/><circle cx="111.6" cy="473.9" r="0.75"/><circle cx="96.7" cy="451.8" r="1.31"/><circle cx="79.8" cy="452.0" r="0.99"/><circle cx="115.5" cy="441.3" r="1.41"/><circle cx="85.3" cy="439.2" r="1.24"/><circle cx="97.1" cy="434.5" r="1.20"/><circle cx="74.1" cy="465.3" r="1.24"/><circle cx="113.0" cy="458.0" r="1.00"/><circle cx="91.8" cy="447.4" r="1.37"/><circle cx="74.4" cy="469.8" r="0.77"/><circle cx="81.0" cy="441.4" r="1.38"/><circle cx="97.3" cy="446.7" r="1.37"/><circle cx="82.5" cy="450.4" r="1.12"/><circle cx="111.2" cy="463.7" r="1.20"/><circle cx="88.9" cy="444.3" r="0.86"/><circle cx="116.1" cy="459.6" r="1.27"/><circle cx="79.0" cy="449.4" r="1.29"/><circle cx="101.6" cy="435.2" r="1.07"/><circle cx="118.4" cy="440.3" r="0.88"/><circle cx="86.3" cy="461.4" r="1.34"/><circle cx="78.2" cy="436.6" r="0.92"/><circle cx="87.7" cy="453.2" r="0.86"/><circle cx="87.7" cy="438.1" r="1.43"/><circle cx="109.8" cy="434.1" r="1.42"/><circle cx="75.3" cy="446.9" r="1.44"/><circle cx="113.4" cy="462.8" r="1.05"/><circle cx="80.5" cy="458.5" r="0.82"/><circle cx="81.1" cy="447.1" r="0.77"/><circle cx="91.6" cy="465.4" r="1.24"/><circle cx="97.2" cy="458.2" r="1.07"/><circle cx="77.5" cy="456.9" r="1.03"/><circle cx="110.5" cy="470.7" r="1.05"/><circle cx="101.3" cy="463.5" r="1.04"/><circle cx="82.3" cy="462.3" r="1.37"/><circle cx="112.3" cy="461.3" r="1.35"/><circle cx="107.1" cy="458.6" r="1.07"/><circle cx="86.9" cy="458.0" r="0.82"/><circle cx="92.8" cy="465.0" r="1.25"/><circle cx="104.3" cy="440.9" r="1.05"/><circle cx="94.7" cy="457.7" r="1.04"/><circle cx="106.8" cy="471.7" r="0.88"/><circle cx="105.7" cy="464.8" r="1.02"/><circle cx="96.6" cy="473.7" r="0.78"/><circle cx="99.6" cy="436.8" r="1.30"/><circle cx="121.4" cy="453.1" r="0.82"/><circle cx="101.3" cy="454.1" r="1.25"/><circle cx="97.9" cy="458.5" r="1.33"/><circle cx="98.4" cy="448.1" r="1.41"/><circle cx="81.3" cy="460.6" r="1.02"/><circle cx="111.6" cy="435.1" r="1.44"/><circle cx="89.3" cy="432.1" r="0.94"/><circle cx="91.7" cy="430.1" r="1.04"/><circle cx="92.8" cy="461.2" r="1.00"/><circle cx="84.3" cy="439.7" r="1.27"/><circle cx="121.4" cy="453.4" r="0.90"/><circle cx="113.8" cy="447.3" r="0.90"/><circle cx="76.8" cy="464.8" r="1.32"/><circle cx="104.6" cy="450.8" r="1.14"/><circle cx="82.1" cy="473.3" r="1.00"/><circle cx="104.8" cy="466.7" r="1.32"/><circle cx="95.4" cy="442.9" r="1.13"/><circle cx="76.6" cy="467.4" r="1.00"/><circle cx="116.5" cy="441.6" r="1.01"/><circle cx="83.6" cy="448.8" r="0.88"/><circle cx="69.8" cy="462.3" r="0.95"/><circle cx="83.2" cy="443.2" r="1.09"/><circle cx="93.3" cy="458.4" r="1.21"/><circle cx="89.6" cy="471.7" r="1.35"/><circle cx="72.8" cy="467.1" r="1.38"/><circle cx="112.8" cy="435.9" r="1.33"/><circle cx="104.5" cy="430.2" r="0.76"/><circle cx="122.0" cy="459.3" r="0.93"/><circle cx="75.3" cy="436.0" r="0.91"/><circle cx="112.4" cy="445.2" r="0.86"/><circle cx="119.4" cy="465.4" r="0.87"/><circle cx="118.7" cy="457.1" r="1.30"/><circle cx="106.5" cy="470.1" r="1.30"/><circle cx="115.8" cy="438.5" r="1.23"/><circle cx="98.9" cy="463.2" r="1.06"/><circle cx="118.2" cy="454.7" r="0.94"/><circle cx="82.6" cy="435.8" r="1.10"/><circle cx="72.9" cy="450.7" r="0.85"/><circle cx="96.7" cy="452.1" r="1.13"/><circle cx="117.2" cy="429.8" r="1.34"/><circle cx="95.4" cy="455.0" r="1.22"/><circle cx="115.9" cy="446.5" r="1.04"/><circle cx="122.5" cy="432.9" r="1.20"/><circle cx="104.7" cy="430.8" r="1.18"/><circle cx="107.2" cy="471.8" r="0.98"/><circle cx="123.7" cy="452.7" r="1.09"/><circle cx="119.1" cy="431.0" r="1.25"/><circle cx="104.1" cy="444.9" r="1.35"/><circle cx="89.8" cy="451.0" r="1.12"/><circle cx="112.1" cy="439.1" r="1.05"/><circle cx="92.9" cy="454.7" r="1.33"/><circle cx="85.8" cy="467.1" r="1.03"/><circle cx="97.4" cy="441.8" r="1.10"/><circle cx="123.3" cy="459.2" r="1.30"/><circle cx="87.9" cy="443.9" r="0.96"/><circle cx="102.0" cy="458.3" r="1.30"/><circle cx="71.9" cy="462.3" r="1.37"/><circle cx="99.7" cy="431.8" r="0.96"/><circle cx="70.0" cy="438.1" r="1.40"/><circle cx="103.2" cy="459.4" r="1.30"/><circle cx="119.7" cy="457.3" r="1.18"/><circle cx="104.2" cy="461.1" r="1.17"/><circle cx="107.2" cy="439.1" r="1.22"/><circle cx="94.9" cy="464.1" r="0.82"/><circle cx="79.7" cy="431.2" r="1.29"/><circle cx="120.0" cy="459.3" r="1.01"/><circle cx="114.9" cy="465.2" r="1.14"/><circle cx="83.9" cy="443.2" r="1.05"/><circle cx="87.2" cy="449.1" r="1.20"/><circle cx="121.1" cy="432.0" r="1.15"/><circle cx="71.9" cy="434.9" r="1.32"/><circle cx="101.3" cy="471.2" r="1.06"/><circle cx="70.5" cy="447.1" r="1.16"/><circle cx="121.3" cy="474.0" r="1.08"/><circle cx="92.4" cy="434.1" r="1.20"/><circle cx="81.4" cy="436.4" r="0.76"/><circle cx="70.0" cy="460.5" r="0.84"/><circle cx="122.8" cy="433.5" r="1.36"/><circle cx="76.8" cy="430.3" r="1.25"/><circle cx="83.0" cy="462.8" r="0.88"/><circle cx="72.5" cy="464.6" r="1.25"/><circle cx="116.8" cy="462.6" r="0.81"/><circle cx="104.3" cy="461.7" r="1.07"/><circle cx="121.0" cy="441.0" r="1.43"/><circle cx="109.1" cy="430.0" r="0.76"/><circle cx="105.5" cy="466.6" r="0.81"/><circle cx="86.8" cy="462.6" r="0.87"/><circle cx="117.1" cy="451.6" r="0.79"/><circle cx="89.9" cy="455.6" r="1.06"/><circle cx="106.9" cy="436.1" r="1.31"/><circle cx="89.7" cy="458.8" r="1.19"/><circle cx="92.7" cy="447.0" r="1.30"/><circle cx="121.7" cy="465.1" r="1.15"/><circle cx="85.8" cy="432.3" r="1.43"/><circle cx="108.4" cy="467.1" r="0.98"/><circle cx="103.0" cy="473.9" r="1.33"/><circle cx="102.8" cy="443.5" r="1.05"/><circle cx="118.5" cy="446.6" r="1.23"/><circle cx="102.8" cy="470.2" r="1.32"/><circle cx="85.3" cy="429.6" r="0.93"/><circle cx="92.9" cy="456.1" r="1.32"/><circle cx="118.5" cy="431.4" r="1.33"/><circle cx="114.3" cy="468.9" r="1.15"/><circle cx="84.8" cy="468.1" r="1.31"/><circle cx="107.4" cy="471.0" r="0.99"/><circle cx="74.4" cy="454.6" r="1.31"/><circle cx="80.7" cy="463.6" r="1.40"/><circle cx="82.6" cy="457.1" r="1.22"/><circle cx="95.3" cy="438.9" r="0.93"/><circle cx="111.0" cy="465.4" r="1.07"/><circle cx="74.5" cy="466.1" r="1.29"/><circle cx="82.5" cy="455.8" r="1.38"/><circle cx="118.4" cy="453.2" r="1.08"/><circle cx="102.1" cy="438.1" r="0.88"/><circle cx="79.6" cy="461.3" r="1.00"/><circle cx="100.7" cy="447.8" r="1.11"/><circle cx="77.9" cy="431.5" r="1.45"/><circle cx="90.3" cy="434.3" r="1.19"/><circle cx="113.0" cy="436.6" r="1.17"/><circle cx="88.7" cy="453.1" r="0.76"/><circle cx="71.5" cy="474.5" r="1.36"/><circle cx="96.4" cy="455.3" r="0.93"/><circle cx="112.6" cy="448.8" r="1.41"/><circle cx="111.9" cy="466.7" r="1.42"/><circle cx="83.7" cy="431.2" r="0.89"/><circle cx="79.6" cy="433.3" r="0.79"/><circle cx="100.4" cy="469.0" r="1.07"/><circle cx="121.8" cy="470.8" r="0.79"/><circle cx="102.6" cy="447.5" r="0.83"/><circle cx="122.5" cy="441.2" r="1.15"/><circle cx="104.9" cy="472.9" r="1.22"/><circle cx="91.3" cy="449.9" r="0.86"/><circle cx="122.8" cy="474.5" r="0.91"/><circle cx="71.8" cy="441.1" r="1.00"/><circle cx="119.4" cy="470.6" r="1.34"/><circle cx="72.3" cy="465.2" r="1.25"/><circle cx="105.3" cy="474.2" r="0.79"/><circle cx="77.7" cy="463.8" r="1.41"/><circle cx="106.9" cy="443.1" r="1.16"/><circle cx="111.4" cy="434.3" r="0.98"/><circle cx="83.8" cy="435.1" r="1.09"/><circle cx="79.0" cy="440.3" r="0.85"/></g>
</g></g>
<g clip-path="url(#cp3)"><rect x="126.30" y="430.50" width="53.20" height="43.40" fill="#dcd9e6"/><g filter="url(#tbs)">
<rect x="125.30" y="429.50" width="55.20" height="45.40" filter="url(#nf5)"/>
<g fill="#fbfbfd" opacity="0.8"><circle cx="162.7" cy="430.1" r="0.86"/><circle cx="136.1" cy="431.1" r="0.96"/><circle cx="137.5" cy="471.9" r="0.93"/><circle cx="174.4" cy="435.8" r="0.72"/><circle cx="130.7" cy="471.7" r="0.92"/><circle cx="160.0" cy="450.0" r="0.67"/><circle cx="170.7" cy="451.2" r="0.81"/><circle cx="133.2" cy="439.6" r="0.53"/><circle cx="164.7" cy="454.6" r="0.57"/><circle cx="173.4" cy="441.6" r="0.71"/><circle cx="133.9" cy="441.8" r="0.92"/><circle cx="143.8" cy="437.1" r="0.75"/><circle cx="142.9" cy="470.5" r="0.56"/><circle cx="179.3" cy="432.1" r="0.95"/><circle cx="162.2" cy="439.1" r="0.74"/><circle cx="141.1" cy="441.2" r="0.60"/><circle cx="145.4" cy="474.5" r="1.00"/><circle cx="176.4" cy="433.9" r="0.64"/><circle cx="174.8" cy="432.1" r="0.86"/><circle cx="141.5" cy="473.9" r="0.51"/><circle cx="169.8" cy="445.0" r="0.57"/><circle cx="125.4" cy="467.3" r="0.76"/><circle cx="135.6" cy="449.3" r="0.96"/><circle cx="137.3" cy="455.4" r="0.57"/><circle cx="135.2" cy="464.5" r="0.86"/><circle cx="136.2" cy="433.1" r="0.54"/><circle cx="158.9" cy="452.0" r="0.64"/><circle cx="136.7" cy="457.3" r="0.85"/><circle cx="170.1" cy="456.0" r="0.60"/><circle cx="128.9" cy="462.8" r="0.70"/><circle cx="165.1" cy="432.0" r="0.91"/><circle cx="143.8" cy="467.7" r="0.93"/><circle cx="152.5" cy="430.2" r="0.96"/><circle cx="151.6" cy="469.1" r="0.63"/><circle cx="135.6" cy="467.3" r="0.68"/><circle cx="134.3" cy="446.4" r="0.80"/><circle cx="125.6" cy="453.1" r="0.72"/><circle cx="153.8" cy="435.0" r="0.86"/><circle cx="170.4" cy="468.8" r="0.66"/><circle cx="164.6" cy="446.8" r="0.88"/><circle cx="128.7" cy="469.1" r="0.98"/><circle cx="152.6" cy="452.8" r="0.77"/><circle cx="155.0" cy="430.4" r="0.98"/><circle cx="137.6" cy="437.8" r="0.55"/><circle cx="139.1" cy="466.6" r="0.52"/><circle cx="130.6" cy="461.2" r="0.60"/><circle cx="126.3" cy="456.7" r="0.79"/><circle cx="154.2" cy="461.4" r="0.55"/><circle cx="173.3" cy="462.1" r="0.52"/><circle cx="132.1" cy="451.9" r="0.75"/><circle cx="140.7" cy="435.0" r="0.70"/><circle cx="132.9" cy="456.4" r="0.93"/><circle cx="133.4" cy="455.5" r="0.87"/><circle cx="134.4" cy="467.0" r="0.97"/><circle cx="146.8" cy="448.6" r="0.92"/><circle cx="154.3" cy="447.5" r="0.97"/><circle cx="168.2" cy="444.9" r="0.62"/><circle cx="143.8" cy="449.3" r="0.99"/><circle cx="169.7" cy="470.9" r="0.91"/><circle cx="172.1" cy="431.9" r="0.76"/><circle cx="178.2" cy="471.9" r="0.62"/><circle cx="148.6" cy="458.2" r="0.68"/><circle cx="154.6" cy="432.6" r="0.72"/><circle cx="153.2" cy="430.4" r="0.57"/><circle cx="178.8" cy="464.8" r="0.97"/><circle cx="160.3" cy="466.2" r="0.94"/><circle cx="174.1" cy="431.1" r="0.82"/><circle cx="140.0" cy="460.3" r="0.64"/><circle cx="155.2" cy="471.5" r="0.81"/><circle cx="139.1" cy="453.1" r="0.72"/><circle cx="177.8" cy="442.6" r="0.65"/><circle cx="161.0" cy="435.0" r="0.80"/><circle cx="178.1" cy="452.8" r="0.63"/><circle cx="151.0" cy="453.7" r="0.57"/><circle cx="132.1" cy="435.5" r="0.65"/><circle cx="147.7" cy="442.6" r="0.62"/><circle cx="130.1" cy="454.3" r="0.92"/><circle cx="159.0" cy="455.4" r="0.83"/><circle cx="136.4" cy="461.8" r="0.73"/><circle cx="155.6" cy="457.3" r="0.73"/><circle cx="142.4" cy="440.5" r="0.61"/><circle cx="153.6" cy="446.9" r="0.79"/><circle cx="126.0" cy="445.5" r="0.93"/><circle cx="138.5" cy="454.8" r="0.75"/><circle cx="141.0" cy="474.3" r="0.65"/><circle cx="167.9" cy="436.7" r="0.53"/><circle cx="173.4" cy="449.5" r="0.53"/><circle cx="146.7" cy="449.5" r="0.87"/><circle cx="131.3" cy="439.7" r="0.98"/><circle cx="166.1" cy="436.5" r="0.67"/><circle cx="144.8" cy="460.2" r="0.81"/><circle cx="172.2" cy="466.8" r="0.76"/><circle cx="166.1" cy="463.2" r="0.88"/><circle cx="151.5" cy="465.1" r="0.85"/><circle cx="175.8" cy="435.3" r="0.94"/><circle cx="125.5" cy="464.3" r="0.79"/><circle cx="152.8" cy="473.2" r="0.79"/><circle cx="148.4" cy="465.1" r="0.94"/><circle cx="158.8" cy="446.7" r="0.73"/><circle cx="150.6" cy="462.3" r="0.65"/><circle cx="146.9" cy="454.7" r="0.69"/><circle cx="143.1" cy="465.2" r="0.92"/><circle cx="152.9" cy="449.7" r="0.59"/><circle cx="142.1" cy="436.1" r="0.79"/><circle cx="157.4" cy="433.5" r="0.96"/><circle cx="143.2" cy="467.8" r="0.92"/><circle cx="178.2" cy="438.8" r="0.71"/><circle cx="175.6" cy="430.0" r="0.52"/><circle cx="156.5" cy="452.1" r="0.96"/><circle cx="168.0" cy="453.9" r="1.00"/><circle cx="153.9" cy="453.0" r="0.84"/><circle cx="146.8" cy="445.7" r="0.80"/><circle cx="144.7" cy="472.5" r="0.84"/><circle cx="154.3" cy="434.0" r="0.69"/><circle cx="147.4" cy="455.0" r="0.79"/><circle cx="173.9" cy="473.3" r="0.74"/><circle cx="149.6" cy="457.9" r="1.00"/><circle cx="144.2" cy="453.6" r="0.91"/><circle cx="134.7" cy="443.9" r="0.99"/><circle cx="170.9" cy="452.8" r="0.56"/><circle cx="174.7" cy="460.8" r="0.91"/><circle cx="180.0" cy="469.8" r="0.71"/><circle cx="133.9" cy="442.7" r="0.76"/><circle cx="153.2" cy="438.0" r="0.59"/><circle cx="160.1" cy="456.9" r="0.68"/><circle cx="180.2" cy="458.4" r="0.52"/><circle cx="148.0" cy="465.3" r="0.65"/><circle cx="163.4" cy="429.7" r="0.65"/><circle cx="171.8" cy="456.1" r="0.83"/><circle cx="136.2" cy="452.1" r="0.78"/><circle cx="140.0" cy="458.9" r="0.77"/><circle cx="180.3" cy="455.6" r="0.71"/><circle cx="132.0" cy="436.6" r="0.88"/><circle cx="131.2" cy="434.0" r="0.59"/><circle cx="154.1" cy="466.9" r="0.81"/><circle cx="169.8" cy="432.3" r="0.51"/><circle cx="167.8" cy="444.2" r="0.86"/><circle cx="144.8" cy="437.2" r="0.63"/><circle cx="130.8" cy="470.5" r="0.79"/><circle cx="144.6" cy="449.9" r="0.69"/><circle cx="128.3" cy="469.9" r="0.79"/><circle cx="178.3" cy="449.5" r="0.81"/><circle cx="139.1" cy="431.5" r="0.97"/><circle cx="172.5" cy="443.8" r="0.95"/><circle cx="170.3" cy="443.3" r="0.80"/><circle cx="178.3" cy="452.0" r="0.97"/><circle cx="138.7" cy="447.2" r="0.86"/><circle cx="137.5" cy="443.5" r="0.94"/><circle cx="152.0" cy="465.5" r="0.62"/><circle cx="134.9" cy="445.8" r="0.59"/><circle cx="178.9" cy="442.7" r="0.78"/><circle cx="131.6" cy="453.7" r="0.69"/><circle cx="147.6" cy="432.5" r="0.56"/><circle cx="170.9" cy="445.4" r="0.62"/><circle cx="135.9" cy="442.4" r="0.62"/><circle cx="127.2" cy="459.7" r="0.67"/><circle cx="133.9" cy="461.5" r="0.55"/><circle cx="140.2" cy="467.4" r="0.56"/><circle cx="149.8" cy="467.5" r="0.90"/><circle cx="134.1" cy="445.5" r="0.86"/><circle cx="146.1" cy="473.0" r="0.60"/><circle cx="177.8" cy="452.4" r="0.61"/><circle cx="150.3" cy="435.4" r="0.85"/><circle cx="139.7" cy="470.3" r="0.79"/><circle cx="145.6" cy="440.7" r="0.80"/><circle cx="137.0" cy="469.1" r="0.56"/><circle cx="153.6" cy="454.1" r="0.64"/><circle cx="167.9" cy="447.0" r="0.83"/><circle cx="156.6" cy="443.6" r="0.69"/><circle cx="130.0" cy="437.5" r="0.93"/><circle cx="143.0" cy="459.6" r="0.55"/><circle cx="156.3" cy="445.9" r="0.75"/><circle cx="141.7" cy="432.5" r="0.66"/><circle cx="137.8" cy="435.2" r="0.86"/><circle cx="140.9" cy="447.8" r="0.95"/><circle cx="168.1" cy="469.6" r="0.93"/><circle cx="132.6" cy="442.1" r="0.51"/><circle cx="162.8" cy="459.6" r="0.68"/><circle cx="148.1" cy="459.4" r="0.85"/><circle cx="139.0" cy="467.9" r="0.68"/><circle cx="160.0" cy="437.7" r="0.56"/><circle cx="175.7" cy="462.8" r="0.86"/><circle cx="127.5" cy="431.3" r="0.58"/><circle cx="136.2" cy="443.3" r="0.69"/><circle cx="127.5" cy="443.6" r="0.82"/><circle cx="135.2" cy="467.6" r="0.79"/><circle cx="164.9" cy="441.1" r="0.72"/><circle cx="163.1" cy="445.3" r="0.50"/><circle cx="171.4" cy="464.8" r="0.64"/><circle cx="127.7" cy="468.3" r="0.80"/><circle cx="127.9" cy="440.6" r="0.56"/><circle cx="169.0" cy="439.0" r="0.96"/><circle cx="166.7" cy="433.4" r="0.85"/><circle cx="147.0" cy="463.4" r="0.91"/><circle cx="140.8" cy="433.6" r="0.97"/><circle cx="148.7" cy="471.7" r="0.85"/><circle cx="166.1" cy="467.2" r="0.81"/><circle cx="150.3" cy="432.0" r="0.85"/><circle cx="148.9" cy="452.7" r="0.96"/><circle cx="132.3" cy="464.1" r="0.52"/><circle cx="164.1" cy="466.1" r="0.63"/><circle cx="155.5" cy="473.5" r="0.82"/><circle cx="155.3" cy="440.8" r="0.53"/><circle cx="145.1" cy="448.2" r="0.60"/><circle cx="142.4" cy="435.7" r="0.85"/><circle cx="162.3" cy="440.3" r="0.62"/><circle cx="153.7" cy="449.7" r="0.97"/><circle cx="144.7" cy="443.1" r="0.94"/><circle cx="133.1" cy="455.1" r="0.67"/><circle cx="170.3" cy="454.4" r="0.88"/><circle cx="134.6" cy="459.8" r="0.80"/><circle cx="150.8" cy="464.3" r="0.92"/><circle cx="131.6" cy="442.6" r="0.68"/><circle cx="136.7" cy="432.2" r="0.64"/><circle cx="136.2" cy="461.4" r="0.72"/><circle cx="131.5" cy="444.2" r="0.73"/><circle cx="145.3" cy="437.1" r="0.54"/><circle cx="125.9" cy="474.5" r="0.88"/><circle cx="129.9" cy="462.1" r="0.99"/><circle cx="156.4" cy="434.4" r="0.74"/><circle cx="149.3" cy="438.1" r="0.77"/><circle cx="125.8" cy="471.2" r="0.82"/><circle cx="160.0" cy="472.0" r="0.83"/><circle cx="139.2" cy="440.7" r="0.57"/><circle cx="126.8" cy="464.7" r="0.92"/><circle cx="141.7" cy="437.9" r="0.82"/><circle cx="172.0" cy="471.6" r="0.58"/><circle cx="168.6" cy="467.2" r="0.87"/><circle cx="143.3" cy="437.9" r="0.91"/><circle cx="143.0" cy="446.2" r="0.78"/><circle cx="145.7" cy="467.2" r="0.62"/><circle cx="127.6" cy="455.2" r="0.81"/><circle cx="170.5" cy="461.5" r="0.95"/><circle cx="177.5" cy="451.9" r="0.75"/><circle cx="134.0" cy="443.1" r="0.79"/><circle cx="129.7" cy="460.7" r="0.58"/><circle cx="149.8" cy="473.5" r="0.54"/><circle cx="127.5" cy="449.5" r="0.60"/><circle cx="165.2" cy="429.6" r="0.92"/><circle cx="172.5" cy="465.2" r="0.71"/><circle cx="140.9" cy="459.5" r="0.76"/><circle cx="148.6" cy="444.9" r="0.72"/><circle cx="162.1" cy="467.0" r="0.95"/><circle cx="134.4" cy="442.9" r="0.72"/><circle cx="156.4" cy="445.3" r="0.60"/><circle cx="130.0" cy="444.2" r="0.73"/><circle cx="178.9" cy="470.8" r="0.93"/><circle cx="179.1" cy="473.2" r="0.81"/><circle cx="170.1" cy="432.2" r="0.84"/><circle cx="158.9" cy="443.0" r="0.79"/><circle cx="177.9" cy="451.3" r="0.82"/><circle cx="141.8" cy="445.1" r="0.94"/><circle cx="126.8" cy="438.1" r="0.84"/><circle cx="150.0" cy="433.4" r="0.83"/><circle cx="145.8" cy="455.9" r="0.71"/><circle cx="154.6" cy="455.1" r="0.70"/><circle cx="131.6" cy="437.7" r="0.94"/><circle cx="155.6" cy="434.6" r="0.93"/><circle cx="139.3" cy="433.8" r="0.77"/><circle cx="139.2" cy="451.7" r="0.78"/><circle cx="137.8" cy="455.5" r="0.56"/><circle cx="153.6" cy="456.2" r="0.54"/><circle cx="147.8" cy="432.8" r="0.72"/><circle cx="173.0" cy="454.5" r="0.86"/><circle cx="167.1" cy="434.7" r="1.00"/><circle cx="165.1" cy="434.1" r="0.92"/><circle cx="146.9" cy="437.3" r="0.98"/><circle cx="156.4" cy="464.7" r="0.57"/><circle cx="168.1" cy="432.1" r="0.62"/><circle cx="145.9" cy="430.2" r="0.80"/><circle cx="137.1" cy="443.1" r="0.85"/><circle cx="148.8" cy="469.8" r="0.81"/><circle cx="173.4" cy="455.1" r="0.96"/><circle cx="173.4" cy="437.1" r="0.87"/><circle cx="144.1" cy="464.2" r="0.84"/><circle cx="170.9" cy="435.1" r="0.69"/><circle cx="166.0" cy="472.5" r="0.86"/><circle cx="127.7" cy="456.9" r="0.55"/><circle cx="155.6" cy="466.0" r="0.56"/><circle cx="176.4" cy="460.2" r="0.63"/><circle cx="136.0" cy="449.8" r="0.92"/><circle cx="157.4" cy="434.7" r="0.51"/><circle cx="131.4" cy="465.9" r="0.59"/><circle cx="155.9" cy="442.7" r="0.84"/><circle cx="146.3" cy="436.0" r="0.94"/><circle cx="155.0" cy="460.8" r="0.90"/><circle cx="177.7" cy="430.1" r="0.67"/><circle cx="133.6" cy="452.3" r="0.94"/><circle cx="169.5" cy="431.1" r="0.59"/><circle cx="170.5" cy="460.3" r="0.70"/><circle cx="151.6" cy="436.7" r="0.92"/><circle cx="147.0" cy="469.1" r="0.81"/><circle cx="129.5" cy="444.4" r="0.61"/><circle cx="174.6" cy="456.3" r="0.52"/><circle cx="134.7" cy="445.9" r="0.73"/><circle cx="157.2" cy="447.1" r="0.68"/><circle cx="125.6" cy="455.8" r="0.67"/><circle cx="126.4" cy="450.4" r="0.99"/><circle cx="127.8" cy="436.1" r="0.84"/><circle cx="140.4" cy="441.9" r="0.75"/></g>
</g></g>
<g clip-path="url(#cp4)"><rect x="182.50" y="430.50" width="52.50" height="43.40" fill="#dad7e6"/><g filter="url(#tbs)">
<rect x="181.50" y="429.50" width="54.50" height="45.40" filter="url(#nf6)"/>
<g fill="#fbfbfd" opacity="0.7"><circle cx="195.8" cy="455.3" r="0.76"/><circle cx="233.7" cy="474.5" r="0.52"/><circle cx="212.1" cy="464.5" r="0.94"/><circle cx="223.7" cy="458.2" r="0.82"/><circle cx="201.3" cy="442.3" r="0.90"/><circle cx="229.1" cy="472.1" r="0.84"/><circle cx="198.1" cy="464.2" r="0.87"/><circle cx="209.2" cy="458.3" r="0.68"/><circle cx="211.5" cy="447.9" r="0.53"/><circle cx="199.9" cy="444.2" r="0.99"/><circle cx="207.7" cy="446.2" r="0.62"/><circle cx="194.3" cy="445.4" r="0.57"/><circle cx="181.9" cy="469.0" r="0.73"/><circle cx="205.8" cy="455.3" r="0.65"/><circle cx="190.7" cy="432.5" r="0.65"/><circle cx="198.3" cy="462.5" r="0.78"/><circle cx="232.6" cy="445.0" r="0.96"/><circle cx="213.3" cy="433.1" r="0.59"/><circle cx="213.1" cy="474.3" r="0.68"/><circle cx="223.7" cy="448.9" r="0.93"/><circle cx="185.2" cy="451.5" r="0.95"/><circle cx="196.5" cy="441.2" r="0.51"/><circle cx="190.5" cy="441.7" r="0.85"/><circle cx="193.4" cy="447.6" r="0.60"/><circle cx="214.4" cy="468.7" r="0.82"/><circle cx="192.2" cy="462.8" r="0.98"/><circle cx="214.3" cy="433.1" r="0.90"/><circle cx="229.2" cy="445.0" r="0.57"/><circle cx="191.8" cy="453.9" r="0.94"/><circle cx="216.4" cy="471.4" r="0.61"/><circle cx="199.3" cy="463.5" r="0.82"/><circle cx="203.6" cy="460.3" r="0.67"/><circle cx="184.6" cy="448.3" r="0.52"/><circle cx="215.6" cy="444.7" r="0.75"/><circle cx="214.1" cy="441.2" r="0.73"/><circle cx="182.2" cy="471.5" r="0.78"/><circle cx="235.3" cy="432.0" r="0.81"/><circle cx="221.0" cy="444.4" r="0.55"/><circle cx="190.0" cy="436.0" r="0.88"/><circle cx="186.4" cy="466.5" r="0.71"/><circle cx="210.9" cy="456.2" r="0.78"/><circle cx="217.3" cy="456.8" r="0.67"/><circle cx="221.9" cy="441.2" r="0.86"/><circle cx="223.1" cy="464.7" r="0.65"/><circle cx="223.6" cy="473.9" r="0.73"/><circle cx="196.7" cy="453.3" r="0.97"/><circle cx="188.7" cy="429.9" r="0.74"/><circle cx="217.2" cy="464.6" r="0.68"/><circle cx="235.4" cy="439.9" r="0.88"/><circle cx="186.4" cy="430.8" r="0.57"/><circle cx="184.8" cy="452.3" r="0.78"/><circle cx="191.4" cy="472.2" r="0.68"/><circle cx="189.6" cy="437.6" r="0.87"/><circle cx="231.7" cy="436.9" r="0.51"/><circle cx="223.9" cy="440.5" r="0.99"/><circle cx="208.7" cy="458.4" r="0.67"/><circle cx="225.1" cy="450.4" r="0.66"/><circle cx="230.7" cy="434.4" r="0.87"/><circle cx="185.1" cy="458.8" r="0.70"/><circle cx="228.6" cy="432.2" r="0.78"/><circle cx="203.8" cy="471.2" r="0.97"/><circle cx="215.7" cy="439.7" r="0.63"/><circle cx="195.8" cy="449.2" r="0.62"/><circle cx="192.6" cy="464.0" r="0.82"/><circle cx="197.8" cy="474.6" r="0.61"/><circle cx="212.5" cy="436.6" r="0.93"/><circle cx="228.9" cy="441.6" r="0.88"/><circle cx="226.3" cy="442.3" r="0.67"/><circle cx="208.0" cy="470.0" r="0.58"/><circle cx="218.7" cy="456.6" r="0.73"/><circle cx="213.1" cy="469.6" r="0.60"/><circle cx="229.7" cy="445.9" r="0.89"/><circle cx="228.6" cy="437.8" r="0.93"/><circle cx="235.7" cy="443.0" r="0.51"/><circle cx="187.6" cy="473.7" r="0.50"/><circle cx="231.2" cy="436.3" r="0.87"/><circle cx="186.8" cy="437.2" r="0.84"/><circle cx="186.4" cy="444.9" r="0.96"/><circle cx="220.5" cy="469.5" r="0.99"/><circle cx="183.3" cy="440.2" r="0.90"/><circle cx="219.1" cy="431.2" r="0.75"/><circle cx="194.1" cy="449.0" r="0.55"/><circle cx="182.6" cy="474.5" r="0.66"/><circle cx="229.4" cy="435.0" r="0.74"/><circle cx="188.9" cy="449.0" r="0.59"/><circle cx="218.9" cy="436.2" r="0.87"/><circle cx="208.8" cy="434.6" r="0.68"/><circle cx="208.5" cy="471.2" r="0.67"/><circle cx="193.2" cy="473.4" r="0.94"/><circle cx="221.4" cy="441.9" r="0.59"/><circle cx="195.9" cy="432.6" r="0.52"/><circle cx="209.2" cy="448.0" r="0.78"/><circle cx="201.3" cy="430.0" r="0.84"/><circle cx="217.1" cy="454.2" r="0.77"/><circle cx="219.1" cy="474.1" r="0.94"/><circle cx="220.6" cy="447.6" r="0.66"/><circle cx="204.3" cy="473.7" r="0.69"/><circle cx="202.5" cy="448.1" r="0.57"/><circle cx="235.9" cy="429.7" r="0.80"/><circle cx="232.0" cy="441.1" r="0.81"/><circle cx="202.0" cy="440.4" r="0.60"/><circle cx="187.8" cy="467.8" r="0.89"/><circle cx="231.0" cy="431.7" r="0.85"/><circle cx="199.2" cy="458.8" r="0.77"/><circle cx="198.7" cy="473.6" r="0.50"/><circle cx="222.2" cy="468.2" r="0.76"/><circle cx="213.8" cy="474.7" r="0.62"/><circle cx="215.8" cy="463.2" r="0.69"/><circle cx="220.3" cy="447.4" r="0.76"/><circle cx="214.9" cy="460.2" r="0.66"/><circle cx="215.8" cy="454.2" r="0.61"/><circle cx="214.9" cy="441.5" r="0.95"/><circle cx="207.3" cy="462.3" r="0.76"/><circle cx="207.5" cy="439.5" r="0.57"/><circle cx="232.0" cy="453.5" r="0.76"/><circle cx="210.2" cy="466.4" r="0.62"/><circle cx="190.9" cy="466.8" r="0.73"/><circle cx="216.4" cy="467.1" r="0.95"/><circle cx="228.8" cy="431.5" r="0.69"/><circle cx="226.9" cy="466.6" r="0.56"/><circle cx="189.9" cy="440.9" r="0.55"/><circle cx="200.9" cy="466.0" r="0.76"/><circle cx="206.2" cy="433.5" r="0.70"/><circle cx="235.8" cy="461.1" r="0.72"/><circle cx="207.6" cy="465.7" r="0.88"/><circle cx="189.7" cy="460.4" r="0.68"/><circle cx="209.9" cy="440.3" r="0.69"/><circle cx="200.0" cy="446.8" r="0.51"/><circle cx="192.4" cy="455.4" r="0.53"/><circle cx="191.2" cy="462.1" r="0.64"/><circle cx="199.2" cy="440.5" r="0.92"/><circle cx="186.5" cy="458.4" r="0.93"/><circle cx="192.5" cy="448.7" r="0.90"/><circle cx="215.2" cy="446.4" r="0.52"/><circle cx="205.6" cy="446.2" r="0.86"/><circle cx="197.6" cy="448.0" r="0.82"/><circle cx="225.7" cy="445.5" r="0.69"/><circle cx="213.0" cy="471.5" r="0.60"/><circle cx="234.4" cy="461.8" r="0.69"/><circle cx="217.8" cy="444.5" r="0.54"/><circle cx="222.7" cy="446.7" r="0.76"/><circle cx="208.6" cy="470.4" r="0.88"/><circle cx="182.9" cy="456.4" r="0.73"/><circle cx="206.7" cy="467.6" r="0.71"/><circle cx="207.3" cy="469.9" r="0.72"/><circle cx="208.3" cy="452.7" r="0.91"/><circle cx="218.0" cy="463.1" r="0.70"/><circle cx="183.7" cy="460.4" r="0.78"/><circle cx="223.4" cy="464.5" r="0.56"/><circle cx="193.5" cy="433.0" r="0.91"/><circle cx="187.0" cy="433.5" r="0.88"/><circle cx="212.3" cy="432.0" r="0.84"/><circle cx="220.3" cy="451.4" r="0.53"/><circle cx="219.2" cy="448.5" r="0.79"/><circle cx="235.9" cy="466.6" r="0.94"/><circle cx="189.4" cy="444.7" r="0.76"/><circle cx="181.8" cy="474.4" r="0.64"/><circle cx="195.8" cy="443.7" r="0.63"/><circle cx="228.3" cy="454.7" r="0.76"/><circle cx="204.4" cy="431.8" r="0.65"/><circle cx="228.7" cy="465.9" r="0.93"/><circle cx="195.5" cy="438.7" r="0.53"/><circle cx="210.8" cy="446.5" r="0.73"/><circle cx="208.1" cy="456.0" r="0.68"/><circle cx="225.2" cy="438.6" r="0.96"/><circle cx="211.8" cy="431.8" r="0.66"/><circle cx="210.6" cy="448.1" r="0.78"/><circle cx="199.1" cy="441.9" r="0.90"/><circle cx="197.4" cy="461.8" r="0.90"/><circle cx="213.8" cy="450.1" r="0.97"/><circle cx="205.7" cy="469.4" r="0.53"/><circle cx="205.1" cy="458.5" r="0.52"/><circle cx="228.5" cy="432.8" r="0.80"/><circle cx="191.3" cy="471.4" r="0.78"/><circle cx="225.1" cy="452.1" r="0.84"/><circle cx="218.3" cy="442.9" r="0.61"/><circle cx="227.2" cy="436.1" r="0.96"/><circle cx="192.8" cy="434.1" r="0.55"/><circle cx="224.2" cy="472.7" r="0.71"/><circle cx="217.4" cy="441.2" r="0.95"/><circle cx="218.9" cy="436.5" r="0.53"/><circle cx="219.4" cy="431.4" r="0.92"/><circle cx="197.5" cy="440.1" r="0.79"/><circle cx="198.9" cy="455.0" r="0.58"/><circle cx="231.2" cy="444.2" r="0.92"/><circle cx="189.8" cy="465.8" r="0.99"/><circle cx="202.8" cy="431.0" r="0.69"/><circle cx="216.4" cy="439.6" r="0.77"/><circle cx="186.6" cy="450.6" r="0.86"/><circle cx="204.9" cy="460.3" r="0.56"/><circle cx="226.7" cy="435.0" r="0.96"/><circle cx="235.8" cy="472.2" r="0.76"/><circle cx="197.3" cy="445.3" r="0.88"/><circle cx="208.6" cy="471.7" r="0.55"/><circle cx="207.9" cy="468.7" r="0.80"/><circle cx="211.0" cy="433.5" r="0.57"/><circle cx="196.3" cy="470.0" r="0.92"/><circle cx="193.9" cy="471.5" r="0.52"/><circle cx="214.1" cy="473.4" r="0.67"/><circle cx="233.0" cy="459.3" r="0.53"/><circle cx="199.7" cy="449.9" r="0.62"/><circle cx="222.0" cy="437.6" r="0.89"/><circle cx="197.8" cy="432.7" r="0.78"/><circle cx="186.7" cy="454.5" r="0.89"/><circle cx="214.0" cy="450.4" r="0.52"/><circle cx="209.5" cy="433.9" r="0.82"/><circle cx="188.7" cy="455.7" r="0.68"/><circle cx="201.9" cy="459.6" r="0.58"/><circle cx="190.7" cy="472.2" r="0.67"/><circle cx="227.4" cy="469.2" r="0.74"/><circle cx="189.6" cy="433.8" r="0.94"/><circle cx="187.9" cy="452.0" r="0.77"/><circle cx="187.9" cy="450.7" r="0.58"/><circle cx="210.7" cy="452.5" r="0.68"/><circle cx="192.3" cy="447.8" r="0.60"/><circle cx="188.4" cy="440.4" r="0.94"/><circle cx="208.8" cy="469.9" r="0.51"/><circle cx="232.9" cy="451.7" r="0.90"/><circle cx="212.6" cy="460.8" r="0.61"/><circle cx="222.4" cy="436.5" r="0.63"/><circle cx="183.2" cy="447.4" r="0.76"/><circle cx="197.4" cy="469.9" r="0.54"/><circle cx="213.0" cy="440.1" r="0.80"/><circle cx="224.2" cy="461.8" r="0.53"/><circle cx="194.9" cy="456.7" r="0.99"/><circle cx="183.7" cy="457.6" r="0.85"/><circle cx="225.9" cy="445.0" r="0.91"/><circle cx="206.7" cy="471.3" r="0.51"/><circle cx="232.7" cy="448.2" r="0.70"/><circle cx="186.3" cy="440.6" r="0.87"/><circle cx="218.5" cy="436.4" r="0.67"/><circle cx="189.2" cy="438.5" r="0.61"/><circle cx="199.5" cy="473.8" r="1.00"/><circle cx="224.6" cy="451.3" r="0.75"/><circle cx="224.0" cy="470.7" r="0.88"/><circle cx="216.2" cy="438.5" r="0.81"/><circle cx="227.6" cy="465.2" r="0.55"/><circle cx="220.6" cy="445.4" r="0.58"/><circle cx="234.1" cy="460.0" r="0.87"/><circle cx="188.9" cy="467.1" r="0.97"/><circle cx="230.8" cy="463.3" r="0.92"/><circle cx="225.2" cy="456.3" r="0.72"/><circle cx="226.5" cy="465.1" r="0.94"/><circle cx="197.8" cy="473.1" r="0.77"/><circle cx="233.1" cy="434.8" r="0.98"/><circle cx="224.4" cy="440.9" r="0.92"/><circle cx="194.1" cy="438.5" r="0.73"/><circle cx="194.4" cy="451.9" r="0.95"/><circle cx="218.9" cy="461.8" r="0.70"/><circle cx="224.2" cy="465.5" r="0.84"/><circle cx="232.8" cy="467.0" r="0.70"/><circle cx="186.2" cy="459.1" r="0.92"/><circle cx="200.0" cy="456.5" r="0.92"/><circle cx="224.7" cy="429.7" r="0.74"/><circle cx="182.4" cy="434.5" r="0.91"/><circle cx="204.3" cy="457.0" r="0.73"/><circle cx="199.8" cy="439.2" r="0.68"/><circle cx="227.5" cy="457.6" r="0.65"/><circle cx="186.3" cy="441.8" r="0.85"/><circle cx="205.6" cy="459.5" r="0.90"/></g>
</g></g>
<g clip-path="url(#cp5)"><rect x="14.20" y="477.00" width="53.20" height="43.70" fill="#eeeaf0"/><g filter="url(#tb)">
<rect x="13.20" y="476.00" width="55.20" height="45.70" filter="url(#nf7)"/>
<g fill="#f0d4cc" opacity="0.6"><ellipse cx="24.3" cy="484.5" rx="5.78" ry="5.42"/><ellipse cx="34.3" cy="481.1" rx="5.22" ry="4.91"/><ellipse cx="44.9" cy="482.8" rx="5.22" ry="4.91"/><ellipse cx="55.5" cy="480.0" rx="4.66" ry="4.39"/><ellipse cx="61.1" cy="486.2" rx="4.66" ry="4.39"/><ellipse cx="55.5" cy="487.2" rx="4.88" ry="4.60"/><ellipse cx="22.6" cy="494.0" rx="6.34" ry="5.94"/><ellipse cx="44.3" cy="494.5" rx="5.78" ry="5.42"/><ellipse cx="61.6" cy="492.8" rx="5.22" ry="4.91"/><ellipse cx="35.4" cy="500.1" rx="5.78" ry="5.42"/><ellipse cx="54.9" cy="502.9" rx="5.78" ry="5.42"/><ellipse cx="65.5" cy="499.0" rx="4.66" ry="4.39"/><ellipse cx="17.6" cy="508.5" rx="5.78" ry="5.42"/><ellipse cx="46.6" cy="507.9" rx="5.78" ry="5.42"/><ellipse cx="63.9" cy="508.5" rx="5.78" ry="5.42"/><ellipse cx="18.7" cy="516.3" rx="5.78" ry="5.42"/><ellipse cx="35.4" cy="514.5" rx="5.78" ry="5.42"/><ellipse cx="54.9" cy="515.2" rx="5.78" ry="5.42"/></g>
<g filter="url(#bfx1)" fill="url(#rg1)"><ellipse cx="24.3" cy="484.5" rx="4.48" ry="4.12"/><ellipse cx="34.3" cy="481.1" rx="3.92" ry="3.61"/><ellipse cx="44.9" cy="482.8" rx="3.92" ry="3.61"/><ellipse cx="55.5" cy="480.0" rx="3.36" ry="3.09"/><ellipse cx="61.1" cy="486.2" rx="3.36" ry="3.09"/><ellipse cx="55.5" cy="487.2" rx="3.58" ry="3.30"/><ellipse cx="22.6" cy="494.0" rx="5.04" ry="4.64"/><ellipse cx="44.3" cy="494.5" rx="4.48" ry="4.12"/><ellipse cx="61.6" cy="492.8" rx="3.92" ry="3.61"/><ellipse cx="35.4" cy="500.1" rx="4.48" ry="4.12"/><ellipse cx="54.9" cy="502.9" rx="4.48" ry="4.12"/><ellipse cx="65.5" cy="499.0" rx="3.36" ry="3.09"/><ellipse cx="17.6" cy="508.5" rx="4.48" ry="4.12"/><ellipse cx="46.6" cy="507.9" rx="4.48" ry="4.12"/><ellipse cx="63.9" cy="508.5" rx="4.48" ry="4.12"/><ellipse cx="18.7" cy="516.3" rx="4.48" ry="4.12"/><ellipse cx="35.4" cy="514.5" rx="4.48" ry="4.12"/><ellipse cx="54.9" cy="515.2" rx="4.48" ry="4.12"/></g>
</g></g>
<g clip-path="url(#cp6)"><rect x="70.70" y="477.00" width="53.00" height="43.70" fill="#efebf0"/><g filter="url(#tb)">
<rect x="69.70" y="476.00" width="55.00" height="45.70" filter="url(#nf8)"/>
<g fill="#f0d4cc" opacity="0.6"><ellipse cx="75.7" cy="482.8" rx="6.34" ry="6.90"/><ellipse cx="95.8" cy="487.8" rx="6.90" ry="6.45"/><ellipse cx="106.4" cy="482.8" rx="6.34" ry="5.94"/><ellipse cx="118.1" cy="479.5" rx="5.22" ry="4.91"/><ellipse cx="87.4" cy="492.8" rx="5.78" ry="5.42"/><ellipse cx="115.8" cy="492.8" rx="5.22" ry="4.91"/><ellipse cx="100.8" cy="500.1" rx="6.34" ry="5.94"/><ellipse cx="114.7" cy="498.4" rx="4.66" ry="4.39"/><ellipse cx="95.8" cy="504.6" rx="4.66" ry="4.39"/><ellipse cx="85.2" cy="507.3" rx="5.22" ry="4.91"/><ellipse cx="109.7" cy="510.7" rx="5.78" ry="5.42"/><ellipse cx="120.3" cy="514.6" rx="5.78" ry="5.42"/><ellipse cx="99.1" cy="514.0" rx="4.66" ry="4.39"/><ellipse cx="79.0" cy="517.4" rx="4.66" ry="4.66"/></g>
<g filter="url(#bfx2)" fill="url(#rg2)"><ellipse cx="75.7" cy="482.8" rx="5.04" ry="5.60"/><ellipse cx="95.8" cy="487.8" rx="5.60" ry="5.15"/><ellipse cx="106.4" cy="482.8" rx="5.04" ry="4.64"/><ellipse cx="118.1" cy="479.5" rx="3.92" ry="3.61"/><ellipse cx="87.4" cy="492.8" rx="4.48" ry="4.12"/><ellipse cx="115.8" cy="492.8" rx="3.92" ry="3.61"/><ellipse cx="100.8" cy="500.1" rx="5.04" ry="4.64"/><ellipse cx="114.7" cy="498.4" rx="3.36" ry="3.09"/><ellipse cx="95.8" cy="504.6" rx="3.36" ry="3.09"/><ellipse cx="85.2" cy="507.3" rx="3.92" ry="3.61"/><ellipse cx="109.7" cy="510.7" rx="4.48" ry="4.12"/><ellipse cx="120.3" cy="514.6" rx="4.48" ry="4.12"/><ellipse cx="99.1" cy="514.0" rx="3.36" ry="3.09"/><ellipse cx="79.0" cy="517.4" rx="3.36" ry="3.36"/></g>
<g fill="#6a4a50" opacity="1.0"><circle cx="73.5" cy="502.9" r="1.0"/><circle cx="112.0" cy="505.0" r="0.9"/><circle cx="90.0" cy="512.0" r="0.8"/><circle cx="104.0" cy="517.0" r="0.9"/></g>
</g></g>
<g clip-path="url(#cp7)"><rect x="126.30" y="477.00" width="53.20" height="43.70" fill="#d8cfe0"/><g filter="url(#tb)">
<rect x="125.30" y="476.00" width="55.20" height="45.70" filter="url(#nf9)"/>
<g fill="#5a4068" opacity="1.0"><circle cx="132.8" cy="487.0" r="1.2"/><circle cx="163.5" cy="478.3" r="1.2"/><circle cx="149.2" cy="495.8" r="1.2"/><circle cx="166.8" cy="495.8" r="1.2"/><circle cx="135.0" cy="506.8" r="1.2"/><circle cx="150.3" cy="509.0" r="1.2"/><circle cx="175.5" cy="510.0" r="1.2"/></g>
</g></g>
<g clip-path="url(#cp8)"><rect x="182.50" y="477.00" width="52.50" height="43.70" fill="#dcd4e4"/><g filter="url(#tb)">
<rect x="181.50" y="476.00" width="54.50" height="45.70" filter="url(#nf10)"/>
</g></g>
<g clip-path="url(#cp9)"><rect x="14.20" y="522.80" width="53.20" height="45.00" fill="#f9f8f9"/><g filter="url(#tb)">
<g filter="url(#bfx3)"><path d="M21,532 C22,527 30,524 37,524.5 C46,526 56,537 64,547.5 C66,551 65,555 63,557 C59,563 53,567 47.7,567 C40,567 33,567 29,565 C25,556 21,545 21,532Z" fill="#ecd8da"/></g>
<path d="M21,532 C22,527 30,524 37,524.5 C46,526 56,537 64,547.5 C66,551 65,555 63,557 C59,563 53,567 47.7,567 C40,567 33,567 29,565 C25,556 21,545 21,532Z" fill="none" stroke="#d4a888" stroke-width="1.0" opacity="0.8"/>
<g fill="#b8785a" opacity="0.75"><circle cx="27.5" cy="542.4" r="0.9089302024118657"/><circle cx="37.6" cy="532.4" r="1.196734117792826"/><circle cx="61.2" cy="552.7" r="0.904491473293709"/><circle cx="26.9" cy="550.5" r="1.2197025633376226"/><circle cx="39.4" cy="559.5" r="1.2043641186413745"/><circle cx="40.0" cy="543.6" r="1.0685347226004946"/><circle cx="58.3" cy="556.6" r="0.8152452894411494"/><circle cx="60.9" cy="544.2" r="1.18904472504943"/><circle cx="36.0" cy="553.6" r="0.8141862437530456"/><circle cx="38.2" cy="536.2" r="1.0523346404286402"/><circle cx="29.4" cy="538.3" r="1.0119559957623778"/><circle cx="55.1" cy="554.7" r="0.831528133729547"/><circle cx="31.1" cy="555.1" r="1.1150050501291957"/><circle cx="53.2" cy="559.7" r="1.1622656430658687"/><circle cx="27.2" cy="539.7" r="1.0924599502696792"/><circle cx="32.7" cy="557.5" r="1.0000696934398505"/><circle cx="35.8" cy="547.3" r="1.056043270060894"/><circle cx="50.2" cy="545.6" r="1.0943773061373385"/><circle cx="40.8" cy="551.4" r="0.9131406674784097"/><circle cx="56.9" cy="555.3" r="1.2338269490070106"/><circle cx="29.7" cy="556.1" r="1.2978465737950982"/><circle cx="48.4" cy="551.8" r="1.2020851305549918"/><circle cx="36.9" cy="551.8" r="1.2806702603829596"/><circle cx="51.9" cy="561.3" r="0.964712602860577"/><circle cx="44.9" cy="531.9" r="1.2931262442907485"/><circle cx="30.1" cy="540.3" r="0.8356909768349473"/><circle cx="54.9" cy="535.1" r="1.0389383970782287"/><circle cx="35.1" cy="550.4" r="0.8668716223214894"/><circle cx="52.4" cy="543.1" r="1.0269845529242714"/><circle cx="56.2" cy="546.2" r="1.141334133894698"/><circle cx="46.5" cy="544.8" r="1.1542058714392776"/><circle cx="50.0" cy="557.9" r="1.027326654608311"/><circle cx="30.6" cy="556.2" r="0.9708398931312743"/><circle cx="46.6" cy="556.1" r="0.8949568938906562"/><circle cx="42.8" cy="531.5" r="1.001438684633256"/><circle cx="39.6" cy="556.8" r="0.9412906600518383"/><circle cx="56.1" cy="548.5" r="0.8971039648221812"/><circle cx="31.4" cy="538.2" r="1.16799699402382"/><circle cx="57.7" cy="542.3" r="1.0581046187003336"/><circle cx="46.0" cy="529.3" r="1.0193069486969357"/><circle cx="39.2" cy="538.1" r="0.8988519630962526"/><circle cx="37.0" cy="533.5" r="1.1518684943879622"/><circle cx="38.8" cy="540.2" r="0.8983662596841028"/><circle cx="35.3" cy="530.3" r="0.932803504173359"/><circle cx="42.3" cy="540.4" r="1.0801336897743696"/><circle cx="35.3" cy="554.2" r="1.1506136642321603"/><circle cx="42.6" cy="556.9" r="1.2865071970829007"/><circle cx="44.2" cy="532.1" r="1.1738258473058971"/><circle cx="52.5" cy="551.1" r="1.2741525650878025"/><circle cx="42.1" cy="552.1" r="1.2599726451163766"/><circle cx="56.2" cy="545.5" r="1.1612665407847977"/><circle cx="30.9" cy="554.5" r="1.1597562425426249"/><circle cx="48.6" cy="540.8" r="0.831364714182566"/><circle cx="52.5" cy="542.3" r="0.9028205805194185"/><circle cx="52.9" cy="555.3" r="0.8065067739615694"/><circle cx="30.1" cy="554.9" r="1.2317811751424248"/><circle cx="40.8" cy="533.5" r="1.1609930602735563"/><circle cx="28.5" cy="537.5" r="1.1150943947499103"/><circle cx="48.3" cy="556.8" r="0.9318956634318589"/><circle cx="34.6" cy="552.6" r="0.9776906051768957"/><circle cx="34.5" cy="531.7" r="0.881823634227278"/><circle cx="39.1" cy="562.3" r="1.1161141176360787"/><circle cx="44.1" cy="554.4" r="1.2957341788506818"/><circle cx="54.6" cy="549.4" r="0.9528737735199192"/><circle cx="40.4" cy="539.4" r="0.8221207802719095"/><circle cx="56.4" cy="548.8" r="0.887586342138502"/><circle cx="26.0" cy="549.1" r="0.9776303068586396"/><circle cx="44.1" cy="547.3" r="1.2494921864173738"/><circle cx="41.2" cy="561.1" r="1.202242324177836"/><circle cx="34.6" cy="533.1" r="1.027528098123953"/><circle cx="31.0" cy="533.6" r="0.8510757205744748"/><circle cx="36.7" cy="555.9" r="0.8533499675174288"/><circle cx="47.5" cy="552.0" r="0.8769377736891686"/><circle cx="38.9" cy="545.8" r="1.1887352790097236"/><circle cx="29.4" cy="550.4" r="1.0356311249957246"/><circle cx="46.4" cy="562.0" r="1.295285492698628"/><circle cx="28.7" cy="542.8" r="1.255861156201504"/><circle cx="51.8" cy="551.8" r="1.1973749142830266"/><circle cx="45.2" cy="560.5" r="1.0381211776185877"/><circle cx="41.0" cy="560.0" r="1.2109555034945418"/><circle cx="27.4" cy="543.2" r="0.8641563640906242"/><circle cx="48.0" cy="553.8" r="0.8544328895520468"/><circle cx="44.6" cy="528.8" r="1.0817079955758082"/><circle cx="40.6" cy="557.4" r="1.0539682812575497"/><circle cx="41.7" cy="532.8" r="0.9046445569165651"/><circle cx="42.4" cy="528.4" r="0.9259702505779648"/><circle cx="56.1" cy="549.0" r="0.8106092279311864"/><circle cx="58.4" cy="538.7" r="1.254435449812879"/><circle cx="58.0" cy="548.9" r="1.1551074463066127"/><circle cx="36.1" cy="531.4" r="1.272656282838318"/><circle cx="30.1" cy="534.4" r="1.2902757947109211"/><circle cx="39.3" cy="555.8" r="1.018373700136002"/><circle cx="36.1" cy="529.4" r="1.166204894057405"/><circle cx="50.9" cy="544.5" r="0.9920758082008176"/><circle cx="36.6" cy="544.0" r="1.2059345718338073"/></g>
<g fill="#d8b0b0" opacity="1.0"><circle cx="65.2" cy="535.5" r="1.6"/></g>
</g></g>
<g clip-path="url(#cp10)"><rect x="70.70" y="522.80" width="53.00" height="45.00" fill="#f9f8f9"/><g filter="url(#tb)">
<rect x="75.2" y="522.8" width="2.0" height="45" fill="#e8e6ea"/>
<g filter="url(#bfx4)"><path d="M108.8,523.5 C112,523.5 116,528 116,532 C115,540 111,549 107.7,555.7 C104,561 100,567 96.5,567 C91,566 86,556 85.3,547.5 C85,541 88,537 91.4,534.2 C96,530 104,523.5 108.8,523.5Z" fill="#eedcdc"/></g>
<path d="M108.8,523.5 C112,523.5 116,528 116,532 C115,540 111,549 107.7,555.7 C104,561 100,567 96.5,567 C91,566 86,556 85.3,547.5 C85,541 88,537 91.4,534.2 C96,530 104,523.5 108.8,523.5Z" fill="none" stroke="#d0a07c" stroke-width="1.2" opacity="0.8"/>
<g fill="#b8785a" opacity="0.75"><circle cx="105.0" cy="541.2" r="1.2568910208300823"/><circle cx="106.5" cy="546.2" r="1.1448980405046414"/><circle cx="110.9" cy="531.0" r="1.2837170080523643"/><circle cx="95.4" cy="545.9" r="0.8448200279764606"/><circle cx="107.6" cy="547.9" r="0.9061859995799513"/><circle cx="109.7" cy="536.4" r="0.943694567512987"/><circle cx="88.0" cy="553.7" r="1.2532673615428225"/><circle cx="107.7" cy="530.3" r="0.8068159726049575"/><circle cx="110.6" cy="533.4" r="0.9300948501802541"/><circle cx="97.0" cy="539.2" r="1.157903864675501"/><circle cx="99.4" cy="549.2" r="1.2948512872594033"/><circle cx="105.7" cy="544.5" r="0.8881392680503495"/><circle cx="89.0" cy="546.0" r="1.0189960241849332"/><circle cx="94.3" cy="538.0" r="1.1434394641460228"/><circle cx="95.6" cy="548.2" r="1.1453188760134458"/><circle cx="110.2" cy="538.4" r="1.1730128082793436"/><circle cx="99.3" cy="551.7" r="1.176566355641621"/><circle cx="108.3" cy="532.5" r="0.924244866303117"/><circle cx="105.5" cy="551.8" r="0.9285645513258565"/><circle cx="93.0" cy="551.7" r="0.8138382691583144"/><circle cx="103.4" cy="551.9" r="1.1455736706638406"/><circle cx="104.7" cy="530.5" r="0.9046079011303836"/><circle cx="111.3" cy="536.7" r="0.9297599919821409"/><circle cx="113.4" cy="537.0" r="1.2821562791465222"/><circle cx="109.8" cy="531.9" r="1.1216467862594797"/><circle cx="105.5" cy="549.8" r="1.0955650878772936"/><circle cx="106.2" cy="547.8" r="1.1280579487584836"/><circle cx="100.9" cy="548.3" r="1.0989292259064762"/><circle cx="92.7" cy="540.3" r="1.1474582224753895"/><circle cx="99.8" cy="538.4" r="0.951950117490969"/><circle cx="107.0" cy="546.3" r="0.83197062659859"/><circle cx="91.5" cy="544.3" r="0.8334558134365025"/><circle cx="97.7" cy="538.4" r="0.8072686563188172"/><circle cx="105.0" cy="539.9" r="0.9807504708859454"/><circle cx="89.3" cy="546.5" r="0.87111605836935"/><circle cx="97.4" cy="535.3" r="0.85643132598119"/><circle cx="92.0" cy="549.9" r="1.0468465069249273"/><circle cx="92.9" cy="543.3" r="1.2847714659209344"/><circle cx="90.5" cy="545.6" r="1.1437693524278418"/><circle cx="102.2" cy="545.8" r="0.9367271390583751"/><circle cx="102.3" cy="540.6" r="1.1847174996511263"/><circle cx="99.6" cy="549.9" r="0.8889457721259305"/><circle cx="101.8" cy="554.6" r="0.8500444257815876"/><circle cx="108.2" cy="545.9" r="0.9515823915406374"/><circle cx="114.2" cy="538.4" r="1.0044715609281187"/><circle cx="109.5" cy="547.3" r="1.1447599231199113"/><circle cx="109.8" cy="538.7" r="1.02246395792553"/><circle cx="101.0" cy="537.0" r="1.1641564096438333"/><circle cx="107.0" cy="529.4" r="0.8474221328694658"/><circle cx="102.8" cy="533.6" r="1.266154629217953"/><circle cx="110.0" cy="528.1" r="0.9711730522017625"/><circle cx="88.2" cy="552.9" r="1.216143123828067"/><circle cx="111.6" cy="543.5" r="0.8153486296086865"/><circle cx="99.4" cy="555.7" r="1.2143810822982277"/><circle cx="110.1" cy="532.1" r="0.9131279248989199"/><circle cx="110.4" cy="541.9" r="1.2275063172313256"/><circle cx="106.0" cy="541.3" r="1.201435790027503"/><circle cx="94.8" cy="541.1" r="1.1353600104732235"/><circle cx="102.6" cy="546.9" r="0.9388245397243202"/><circle cx="110.2" cy="546.1" r="0.8049026788981735"/></g>
<ellipse cx="95" cy="561" rx="7" ry="5" fill="#d2cae2" opacity="0.9"/>
</g></g>
<g clip-path="url(#cp11)"><rect x="126.30" y="522.80" width="53.20" height="45.00" fill="#ecebef"/><g filter="url(#tb)">
<g filter="url(#bfx5)"><path d="M127,534 C128,528 132,524 137,524.5 C147,526 160,530 168,538 C175,545 178,553 178,560 C177,565 172,566 166,564 C156,562 146,557 138,550 C131,545 126,540 127,534Z" fill="#b5a9cf"/></g>
<path d="M147,544 C155,548 160,553 158,559" fill="none" stroke="#d8d0e6" stroke-width="1.5"/>
<g fill="#6a3a50" opacity="1.0"><circle cx="155.0" cy="558.0" r="0.7"/><circle cx="162.0" cy="560.0" r="0.7"/><circle cx="170.0" cy="562.0" r="0.7"/><circle cx="172.0" cy="555.0" r="0.6"/><circle cx="137.0" cy="547.0" r="0.6"/></g>
</g></g>
<g clip-path="url(#cp12)"><rect x="182.50" y="522.80" width="52.50" height="45.00" fill="#f6f6f8"/><g filter="url(#tb)">
<g filter="url(#bfx6)"><path d="M192,530 C196,525 204,523 212,524 C220,526 227,532 232,538 C235,543 235,550 232,556 C228,563 221,566 213,566 C203,566 194,562 190,554 C187,547 188,536 192,530Z" fill="#aca0cc"/></g>
<g fill="#5a2a40" opacity="1.0"><circle cx="198.0" cy="528.0" r="1.215"/><circle cx="203.0" cy="526.0" r="1.215"/><circle cx="210.0" cy="525.0" r="1.215"/><circle cx="217.0" cy="527.0" r="1.215"/><circle cx="223.0" cy="530.0" r="1.215"/><circle cx="228.0" cy="534.0" r="1.215"/><circle cx="231.0" cy="543.0" r="1.215"/><circle cx="193.0" cy="533.0" r="1.08"/><circle cx="190.0" cy="541.0" r="1.08"/><circle cx="202.0" cy="540.0" r="1.08"/><circle cx="208.0" cy="547.0" r="1.08"/><circle cx="214.0" cy="544.0" r="1.08"/><circle cx="221.0" cy="552.0" r="1.08"/><circle cx="226.0" cy="557.0" r="1.08"/><circle cx="197.0" cy="552.0" r="1.08"/><circle cx="230.0" cy="550.0" r="1.08"/><circle cx="218.0" cy="536.0" r="1.08"/></g>
</g></g>
<g clip-path="url(#cp13)"><rect x="14.20" y="572.00" width="53.20" height="43.10" fill="#c8c2d7"/><g filter="url(#tbs)">
<rect x="13.20" y="571.00" width="55.20" height="45.10" filter="url(#nf11)"/>
<rect x="13.20" y="571.00" width="55.20" height="45.10" filter="url(#nf12)"/>
<g fill="#fbfbfd" opacity="0.75"><circle cx="23.7" cy="611.8" r="0.86"/><circle cx="49.6" cy="597.5" r="1.21"/><circle cx="23.2" cy="577.5" r="0.82"/><circle cx="67.4" cy="588.3" r="1.21"/><circle cx="44.6" cy="581.1" r="0.80"/><circle cx="14.0" cy="609.4" r="0.84"/><circle cx="66.4" cy="587.4" r="1.26"/><circle cx="20.8" cy="606.5" r="0.93"/><circle cx="33.4" cy="594.6" r="0.83"/><circle cx="26.9" cy="606.9" r="0.95"/><circle cx="34.2" cy="605.5" r="0.91"/><circle cx="23.9" cy="580.9" r="1.02"/><circle cx="33.4" cy="599.9" r="1.08"/><circle cx="61.2" cy="573.3" r="1.21"/><circle cx="59.4" cy="581.6" r="0.77"/><circle cx="37.4" cy="576.2" r="1.07"/><circle cx="52.5" cy="575.2" r="0.83"/><circle cx="39.7" cy="578.8" r="0.91"/><circle cx="37.5" cy="576.3" r="0.80"/><circle cx="33.1" cy="592.2" r="1.41"/><circle cx="43.8" cy="574.2" r="0.91"/><circle cx="54.3" cy="596.4" r="1.36"/><circle cx="66.3" cy="609.7" r="0.83"/><circle cx="65.3" cy="594.7" r="0.92"/><circle cx="22.6" cy="610.0" r="0.90"/><circle cx="17.8" cy="583.0" r="1.40"/><circle cx="38.6" cy="604.0" r="0.80"/><circle cx="38.2" cy="585.3" r="0.89"/><circle cx="49.8" cy="587.3" r="0.83"/><circle cx="67.5" cy="592.7" r="0.88"/><circle cx="13.8" cy="600.4" r="1.11"/><circle cx="14.6" cy="592.2" r="1.27"/><circle cx="42.8" cy="581.6" r="1.10"/><circle cx="46.6" cy="600.4" r="0.85"/><circle cx="57.6" cy="613.6" r="1.27"/><circle cx="60.5" cy="587.6" r="1.38"/><circle cx="23.2" cy="581.2" r="1.17"/><circle cx="63.0" cy="574.7" r="0.90"/><circle cx="15.2" cy="590.8" r="0.85"/><circle cx="23.8" cy="604.8" r="1.16"/><circle cx="65.1" cy="589.1" r="1.23"/><circle cx="13.9" cy="613.8" r="0.91"/><circle cx="39.5" cy="594.1" r="1.41"/><circle cx="40.4" cy="615.7" r="1.18"/><circle cx="25.1" cy="608.6" r="0.89"/><circle cx="68.4" cy="591.6" r="0.91"/><circle cx="66.3" cy="585.5" r="1.03"/><circle cx="32.1" cy="601.2" r="0.77"/><circle cx="33.8" cy="578.3" r="1.33"/><circle cx="13.2" cy="598.4" r="0.93"/><circle cx="38.3" cy="596.3" r="1.25"/><circle cx="20.8" cy="581.8" r="0.83"/><circle cx="66.2" cy="577.7" r="0.85"/><circle cx="42.0" cy="597.2" r="1.37"/><circle cx="16.3" cy="581.6" r="0.87"/><circle cx="45.5" cy="591.4" r="1.04"/><circle cx="62.2" cy="600.8" r="1.35"/><circle cx="66.0" cy="583.1" r="1.41"/><circle cx="35.7" cy="573.3" r="1.39"/><circle cx="18.9" cy="571.8" r="0.95"/><circle cx="29.2" cy="614.6" r="1.36"/><circle cx="36.4" cy="594.9" r="1.34"/><circle cx="57.7" cy="600.5" r="1.11"/><circle cx="19.6" cy="582.0" r="1.21"/><circle cx="45.6" cy="607.1" r="1.38"/><circle cx="66.3" cy="579.7" r="0.80"/><circle cx="62.7" cy="596.7" r="0.88"/><circle cx="51.4" cy="582.5" r="0.92"/><circle cx="33.4" cy="594.6" r="1.22"/><circle cx="17.3" cy="604.4" r="1.19"/><circle cx="39.2" cy="601.3" r="1.31"/><circle cx="13.7" cy="592.4" r="1.22"/><circle cx="52.3" cy="600.2" r="0.88"/><circle cx="66.1" cy="606.4" r="0.91"/><circle cx="37.0" cy="614.2" r="0.90"/><circle cx="35.8" cy="614.4" r="1.38"/><circle cx="26.0" cy="604.2" r="1.00"/><circle cx="49.8" cy="605.6" r="0.84"/><circle cx="25.5" cy="580.7" r="0.94"/><circle cx="15.2" cy="577.1" r="1.03"/><circle cx="36.4" cy="574.5" r="1.16"/><circle cx="65.2" cy="597.0" r="1.00"/><circle cx="52.1" cy="590.7" r="0.87"/><circle cx="39.8" cy="571.8" r="1.22"/><circle cx="22.1" cy="587.7" r="1.42"/><circle cx="55.5" cy="608.7" r="1.20"/><circle cx="48.2" cy="602.8" r="1.43"/><circle cx="24.0" cy="605.6" r="0.96"/><circle cx="27.3" cy="608.1" r="1.17"/><circle cx="60.1" cy="610.5" r="1.16"/><circle cx="24.1" cy="571.7" r="1.12"/><circle cx="53.3" cy="583.3" r="0.80"/><circle cx="13.5" cy="578.8" r="1.24"/><circle cx="13.4" cy="581.4" r="0.94"/><circle cx="52.5" cy="615.5" r="0.76"/><circle cx="19.5" cy="613.2" r="1.43"/><circle cx="21.4" cy="586.1" r="1.12"/><circle cx="30.9" cy="589.8" r="1.09"/><circle cx="27.5" cy="573.5" r="0.81"/><circle cx="22.2" cy="575.1" r="1.19"/><circle cx="51.7" cy="582.9" r="1.30"/><circle cx="53.4" cy="586.4" r="1.09"/><circle cx="23.6" cy="612.9" r="1.14"/><circle cx="16.0" cy="577.9" r="1.23"/><circle cx="34.5" cy="603.3" r="0.91"/><circle cx="57.2" cy="607.2" r="0.82"/><circle cx="45.6" cy="579.6" r="1.25"/><circle cx="57.6" cy="606.7" r="0.91"/><circle cx="18.4" cy="600.9" r="1.15"/><circle cx="20.8" cy="579.7" r="1.16"/><circle cx="19.2" cy="599.6" r="0.92"/><circle cx="27.5" cy="590.1" r="1.12"/><circle cx="53.2" cy="572.4" r="1.26"/><circle cx="25.4" cy="584.1" r="1.20"/><circle cx="51.4" cy="598.7" r="1.38"/><circle cx="24.5" cy="585.0" r="1.21"/><circle cx="27.6" cy="578.1" r="0.91"/><circle cx="55.8" cy="608.3" r="1.25"/><circle cx="66.1" cy="606.8" r="0.97"/><circle cx="30.6" cy="603.5" r="0.79"/><circle cx="46.8" cy="575.0" r="0.78"/><circle cx="41.6" cy="577.8" r="1.40"/><circle cx="61.6" cy="591.8" r="0.89"/><circle cx="19.8" cy="593.9" r="1.11"/><circle cx="33.2" cy="603.3" r="1.12"/><circle cx="56.0" cy="575.8" r="0.80"/><circle cx="34.6" cy="592.8" r="0.93"/><circle cx="50.1" cy="581.0" r="0.97"/><circle cx="39.5" cy="603.1" r="1.29"/><circle cx="33.7" cy="591.2" r="1.40"/><circle cx="64.8" cy="598.9" r="0.82"/><circle cx="38.4" cy="599.7" r="0.95"/><circle cx="15.3" cy="615.3" r="1.39"/><circle cx="20.3" cy="592.0" r="1.18"/><circle cx="29.8" cy="574.1" r="1.28"/><circle cx="55.7" cy="590.7" r="0.81"/><circle cx="34.9" cy="575.2" r="1.42"/><circle cx="16.0" cy="584.0" r="1.29"/><circle cx="20.7" cy="575.8" r="0.80"/><circle cx="22.3" cy="595.0" r="1.33"/><circle cx="22.5" cy="578.8" r="1.29"/><circle cx="36.7" cy="586.2" r="0.84"/><circle cx="26.6" cy="614.8" r="0.83"/><circle cx="27.5" cy="604.4" r="1.37"/><circle cx="63.1" cy="592.3" r="1.42"/><circle cx="46.5" cy="584.0" r="1.08"/><circle cx="52.7" cy="604.1" r="0.84"/><circle cx="23.9" cy="614.2" r="0.82"/><circle cx="58.1" cy="586.3" r="0.92"/><circle cx="27.3" cy="592.2" r="1.44"/><circle cx="21.4" cy="609.5" r="0.97"/><circle cx="22.7" cy="604.6" r="0.99"/><circle cx="23.6" cy="589.9" r="1.33"/><circle cx="60.8" cy="596.9" r="0.76"/><circle cx="55.3" cy="598.4" r="1.38"/><circle cx="65.8" cy="585.8" r="1.34"/><circle cx="58.4" cy="583.0" r="1.01"/><circle cx="33.9" cy="586.9" r="1.01"/><circle cx="19.3" cy="581.2" r="1.39"/><circle cx="35.9" cy="599.7" r="1.37"/><circle cx="54.9" cy="582.0" r="1.39"/><circle cx="57.6" cy="615.7" r="1.26"/><circle cx="54.9" cy="607.7" r="0.93"/><circle cx="49.4" cy="588.2" r="1.34"/><circle cx="20.6" cy="595.3" r="0.99"/><circle cx="58.5" cy="586.6" r="1.34"/><circle cx="60.0" cy="610.6" r="0.85"/><circle cx="65.0" cy="604.6" r="1.22"/><circle cx="49.2" cy="573.2" r="1.36"/><circle cx="43.4" cy="591.6" r="0.99"/><circle cx="56.4" cy="606.3" r="1.36"/><circle cx="25.0" cy="586.4" r="0.92"/><circle cx="18.7" cy="585.8" r="0.77"/><circle cx="57.2" cy="581.2" r="0.80"/><circle cx="16.9" cy="604.4" r="0.89"/><circle cx="38.7" cy="589.1" r="1.31"/><circle cx="65.9" cy="585.0" r="1.19"/><circle cx="62.6" cy="592.2" r="1.38"/><circle cx="53.7" cy="585.0" r="1.36"/><circle cx="44.8" cy="575.8" r="1.16"/><circle cx="59.0" cy="594.4" r="1.09"/><circle cx="36.2" cy="610.7" r="1.22"/><circle cx="24.7" cy="587.3" r="1.00"/><circle cx="66.1" cy="602.4" r="0.84"/><circle cx="63.7" cy="572.6" r="1.16"/><circle cx="37.1" cy="603.4" r="1.05"/><circle cx="18.3" cy="594.6" r="1.32"/><circle cx="56.7" cy="587.1" r="0.91"/><circle cx="54.3" cy="607.2" r="0.90"/><circle cx="61.9" cy="615.8" r="1.05"/><circle cx="34.2" cy="603.0" r="1.40"/><circle cx="24.3" cy="584.6" r="0.98"/><circle cx="53.6" cy="579.4" r="1.13"/><circle cx="40.8" cy="601.1" r="0.85"/><circle cx="66.0" cy="616.1" r="1.14"/><circle cx="57.1" cy="579.3" r="1.39"/><circle cx="43.6" cy="605.3" r="1.36"/><circle cx="33.2" cy="612.7" r="0.90"/><circle cx="14.5" cy="593.7" r="1.38"/><circle cx="62.9" cy="614.1" r="1.11"/><circle cx="64.7" cy="596.3" r="0.85"/><circle cx="48.0" cy="607.2" r="1.05"/><circle cx="46.4" cy="582.7" r="0.94"/><circle cx="36.4" cy="594.1" r="1.08"/><circle cx="18.3" cy="571.3" r="0.99"/><circle cx="52.8" cy="604.8" r="0.92"/><circle cx="27.3" cy="594.3" r="0.87"/><circle cx="46.5" cy="611.8" r="0.89"/><circle cx="45.5" cy="603.5" r="1.27"/><circle cx="52.5" cy="603.0" r="0.94"/><circle cx="59.5" cy="612.7" r="0.79"/><circle cx="65.3" cy="591.0" r="0.81"/><circle cx="17.0" cy="606.9" r="1.22"/><circle cx="21.0" cy="591.7" r="1.20"/><circle cx="68.3" cy="586.2" r="1.29"/><circle cx="26.7" cy="580.0" r="0.86"/><circle cx="35.8" cy="598.9" r="0.96"/><circle cx="22.1" cy="580.9" r="0.81"/><circle cx="23.9" cy="585.2" r="1.10"/><circle cx="23.3" cy="592.6" r="1.06"/><circle cx="66.9" cy="592.9" r="1.41"/><circle cx="39.2" cy="579.9" r="1.16"/><circle cx="21.2" cy="578.6" r="0.80"/><circle cx="51.9" cy="614.6" r="1.03"/><circle cx="32.7" cy="590.2" r="1.00"/><circle cx="51.3" cy="588.7" r="0.86"/><circle cx="60.9" cy="596.8" r="0.75"/><circle cx="60.1" cy="603.9" r="1.00"/><circle cx="48.0" cy="612.5" r="1.03"/><circle cx="37.1" cy="584.4" r="1.14"/><circle cx="49.8" cy="604.2" r="1.41"/><circle cx="21.2" cy="587.5" r="1.35"/><circle cx="56.9" cy="597.6" r="1.22"/><circle cx="32.0" cy="613.6" r="1.13"/><circle cx="35.4" cy="579.2" r="0.83"/><circle cx="62.7" cy="607.1" r="0.77"/><circle cx="31.0" cy="592.6" r="1.10"/><circle cx="33.3" cy="611.4" r="0.99"/><circle cx="42.6" cy="612.9" r="1.20"/><circle cx="39.5" cy="586.0" r="1.02"/><circle cx="46.8" cy="606.4" r="0.93"/><circle cx="33.7" cy="588.5" r="1.00"/><circle cx="63.6" cy="595.3" r="0.94"/><circle cx="31.5" cy="608.0" r="0.86"/><circle cx="51.3" cy="572.0" r="0.89"/><circle cx="16.5" cy="607.3" r="0.85"/><circle cx="25.8" cy="573.6" r="0.93"/><circle cx="53.7" cy="603.5" r="1.39"/><circle cx="65.5" cy="595.8" r="1.40"/><circle cx="18.1" cy="612.7" r="1.05"/><circle cx="23.8" cy="604.7" r="1.35"/><circle cx="34.5" cy="575.2" r="1.36"/><circle cx="54.8" cy="597.9" r="1.43"/><circle cx="15.3" cy="573.5" r="0.84"/><circle cx="14.4" cy="602.9" r="1.19"/><circle cx="19.4" cy="578.3" r="0.88"/><circle cx="46.8" cy="601.3" r="1.43"/><circle cx="33.1" cy="615.2" r="1.05"/><circle cx="34.8" cy="582.4" r="0.91"/><circle cx="67.0" cy="615.9" r="1.24"/><circle cx="22.9" cy="579.1" r="0.86"/><circle cx="32.6" cy="604.2" r="0.79"/><circle cx="42.5" cy="601.7" r="0.77"/><circle cx="37.5" cy="606.7" r="1.15"/><circle cx="38.1" cy="610.8" r="1.17"/><circle cx="31.8" cy="588.9" r="1.41"/><circle cx="60.6" cy="612.3" r="1.14"/><circle cx="21.1" cy="578.9" r="1.02"/><circle cx="51.3" cy="571.2" r="1.31"/><circle cx="56.6" cy="594.2" r="0.75"/><circle cx="57.3" cy="589.7" r="1.22"/><circle cx="44.7" cy="603.9" r="1.04"/><circle cx="66.2" cy="614.1" r="1.40"/><circle cx="47.2" cy="585.3" r="1.01"/><circle cx="28.0" cy="611.8" r="1.30"/><circle cx="56.7" cy="608.0" r="1.44"/><circle cx="51.2" cy="585.4" r="1.28"/><circle cx="27.7" cy="598.6" r="0.86"/><circle cx="60.5" cy="593.0" r="0.94"/><circle cx="64.1" cy="574.7" r="1.40"/><circle cx="55.0" cy="577.7" r="1.28"/><circle cx="44.8" cy="611.9" r="1.16"/><circle cx="36.8" cy="613.1" r="0.81"/><circle cx="56.1" cy="575.6" r="0.94"/><circle cx="19.5" cy="610.3" r="1.06"/><circle cx="53.3" cy="582.6" r="1.26"/><circle cx="49.0" cy="575.4" r="1.10"/><circle cx="53.0" cy="580.7" r="1.21"/><circle cx="28.5" cy="587.7" r="1.39"/><circle cx="65.3" cy="616.0" r="1.05"/><circle cx="44.8" cy="607.5" r="1.28"/><circle cx="38.4" cy="609.9" r="1.03"/><circle cx="65.6" cy="592.3" r="0.83"/><circle cx="54.6" cy="577.5" r="1.23"/><circle cx="16.2" cy="615.6" r="1.13"/><circle cx="54.1" cy="576.9" r="1.20"/><circle cx="34.0" cy="582.2" r="1.32"/><circle cx="15.0" cy="592.6" r="0.81"/><circle cx="60.2" cy="611.3" r="0.77"/><circle cx="38.8" cy="592.2" r="1.25"/></g>
</g></g>
<g clip-path="url(#cp14)"><rect x="70.70" y="572.00" width="53.00" height="43.10" fill="#c5bfd6"/><g filter="url(#tbs)">
<rect x="69.70" y="571.00" width="55.00" height="45.10" filter="url(#nf13)"/>
<rect x="69.70" y="571.00" width="55.00" height="45.10" filter="url(#nf14)"/>
<g fill="#fbfbfd" opacity="0.75"><circle cx="109.8" cy="586.5" r="1.40"/><circle cx="79.9" cy="577.2" r="1.32"/><circle cx="76.3" cy="579.4" r="1.10"/><circle cx="88.2" cy="578.4" r="1.40"/><circle cx="95.8" cy="606.4" r="0.93"/><circle cx="119.9" cy="581.0" r="1.38"/><circle cx="103.4" cy="614.8" r="1.29"/><circle cx="104.4" cy="595.0" r="1.35"/><circle cx="94.1" cy="575.4" r="1.39"/><circle cx="114.0" cy="601.8" r="1.27"/><circle cx="82.5" cy="591.9" r="1.33"/><circle cx="122.6" cy="612.6" r="0.86"/><circle cx="107.3" cy="596.0" r="1.03"/><circle cx="78.9" cy="577.2" r="1.08"/><circle cx="96.8" cy="583.1" r="1.01"/><circle cx="100.2" cy="605.4" r="1.16"/><circle cx="78.6" cy="611.0" r="1.01"/><circle cx="122.5" cy="615.3" r="0.85"/><circle cx="101.7" cy="614.6" r="1.02"/><circle cx="99.8" cy="585.2" r="0.77"/><circle cx="81.0" cy="576.6" r="0.95"/><circle cx="104.3" cy="596.4" r="1.41"/><circle cx="107.4" cy="587.3" r="1.41"/><circle cx="104.6" cy="595.5" r="1.35"/><circle cx="106.5" cy="587.3" r="1.17"/><circle cx="86.2" cy="614.7" r="0.92"/><circle cx="123.2" cy="573.9" r="0.76"/><circle cx="100.1" cy="580.3" r="1.11"/><circle cx="76.2" cy="608.7" r="1.22"/><circle cx="107.3" cy="612.8" r="1.44"/><circle cx="107.0" cy="603.2" r="0.75"/><circle cx="72.4" cy="590.2" r="1.43"/><circle cx="86.9" cy="596.6" r="0.76"/><circle cx="92.6" cy="611.7" r="1.16"/><circle cx="115.0" cy="571.6" r="0.89"/><circle cx="79.6" cy="608.5" r="0.82"/><circle cx="121.0" cy="583.1" r="1.37"/><circle cx="98.1" cy="585.6" r="1.43"/><circle cx="92.0" cy="602.5" r="0.80"/><circle cx="115.4" cy="615.3" r="0.83"/><circle cx="110.7" cy="583.2" r="0.85"/><circle cx="89.7" cy="600.8" r="1.42"/><circle cx="124.4" cy="615.8" r="1.19"/><circle cx="105.6" cy="578.3" r="1.26"/><circle cx="100.0" cy="587.2" r="1.38"/><circle cx="83.7" cy="577.4" r="0.86"/><circle cx="77.9" cy="597.5" r="1.31"/><circle cx="78.5" cy="593.7" r="1.15"/><circle cx="100.5" cy="589.6" r="1.13"/><circle cx="70.5" cy="573.6" r="1.05"/><circle cx="82.7" cy="605.1" r="0.92"/><circle cx="115.0" cy="581.9" r="0.81"/><circle cx="96.0" cy="588.5" r="0.98"/><circle cx="111.8" cy="581.0" r="1.22"/><circle cx="115.6" cy="591.4" r="1.10"/><circle cx="120.5" cy="598.2" r="0.88"/><circle cx="73.5" cy="574.7" r="0.98"/><circle cx="74.6" cy="600.3" r="1.05"/><circle cx="86.7" cy="594.1" r="1.41"/><circle cx="83.1" cy="578.0" r="0.96"/><circle cx="87.5" cy="612.0" r="1.24"/><circle cx="93.3" cy="578.5" r="0.78"/><circle cx="76.4" cy="609.2" r="1.20"/><circle cx="78.3" cy="599.2" r="0.79"/><circle cx="97.6" cy="586.1" r="0.82"/><circle cx="110.5" cy="603.3" r="1.11"/><circle cx="78.9" cy="601.2" r="1.05"/><circle cx="106.1" cy="575.1" r="1.38"/><circle cx="69.9" cy="581.0" r="1.03"/><circle cx="80.6" cy="575.0" r="1.23"/><circle cx="124.4" cy="586.1" r="0.94"/><circle cx="106.6" cy="581.0" r="1.03"/><circle cx="107.6" cy="590.4" r="0.86"/><circle cx="73.6" cy="595.5" r="1.44"/><circle cx="120.3" cy="575.5" r="1.10"/><circle cx="96.6" cy="579.8" r="1.22"/><circle cx="97.0" cy="607.5" r="0.95"/><circle cx="121.1" cy="607.7" r="1.08"/><circle cx="77.5" cy="592.8" r="0.84"/><circle cx="107.4" cy="602.5" r="1.15"/><circle cx="123.4" cy="573.0" r="1.25"/><circle cx="113.7" cy="576.1" r="0.98"/><circle cx="72.7" cy="597.3" r="1.26"/><circle cx="88.8" cy="602.4" r="1.01"/><circle cx="108.9" cy="583.5" r="1.43"/><circle cx="93.8" cy="571.2" r="0.81"/><circle cx="109.6" cy="610.0" r="1.20"/><circle cx="78.2" cy="610.3" r="1.25"/><circle cx="76.0" cy="588.2" r="1.22"/><circle cx="69.9" cy="572.9" r="1.00"/><circle cx="117.8" cy="615.9" r="0.97"/><circle cx="119.7" cy="606.5" r="1.36"/><circle cx="102.1" cy="614.7" r="1.20"/><circle cx="121.8" cy="596.5" r="0.89"/><circle cx="98.2" cy="592.8" r="0.99"/><circle cx="90.3" cy="594.0" r="1.16"/><circle cx="81.9" cy="583.5" r="1.10"/><circle cx="97.4" cy="589.9" r="1.21"/><circle cx="79.9" cy="595.0" r="0.94"/><circle cx="112.1" cy="602.7" r="1.30"/><circle cx="98.2" cy="582.2" r="1.40"/><circle cx="97.8" cy="587.9" r="0.95"/><circle cx="91.8" cy="603.0" r="1.32"/><circle cx="96.2" cy="604.0" r="0.90"/><circle cx="94.6" cy="587.1" r="0.96"/><circle cx="89.5" cy="605.0" r="1.26"/><circle cx="81.1" cy="581.5" r="1.30"/><circle cx="105.7" cy="601.5" r="1.19"/><circle cx="107.8" cy="583.3" r="0.79"/><circle cx="89.5" cy="572.5" r="1.42"/><circle cx="98.6" cy="601.2" r="1.43"/><circle cx="113.9" cy="581.3" r="0.99"/><circle cx="75.7" cy="606.9" r="1.27"/><circle cx="96.5" cy="587.7" r="0.94"/><circle cx="96.5" cy="603.1" r="1.38"/><circle cx="116.4" cy="610.1" r="1.06"/><circle cx="92.9" cy="585.2" r="1.43"/><circle cx="79.8" cy="578.1" r="0.95"/><circle cx="120.4" cy="609.5" r="0.98"/><circle cx="116.5" cy="611.2" r="1.05"/><circle cx="80.3" cy="605.9" r="1.01"/><circle cx="76.3" cy="611.7" r="1.06"/><circle cx="91.6" cy="597.8" r="0.93"/><circle cx="70.8" cy="588.6" r="1.02"/><circle cx="70.3" cy="587.8" r="1.28"/><circle cx="88.0" cy="601.6" r="1.19"/><circle cx="80.1" cy="571.9" r="1.22"/><circle cx="103.3" cy="584.3" r="0.89"/><circle cx="116.7" cy="612.0" r="0.91"/><circle cx="101.9" cy="596.9" r="0.98"/><circle cx="71.7" cy="585.7" r="1.20"/><circle cx="102.8" cy="594.0" r="0.84"/><circle cx="81.4" cy="585.0" r="1.04"/><circle cx="89.7" cy="611.7" r="0.83"/><circle cx="124.0" cy="581.8" r="1.35"/><circle cx="83.1" cy="597.5" r="1.01"/><circle cx="71.8" cy="606.9" r="1.32"/><circle cx="84.5" cy="606.0" r="1.09"/><circle cx="124.0" cy="573.5" r="1.02"/><circle cx="82.2" cy="599.2" r="1.29"/><circle cx="116.0" cy="595.7" r="1.02"/><circle cx="113.7" cy="575.7" r="0.93"/><circle cx="111.1" cy="590.9" r="1.45"/><circle cx="74.7" cy="591.8" r="0.90"/><circle cx="69.8" cy="575.2" r="0.81"/><circle cx="90.0" cy="590.5" r="1.11"/><circle cx="85.6" cy="602.7" r="1.11"/><circle cx="123.7" cy="578.6" r="1.11"/><circle cx="96.9" cy="587.8" r="1.35"/><circle cx="81.2" cy="610.6" r="1.00"/><circle cx="88.2" cy="598.7" r="1.14"/><circle cx="85.3" cy="574.8" r="1.42"/><circle cx="90.0" cy="576.2" r="1.21"/><circle cx="99.0" cy="585.8" r="0.98"/><circle cx="116.2" cy="586.3" r="1.04"/><circle cx="122.3" cy="587.3" r="1.03"/><circle cx="78.6" cy="600.9" r="1.22"/><circle cx="94.2" cy="589.3" r="0.91"/><circle cx="113.1" cy="591.6" r="1.33"/><circle cx="90.3" cy="604.1" r="0.77"/><circle cx="81.8" cy="614.3" r="1.23"/><circle cx="106.9" cy="593.4" r="1.08"/><circle cx="80.6" cy="578.8" r="1.20"/><circle cx="107.9" cy="582.7" r="1.20"/><circle cx="77.2" cy="598.6" r="0.87"/><circle cx="97.7" cy="585.2" r="1.14"/><circle cx="77.1" cy="592.8" r="1.18"/><circle cx="77.1" cy="584.9" r="1.23"/><circle cx="99.7" cy="598.8" r="1.30"/><circle cx="101.1" cy="581.0" r="1.06"/><circle cx="115.4" cy="596.6" r="1.28"/><circle cx="89.7" cy="591.2" r="1.43"/><circle cx="114.9" cy="600.4" r="0.82"/><circle cx="103.4" cy="572.5" r="1.40"/><circle cx="123.2" cy="603.8" r="0.94"/><circle cx="116.2" cy="579.0" r="1.33"/><circle cx="98.3" cy="571.7" r="1.37"/><circle cx="93.9" cy="608.4" r="1.23"/><circle cx="99.0" cy="609.9" r="0.89"/><circle cx="119.1" cy="586.3" r="0.77"/><circle cx="88.2" cy="574.0" r="0.80"/><circle cx="104.0" cy="576.4" r="0.86"/><circle cx="85.8" cy="583.6" r="1.39"/><circle cx="119.5" cy="610.2" r="1.44"/><circle cx="93.9" cy="606.9" r="0.95"/><circle cx="120.7" cy="607.6" r="1.26"/><circle cx="82.2" cy="575.1" r="1.40"/><circle cx="100.1" cy="598.6" r="1.35"/><circle cx="77.6" cy="602.5" r="1.07"/><circle cx="112.9" cy="591.6" r="0.89"/><circle cx="122.3" cy="583.7" r="1.27"/><circle cx="115.4" cy="582.2" r="1.24"/><circle cx="91.5" cy="581.1" r="0.90"/><circle cx="122.2" cy="587.6" r="1.11"/><circle cx="97.3" cy="572.2" r="1.28"/><circle cx="110.7" cy="610.5" r="1.00"/><circle cx="81.2" cy="586.7" r="1.26"/><circle cx="105.9" cy="589.3" r="1.12"/><circle cx="78.2" cy="612.4" r="1.08"/><circle cx="97.6" cy="606.5" r="0.89"/><circle cx="109.4" cy="586.9" r="1.32"/><circle cx="74.9" cy="583.4" r="1.19"/><circle cx="96.2" cy="588.0" r="1.16"/><circle cx="81.7" cy="590.7" r="0.75"/><circle cx="113.6" cy="582.5" r="1.33"/><circle cx="100.1" cy="598.1" r="1.19"/><circle cx="76.6" cy="606.1" r="0.95"/><circle cx="117.2" cy="606.5" r="1.22"/><circle cx="114.5" cy="590.7" r="1.22"/><circle cx="122.1" cy="579.5" r="0.82"/><circle cx="92.4" cy="594.0" r="0.85"/><circle cx="81.9" cy="610.1" r="1.02"/><circle cx="77.9" cy="579.3" r="1.15"/><circle cx="80.1" cy="592.4" r="1.13"/><circle cx="93.9" cy="593.7" r="1.34"/><circle cx="70.6" cy="612.9" r="0.89"/><circle cx="71.8" cy="605.6" r="1.15"/><circle cx="99.3" cy="580.8" r="1.30"/><circle cx="86.6" cy="603.8" r="0.91"/><circle cx="101.2" cy="600.2" r="1.01"/><circle cx="96.1" cy="573.9" r="1.20"/><circle cx="107.7" cy="577.9" r="1.14"/><circle cx="110.0" cy="575.6" r="1.34"/><circle cx="117.6" cy="573.3" r="0.92"/><circle cx="74.3" cy="582.4" r="0.81"/><circle cx="96.6" cy="582.3" r="0.96"/><circle cx="95.1" cy="587.8" r="1.30"/><circle cx="109.4" cy="576.1" r="0.91"/><circle cx="70.2" cy="585.9" r="0.83"/><circle cx="108.0" cy="606.2" r="1.45"/><circle cx="81.2" cy="572.7" r="1.28"/><circle cx="92.3" cy="613.0" r="1.02"/><circle cx="86.9" cy="574.3" r="1.41"/><circle cx="97.9" cy="590.9" r="1.06"/><circle cx="112.0" cy="608.5" r="1.08"/><circle cx="79.5" cy="589.3" r="1.37"/><circle cx="92.1" cy="600.8" r="1.14"/><circle cx="95.1" cy="596.9" r="0.92"/><circle cx="100.4" cy="610.0" r="0.81"/><circle cx="90.0" cy="610.7" r="1.43"/><circle cx="70.4" cy="599.3" r="1.19"/><circle cx="116.1" cy="592.2" r="0.84"/><circle cx="86.2" cy="603.1" r="1.26"/><circle cx="81.0" cy="600.0" r="1.21"/><circle cx="105.9" cy="572.0" r="1.06"/><circle cx="87.6" cy="597.9" r="0.99"/><circle cx="76.7" cy="601.2" r="0.95"/><circle cx="113.2" cy="584.8" r="1.13"/><circle cx="114.1" cy="576.2" r="1.26"/><circle cx="73.4" cy="613.2" r="0.77"/><circle cx="109.5" cy="587.6" r="0.88"/><circle cx="91.4" cy="593.6" r="1.04"/><circle cx="76.4" cy="594.6" r="0.96"/><circle cx="122.9" cy="588.3" r="1.05"/><circle cx="82.2" cy="614.7" r="0.98"/><circle cx="105.2" cy="608.5" r="1.03"/><circle cx="111.2" cy="583.6" r="0.83"/><circle cx="72.0" cy="591.2" r="1.36"/><circle cx="80.9" cy="590.9" r="1.28"/><circle cx="84.9" cy="577.9" r="1.11"/><circle cx="93.1" cy="613.3" r="1.38"/><circle cx="82.8" cy="596.3" r="1.04"/><circle cx="71.6" cy="591.0" r="1.39"/><circle cx="86.4" cy="597.4" r="1.25"/><circle cx="73.2" cy="612.7" r="0.83"/><circle cx="86.3" cy="603.3" r="0.76"/><circle cx="90.4" cy="576.7" r="1.08"/><circle cx="70.6" cy="577.8" r="0.91"/><circle cx="74.2" cy="575.1" r="0.89"/><circle cx="98.2" cy="577.2" r="1.32"/><circle cx="92.6" cy="582.4" r="0.92"/><circle cx="115.9" cy="573.1" r="1.27"/><circle cx="75.1" cy="613.6" r="1.04"/><circle cx="102.6" cy="609.9" r="0.82"/><circle cx="73.2" cy="602.3" r="1.16"/><circle cx="109.4" cy="583.5" r="1.10"/><circle cx="80.0" cy="590.7" r="0.95"/><circle cx="101.9" cy="584.5" r="0.94"/><circle cx="105.0" cy="574.9" r="1.31"/><circle cx="97.0" cy="581.3" r="0.83"/><circle cx="97.7" cy="593.7" r="1.25"/><circle cx="90.3" cy="589.6" r="1.37"/><circle cx="84.8" cy="615.2" r="1.37"/><circle cx="124.2" cy="613.5" r="0.93"/><circle cx="114.5" cy="598.6" r="0.89"/><circle cx="124.6" cy="600.2" r="1.32"/><circle cx="100.4" cy="574.6" r="1.35"/><circle cx="79.4" cy="582.7" r="1.18"/><circle cx="80.4" cy="591.9" r="1.25"/><circle cx="75.0" cy="600.8" r="0.82"/><circle cx="95.9" cy="600.3" r="1.23"/><circle cx="72.1" cy="579.6" r="1.42"/><circle cx="91.2" cy="590.2" r="1.01"/><circle cx="108.0" cy="604.4" r="1.21"/><circle cx="91.8" cy="596.7" r="1.11"/><circle cx="80.0" cy="613.8" r="1.43"/><circle cx="112.5" cy="615.8" r="1.08"/><circle cx="115.9" cy="581.9" r="1.27"/><circle cx="109.0" cy="613.3" r="1.33"/><circle cx="118.1" cy="583.1" r="1.30"/><circle cx="95.8" cy="585.1" r="1.01"/><circle cx="113.6" cy="609.0" r="1.34"/><circle cx="106.5" cy="578.7" r="0.86"/><circle cx="100.9" cy="580.6" r="0.99"/><circle cx="75.3" cy="578.0" r="1.25"/><circle cx="82.0" cy="609.2" r="0.98"/><circle cx="116.4" cy="584.6" r="0.94"/><circle cx="91.4" cy="571.5" r="1.05"/><circle cx="90.6" cy="571.6" r="1.35"/><circle cx="90.3" cy="571.0" r="1.42"/><circle cx="82.3" cy="582.4" r="0.77"/><circle cx="75.2" cy="603.0" r="1.16"/><circle cx="97.4" cy="582.1" r="0.95"/><circle cx="123.1" cy="587.8" r="1.44"/><circle cx="118.5" cy="576.6" r="1.34"/><circle cx="70.9" cy="603.1" r="1.32"/><circle cx="108.0" cy="595.8" r="1.32"/><circle cx="78.2" cy="595.3" r="0.94"/><circle cx="91.7" cy="579.6" r="1.25"/><circle cx="101.2" cy="606.1" r="1.19"/><circle cx="102.7" cy="612.6" r="1.32"/><circle cx="100.9" cy="585.7" r="1.40"/><circle cx="90.1" cy="575.6" r="0.98"/><circle cx="108.6" cy="613.0" r="1.20"/><circle cx="106.1" cy="613.3" r="1.29"/><circle cx="94.2" cy="591.8" r="1.28"/><circle cx="87.2" cy="576.0" r="1.18"/><circle cx="114.2" cy="582.2" r="1.23"/><circle cx="118.8" cy="576.8" r="0.85"/><circle cx="96.8" cy="586.1" r="1.41"/><circle cx="124.5" cy="591.1" r="1.31"/><circle cx="104.4" cy="578.8" r="1.43"/><circle cx="79.3" cy="574.4" r="1.07"/><circle cx="70.7" cy="592.7" r="1.04"/><circle cx="122.2" cy="589.7" r="1.34"/><circle cx="112.6" cy="597.4" r="0.92"/><circle cx="86.5" cy="593.2" r="1.03"/><circle cx="105.2" cy="593.8" r="0.98"/><circle cx="103.1" cy="615.9" r="0.89"/><circle cx="88.2" cy="571.5" r="0.82"/><circle cx="72.8" cy="590.1" r="1.34"/><circle cx="108.1" cy="614.6" r="1.34"/><circle cx="101.9" cy="597.2" r="0.76"/><circle cx="90.8" cy="582.8" r="1.18"/><circle cx="73.3" cy="595.5" r="1.01"/><circle cx="96.8" cy="589.2" r="0.82"/><circle cx="109.9" cy="607.1" r="1.17"/><circle cx="76.1" cy="598.0" r="1.36"/><circle cx="124.0" cy="605.2" r="0.78"/><circle cx="118.0" cy="601.0" r="0.94"/></g>
</g></g>
<g clip-path="url(#cp15)"><rect x="126.30" y="572.00" width="53.20" height="43.10" fill="#c6c0d7"/><g filter="url(#tbs)">
<rect x="125.30" y="571.00" width="55.20" height="45.10" filter="url(#nf15)"/>
<rect x="125.30" y="571.00" width="55.20" height="45.10" filter="url(#nf16)"/>
<g fill="#fbfbfd" opacity="0.75"><circle cx="176.1" cy="608.3" r="1.38"/><circle cx="139.0" cy="597.0" r="1.02"/><circle cx="141.6" cy="605.3" r="1.18"/><circle cx="143.6" cy="595.5" r="1.40"/><circle cx="156.6" cy="612.2" r="1.15"/><circle cx="180.1" cy="572.3" r="1.07"/><circle cx="155.8" cy="603.8" r="1.43"/><circle cx="159.7" cy="592.6" r="1.19"/><circle cx="154.7" cy="602.8" r="1.41"/><circle cx="126.1" cy="585.4" r="1.36"/><circle cx="128.6" cy="606.6" r="0.77"/><circle cx="161.1" cy="607.1" r="0.92"/><circle cx="146.3" cy="581.2" r="1.24"/><circle cx="154.5" cy="598.3" r="0.98"/><circle cx="157.7" cy="614.0" r="1.30"/><circle cx="177.8" cy="582.1" r="1.11"/><circle cx="146.6" cy="586.6" r="1.31"/><circle cx="135.0" cy="596.2" r="1.29"/><circle cx="176.9" cy="571.8" r="0.94"/><circle cx="152.5" cy="613.2" r="0.86"/><circle cx="171.7" cy="588.9" r="1.13"/><circle cx="176.5" cy="573.9" r="0.98"/><circle cx="133.9" cy="577.0" r="0.96"/><circle cx="164.0" cy="597.2" r="0.84"/><circle cx="169.5" cy="593.9" r="0.85"/><circle cx="170.6" cy="608.0" r="0.90"/><circle cx="177.2" cy="607.5" r="0.91"/><circle cx="125.4" cy="610.1" r="1.33"/><circle cx="130.7" cy="605.6" r="1.29"/><circle cx="160.3" cy="608.5" r="1.44"/><circle cx="143.4" cy="608.6" r="1.39"/><circle cx="142.6" cy="601.8" r="1.23"/><circle cx="172.2" cy="596.6" r="0.94"/><circle cx="139.2" cy="595.5" r="0.84"/><circle cx="172.7" cy="611.1" r="0.92"/><circle cx="163.8" cy="601.4" r="0.84"/><circle cx="168.3" cy="605.6" r="0.96"/><circle cx="130.7" cy="583.7" r="1.29"/><circle cx="151.1" cy="607.8" r="0.86"/><circle cx="131.2" cy="586.7" r="1.37"/><circle cx="134.2" cy="574.3" r="1.28"/><circle cx="130.3" cy="601.1" r="0.81"/><circle cx="138.9" cy="600.9" r="1.36"/><circle cx="147.9" cy="591.3" r="0.77"/><circle cx="144.1" cy="581.9" r="1.30"/><circle cx="164.7" cy="606.4" r="1.12"/><circle cx="163.9" cy="576.7" r="1.02"/><circle cx="141.5" cy="583.7" r="1.27"/><circle cx="137.1" cy="585.7" r="0.95"/><circle cx="173.0" cy="599.8" r="1.09"/><circle cx="146.3" cy="612.6" r="1.41"/><circle cx="150.1" cy="596.6" r="1.35"/><circle cx="139.5" cy="582.7" r="0.82"/><circle cx="153.0" cy="605.7" r="0.86"/><circle cx="149.2" cy="615.7" r="1.09"/><circle cx="146.4" cy="608.9" r="1.37"/><circle cx="146.1" cy="576.6" r="1.20"/><circle cx="166.2" cy="612.6" r="1.21"/><circle cx="142.3" cy="594.2" r="0.95"/><circle cx="149.9" cy="592.1" r="1.39"/><circle cx="175.3" cy="612.8" r="1.08"/><circle cx="178.5" cy="577.3" r="1.39"/><circle cx="160.6" cy="610.3" r="1.04"/><circle cx="180.0" cy="572.1" r="1.34"/><circle cx="170.5" cy="587.9" r="1.33"/><circle cx="137.1" cy="604.9" r="1.08"/><circle cx="148.0" cy="579.9" r="1.31"/><circle cx="165.6" cy="575.0" r="1.43"/><circle cx="137.5" cy="587.9" r="1.04"/><circle cx="157.1" cy="611.2" r="1.41"/><circle cx="160.3" cy="587.5" r="0.83"/><circle cx="129.1" cy="594.4" r="1.16"/><circle cx="150.0" cy="615.3" r="1.04"/><circle cx="144.7" cy="589.9" r="0.87"/><circle cx="177.1" cy="597.7" r="1.13"/><circle cx="148.8" cy="582.3" r="0.97"/><circle cx="152.5" cy="591.1" r="1.44"/><circle cx="156.4" cy="580.3" r="0.79"/><circle cx="134.1" cy="586.6" r="1.30"/><circle cx="174.4" cy="581.7" r="1.30"/><circle cx="149.7" cy="595.2" r="1.12"/><circle cx="127.6" cy="574.0" r="1.22"/><circle cx="163.3" cy="588.2" r="1.39"/><circle cx="170.6" cy="584.6" r="0.80"/><circle cx="155.8" cy="600.5" r="0.91"/><circle cx="127.7" cy="593.0" r="0.77"/><circle cx="166.0" cy="599.2" r="0.95"/><circle cx="149.9" cy="581.5" r="0.88"/><circle cx="135.3" cy="607.8" r="1.07"/><circle cx="164.8" cy="586.7" r="1.31"/><circle cx="158.2" cy="600.5" r="1.02"/><circle cx="156.3" cy="579.6" r="1.43"/><circle cx="162.4" cy="595.0" r="1.20"/><circle cx="130.8" cy="586.1" r="0.91"/><circle cx="171.8" cy="571.6" r="1.06"/><circle cx="173.2" cy="606.3" r="1.25"/><circle cx="141.9" cy="581.5" r="1.24"/><circle cx="141.8" cy="603.6" r="0.99"/><circle cx="167.3" cy="596.8" r="1.32"/><circle cx="179.7" cy="588.1" r="1.44"/><circle cx="125.8" cy="610.6" r="0.77"/><circle cx="155.4" cy="588.5" r="1.29"/><circle cx="142.7" cy="580.4" r="1.30"/><circle cx="155.7" cy="605.1" r="1.09"/><circle cx="127.3" cy="605.8" r="0.90"/><circle cx="151.3" cy="571.0" r="0.93"/><circle cx="162.0" cy="605.5" r="1.20"/><circle cx="149.8" cy="604.0" r="1.22"/><circle cx="136.7" cy="595.1" r="1.17"/><circle cx="165.5" cy="579.9" r="0.97"/><circle cx="144.2" cy="575.3" r="0.99"/><circle cx="165.6" cy="597.0" r="0.87"/><circle cx="165.7" cy="576.3" r="1.28"/><circle cx="133.5" cy="575.3" r="0.93"/><circle cx="153.7" cy="583.2" r="1.37"/><circle cx="177.1" cy="583.8" r="1.27"/><circle cx="163.7" cy="596.3" r="0.93"/><circle cx="177.7" cy="614.1" r="0.76"/><circle cx="143.5" cy="585.5" r="0.89"/><circle cx="149.1" cy="611.5" r="0.77"/><circle cx="171.4" cy="584.9" r="0.76"/><circle cx="175.0" cy="583.3" r="0.90"/><circle cx="131.7" cy="587.6" r="0.83"/><circle cx="135.2" cy="582.3" r="1.15"/><circle cx="149.9" cy="584.8" r="1.12"/><circle cx="168.0" cy="603.7" r="0.99"/><circle cx="176.0" cy="606.7" r="1.14"/><circle cx="151.6" cy="585.9" r="0.84"/><circle cx="174.2" cy="598.4" r="0.82"/><circle cx="176.4" cy="611.0" r="0.77"/><circle cx="164.0" cy="581.7" r="1.12"/><circle cx="171.3" cy="586.8" r="1.10"/><circle cx="162.0" cy="579.7" r="1.19"/><circle cx="148.8" cy="615.3" r="0.88"/><circle cx="164.5" cy="572.9" r="0.94"/><circle cx="131.8" cy="577.7" r="1.12"/><circle cx="134.9" cy="606.8" r="0.82"/><circle cx="159.7" cy="609.8" r="0.84"/><circle cx="137.3" cy="605.5" r="1.08"/><circle cx="176.8" cy="586.2" r="1.03"/><circle cx="178.2" cy="586.5" r="1.43"/><circle cx="174.5" cy="580.0" r="1.13"/><circle cx="177.3" cy="576.3" r="1.34"/><circle cx="168.0" cy="604.8" r="1.17"/><circle cx="130.8" cy="614.2" r="0.82"/><circle cx="168.6" cy="603.6" r="0.97"/><circle cx="163.1" cy="589.5" r="1.28"/><circle cx="127.7" cy="613.1" r="1.02"/><circle cx="169.6" cy="592.3" r="1.32"/><circle cx="141.9" cy="595.6" r="0.77"/><circle cx="152.3" cy="574.6" r="1.35"/><circle cx="162.7" cy="590.2" r="1.43"/><circle cx="177.6" cy="614.1" r="0.81"/><circle cx="164.2" cy="603.8" r="1.17"/><circle cx="126.2" cy="612.7" r="1.06"/><circle cx="158.1" cy="607.7" r="0.94"/><circle cx="126.9" cy="612.6" r="0.94"/><circle cx="127.6" cy="577.2" r="1.45"/><circle cx="166.1" cy="580.5" r="0.85"/><circle cx="174.9" cy="601.0" r="1.16"/><circle cx="132.5" cy="589.6" r="1.41"/><circle cx="125.5" cy="589.9" r="0.79"/><circle cx="180.4" cy="575.7" r="1.42"/><circle cx="171.7" cy="604.0" r="0.78"/><circle cx="163.7" cy="593.2" r="1.09"/><circle cx="133.3" cy="594.1" r="1.31"/><circle cx="132.6" cy="610.5" r="1.04"/><circle cx="140.0" cy="581.8" r="1.07"/><circle cx="161.0" cy="596.7" r="1.37"/><circle cx="153.5" cy="594.1" r="1.44"/><circle cx="137.2" cy="571.7" r="0.98"/><circle cx="142.6" cy="576.6" r="1.04"/><circle cx="127.2" cy="612.5" r="1.09"/><circle cx="173.8" cy="602.5" r="1.26"/><circle cx="167.2" cy="584.6" r="1.26"/><circle cx="136.7" cy="596.0" r="1.17"/><circle cx="168.1" cy="578.6" r="0.99"/><circle cx="170.8" cy="607.3" r="1.43"/><circle cx="131.8" cy="580.5" r="0.82"/><circle cx="165.2" cy="604.6" r="1.20"/><circle cx="168.3" cy="594.3" r="1.14"/><circle cx="176.1" cy="600.2" r="1.21"/><circle cx="157.8" cy="593.3" r="1.28"/><circle cx="156.9" cy="576.8" r="1.05"/><circle cx="148.6" cy="590.5" r="1.14"/><circle cx="145.3" cy="588.6" r="1.05"/><circle cx="145.8" cy="614.8" r="0.81"/><circle cx="126.2" cy="603.5" r="1.03"/><circle cx="150.1" cy="597.7" r="1.01"/><circle cx="138.5" cy="571.7" r="1.36"/><circle cx="177.1" cy="583.9" r="1.08"/><circle cx="143.2" cy="573.6" r="1.37"/><circle cx="171.5" cy="581.9" r="0.93"/><circle cx="163.8" cy="606.9" r="1.08"/><circle cx="146.7" cy="581.5" r="1.31"/><circle cx="173.0" cy="609.7" r="0.83"/><circle cx="158.1" cy="615.4" r="1.25"/><circle cx="150.6" cy="577.5" r="0.79"/><circle cx="165.7" cy="574.1" r="1.32"/><circle cx="162.0" cy="592.4" r="1.37"/><circle cx="176.8" cy="598.8" r="0.82"/><circle cx="157.8" cy="590.0" r="0.92"/><circle cx="176.6" cy="603.9" r="0.84"/><circle cx="137.9" cy="586.5" r="1.15"/><circle cx="143.2" cy="590.8" r="1.32"/><circle cx="135.3" cy="603.5" r="0.98"/><circle cx="177.4" cy="613.9" r="0.98"/><circle cx="158.8" cy="576.0" r="1.04"/><circle cx="159.7" cy="599.8" r="0.99"/><circle cx="127.2" cy="576.6" r="1.14"/><circle cx="134.7" cy="584.8" r="1.18"/><circle cx="175.0" cy="594.2" r="0.93"/><circle cx="157.6" cy="583.4" r="1.30"/><circle cx="133.9" cy="582.8" r="1.06"/><circle cx="175.4" cy="578.5" r="0.88"/><circle cx="132.6" cy="580.6" r="0.98"/><circle cx="147.1" cy="605.3" r="1.03"/><circle cx="151.5" cy="588.9" r="1.29"/><circle cx="175.2" cy="590.2" r="1.39"/><circle cx="139.1" cy="615.1" r="1.12"/><circle cx="162.9" cy="588.2" r="0.94"/><circle cx="132.8" cy="610.9" r="1.00"/><circle cx="163.9" cy="591.8" r="1.12"/><circle cx="136.7" cy="579.0" r="0.99"/><circle cx="162.9" cy="595.5" r="0.75"/><circle cx="164.5" cy="590.5" r="0.80"/><circle cx="139.6" cy="580.5" r="1.33"/><circle cx="155.7" cy="585.7" r="0.92"/><circle cx="141.4" cy="583.6" r="0.99"/><circle cx="168.9" cy="606.6" r="1.24"/><circle cx="174.1" cy="600.5" r="0.83"/><circle cx="127.8" cy="578.4" r="0.93"/><circle cx="154.5" cy="608.1" r="1.16"/><circle cx="149.0" cy="581.9" r="1.44"/><circle cx="166.9" cy="586.4" r="0.78"/><circle cx="179.5" cy="582.5" r="1.34"/><circle cx="131.8" cy="600.5" r="1.00"/><circle cx="174.4" cy="584.4" r="0.82"/><circle cx="136.3" cy="607.3" r="1.44"/><circle cx="160.8" cy="601.7" r="0.95"/><circle cx="140.3" cy="574.9" r="1.44"/><circle cx="127.7" cy="598.6" r="0.99"/><circle cx="135.6" cy="590.7" r="1.40"/><circle cx="139.0" cy="578.4" r="1.19"/><circle cx="161.6" cy="594.0" r="0.88"/><circle cx="173.6" cy="576.0" r="0.87"/><circle cx="138.6" cy="594.2" r="1.08"/><circle cx="155.9" cy="603.8" r="1.38"/><circle cx="151.2" cy="572.9" r="1.33"/><circle cx="126.3" cy="585.3" r="0.85"/><circle cx="158.5" cy="606.3" r="0.84"/><circle cx="141.5" cy="609.4" r="1.23"/><circle cx="131.3" cy="602.0" r="1.31"/><circle cx="147.9" cy="578.0" r="1.21"/><circle cx="142.9" cy="577.0" r="0.87"/><circle cx="147.5" cy="576.7" r="1.02"/><circle cx="155.7" cy="595.9" r="1.03"/><circle cx="169.5" cy="575.0" r="0.98"/><circle cx="176.8" cy="610.0" r="1.39"/><circle cx="167.5" cy="595.2" r="1.30"/><circle cx="156.9" cy="576.3" r="0.93"/><circle cx="130.7" cy="610.5" r="0.98"/><circle cx="147.8" cy="595.3" r="0.82"/><circle cx="164.3" cy="606.9" r="1.31"/><circle cx="173.9" cy="585.3" r="0.85"/><circle cx="167.3" cy="602.3" r="1.01"/><circle cx="144.3" cy="577.9" r="1.33"/><circle cx="150.7" cy="607.6" r="0.99"/><circle cx="143.0" cy="594.1" r="1.27"/><circle cx="174.0" cy="586.9" r="1.24"/><circle cx="147.6" cy="609.9" r="1.28"/><circle cx="156.0" cy="587.3" r="0.94"/><circle cx="174.1" cy="607.1" r="0.96"/><circle cx="130.0" cy="579.8" r="1.42"/><circle cx="127.5" cy="607.5" r="1.12"/><circle cx="155.9" cy="595.3" r="1.04"/><circle cx="156.1" cy="575.1" r="1.39"/><circle cx="131.0" cy="577.3" r="1.22"/><circle cx="160.7" cy="607.4" r="1.23"/><circle cx="176.7" cy="573.3" r="0.76"/><circle cx="138.4" cy="606.1" r="0.86"/><circle cx="154.6" cy="605.7" r="0.86"/><circle cx="154.4" cy="611.6" r="1.27"/><circle cx="147.3" cy="592.6" r="0.94"/><circle cx="178.3" cy="606.3" r="1.23"/><circle cx="142.1" cy="604.0" r="1.09"/><circle cx="169.4" cy="587.4" r="1.37"/><circle cx="163.1" cy="591.3" r="1.14"/><circle cx="169.7" cy="594.9" r="1.42"/><circle cx="125.7" cy="611.5" r="1.25"/><circle cx="152.3" cy="609.3" r="0.85"/><circle cx="143.9" cy="603.2" r="1.33"/><circle cx="145.9" cy="615.8" r="1.20"/><circle cx="127.8" cy="576.6" r="0.80"/><circle cx="156.8" cy="585.5" r="0.93"/><circle cx="150.0" cy="574.5" r="1.39"/><circle cx="171.6" cy="596.2" r="1.06"/><circle cx="142.3" cy="598.2" r="0.99"/><circle cx="179.1" cy="614.1" r="1.26"/><circle cx="170.9" cy="574.4" r="0.84"/><circle cx="144.4" cy="576.7" r="1.05"/><circle cx="179.7" cy="608.6" r="1.42"/><circle cx="137.5" cy="581.0" r="0.77"/><circle cx="140.4" cy="573.5" r="1.12"/><circle cx="141.9" cy="601.4" r="1.14"/><circle cx="158.3" cy="584.5" r="1.26"/><circle cx="163.3" cy="603.2" r="1.08"/><circle cx="150.9" cy="583.9" r="0.78"/><circle cx="151.0" cy="598.8" r="0.88"/><circle cx="172.8" cy="610.6" r="1.35"/><circle cx="170.3" cy="593.0" r="0.87"/><circle cx="140.3" cy="604.3" r="1.44"/><circle cx="131.4" cy="571.3" r="1.00"/><circle cx="144.6" cy="598.0" r="0.83"/><circle cx="171.9" cy="586.2" r="1.39"/><circle cx="143.5" cy="584.8" r="0.87"/><circle cx="178.6" cy="597.6" r="1.33"/><circle cx="128.8" cy="595.5" r="1.26"/><circle cx="179.6" cy="613.2" r="0.82"/><circle cx="145.9" cy="616.0" r="1.12"/><circle cx="178.1" cy="582.4" r="0.77"/><circle cx="177.5" cy="582.9" r="1.14"/><circle cx="145.2" cy="597.0" r="1.40"/><circle cx="177.6" cy="610.6" r="0.93"/><circle cx="170.6" cy="571.8" r="1.04"/><circle cx="177.4" cy="582.5" r="1.01"/><circle cx="157.4" cy="581.7" r="1.25"/><circle cx="161.3" cy="575.3" r="1.39"/><circle cx="129.2" cy="602.4" r="0.99"/><circle cx="133.2" cy="574.5" r="1.45"/><circle cx="169.4" cy="591.7" r="1.31"/><circle cx="178.8" cy="612.8" r="1.12"/><circle cx="140.5" cy="594.4" r="1.44"/><circle cx="165.6" cy="601.2" r="1.34"/><circle cx="147.9" cy="596.2" r="1.34"/><circle cx="136.3" cy="609.7" r="0.77"/><circle cx="154.9" cy="596.9" r="0.85"/><circle cx="176.2" cy="590.8" r="0.88"/><circle cx="148.0" cy="597.7" r="1.05"/><circle cx="125.5" cy="575.2" r="1.25"/><circle cx="132.6" cy="582.5" r="1.32"/><circle cx="172.9" cy="610.8" r="0.87"/><circle cx="125.6" cy="605.0" r="1.17"/><circle cx="145.4" cy="571.8" r="1.05"/><circle cx="138.4" cy="597.5" r="1.44"/><circle cx="136.9" cy="574.4" r="1.24"/><circle cx="131.2" cy="581.1" r="1.06"/><circle cx="179.7" cy="585.6" r="0.97"/><circle cx="151.5" cy="578.3" r="1.03"/><circle cx="164.0" cy="585.6" r="1.31"/></g>
</g></g>
<g clip-path="url(#cp16)"><rect x="182.50" y="572.00" width="52.50" height="43.10" fill="#c4bfd8"/><g filter="url(#tbs)">
<rect x="181.50" y="571.00" width="54.50" height="45.10" filter="url(#nf17)"/>
<rect x="181.50" y="571.00" width="54.50" height="45.10" filter="url(#nf18)"/>
<g fill="#fbfbfd" opacity="0.75"><circle cx="191.5" cy="575.6" r="1.19"/><circle cx="206.2" cy="612.4" r="0.82"/><circle cx="222.2" cy="601.2" r="1.01"/><circle cx="188.5" cy="598.6" r="1.28"/><circle cx="207.3" cy="592.3" r="1.23"/><circle cx="214.7" cy="590.1" r="0.88"/><circle cx="206.8" cy="595.8" r="1.38"/><circle cx="235.7" cy="596.1" r="0.98"/><circle cx="193.6" cy="599.4" r="1.27"/><circle cx="195.0" cy="602.1" r="1.45"/><circle cx="202.8" cy="613.3" r="1.06"/><circle cx="217.0" cy="610.1" r="0.89"/><circle cx="200.3" cy="615.4" r="0.80"/><circle cx="198.2" cy="592.5" r="1.27"/><circle cx="215.9" cy="612.9" r="1.22"/><circle cx="181.6" cy="574.2" r="0.78"/><circle cx="205.0" cy="572.2" r="1.12"/><circle cx="216.0" cy="580.1" r="1.35"/><circle cx="204.0" cy="614.3" r="1.00"/><circle cx="215.3" cy="595.4" r="0.93"/><circle cx="224.0" cy="571.2" r="0.92"/><circle cx="199.0" cy="610.8" r="1.10"/><circle cx="183.5" cy="584.5" r="1.18"/><circle cx="225.6" cy="575.9" r="1.30"/><circle cx="202.8" cy="594.6" r="1.04"/><circle cx="205.4" cy="615.7" r="1.39"/><circle cx="231.5" cy="604.2" r="1.24"/><circle cx="189.2" cy="572.6" r="1.33"/><circle cx="218.2" cy="599.4" r="0.97"/><circle cx="196.1" cy="612.5" r="1.12"/><circle cx="182.6" cy="586.4" r="0.99"/><circle cx="185.2" cy="615.1" r="1.38"/><circle cx="225.9" cy="571.2" r="1.04"/><circle cx="187.6" cy="603.7" r="1.32"/><circle cx="224.5" cy="606.7" r="0.83"/><circle cx="182.2" cy="575.2" r="1.34"/><circle cx="226.7" cy="594.3" r="0.91"/><circle cx="228.2" cy="576.4" r="0.98"/><circle cx="181.6" cy="615.3" r="1.04"/><circle cx="223.5" cy="607.1" r="1.16"/><circle cx="235.3" cy="605.9" r="1.40"/><circle cx="234.0" cy="574.7" r="1.28"/><circle cx="193.8" cy="585.6" r="0.99"/><circle cx="235.4" cy="573.7" r="1.05"/><circle cx="188.5" cy="616.0" r="1.10"/><circle cx="219.8" cy="594.5" r="1.29"/><circle cx="199.8" cy="589.6" r="1.27"/><circle cx="219.8" cy="611.0" r="0.97"/><circle cx="227.7" cy="604.2" r="1.15"/><circle cx="203.7" cy="596.6" r="0.80"/><circle cx="186.8" cy="585.0" r="0.84"/><circle cx="184.2" cy="603.3" r="1.26"/><circle cx="215.1" cy="580.3" r="1.26"/><circle cx="226.5" cy="598.9" r="0.91"/><circle cx="212.3" cy="588.8" r="0.94"/><circle cx="189.6" cy="610.0" r="1.19"/><circle cx="232.3" cy="578.8" r="0.93"/><circle cx="209.3" cy="573.7" r="0.96"/><circle cx="210.9" cy="592.7" r="1.39"/><circle cx="213.0" cy="599.8" r="1.16"/><circle cx="224.3" cy="587.5" r="0.75"/><circle cx="234.9" cy="606.7" r="0.84"/><circle cx="187.6" cy="581.0" r="1.21"/><circle cx="188.6" cy="571.9" r="1.10"/><circle cx="181.8" cy="582.7" r="1.02"/><circle cx="192.7" cy="571.1" r="0.93"/><circle cx="194.8" cy="585.6" r="1.04"/><circle cx="201.1" cy="585.6" r="0.76"/><circle cx="227.1" cy="604.3" r="1.10"/><circle cx="181.7" cy="581.5" r="1.38"/><circle cx="206.4" cy="580.3" r="1.32"/><circle cx="230.1" cy="576.5" r="1.10"/><circle cx="212.1" cy="576.3" r="0.97"/><circle cx="215.2" cy="601.4" r="1.19"/><circle cx="215.3" cy="588.0" r="0.80"/><circle cx="182.4" cy="608.8" r="1.36"/><circle cx="230.8" cy="574.4" r="1.29"/><circle cx="190.9" cy="586.6" r="0.89"/><circle cx="228.4" cy="607.9" r="1.33"/><circle cx="202.3" cy="613.2" r="0.93"/><circle cx="212.8" cy="601.4" r="0.91"/><circle cx="202.3" cy="575.5" r="1.31"/><circle cx="191.5" cy="577.1" r="0.94"/><circle cx="216.4" cy="599.7" r="1.12"/><circle cx="228.0" cy="604.9" r="0.90"/><circle cx="210.6" cy="578.6" r="0.92"/><circle cx="189.5" cy="574.5" r="1.00"/><circle cx="229.8" cy="600.6" r="0.81"/><circle cx="193.4" cy="597.7" r="1.12"/><circle cx="183.0" cy="575.2" r="1.15"/><circle cx="214.3" cy="574.6" r="1.29"/><circle cx="194.6" cy="597.6" r="1.12"/><circle cx="200.0" cy="613.7" r="1.03"/><circle cx="204.6" cy="595.4" r="1.34"/><circle cx="235.3" cy="605.7" r="1.13"/><circle cx="220.6" cy="599.8" r="1.42"/><circle cx="234.4" cy="605.3" r="0.90"/><circle cx="212.5" cy="590.8" r="0.91"/><circle cx="224.1" cy="581.0" r="1.25"/><circle cx="208.2" cy="590.3" r="1.24"/><circle cx="221.0" cy="615.6" r="1.45"/><circle cx="225.1" cy="582.9" r="1.22"/><circle cx="208.5" cy="613.4" r="1.06"/><circle cx="201.0" cy="572.2" r="1.08"/><circle cx="210.5" cy="584.9" r="0.82"/><circle cx="207.9" cy="574.2" r="0.87"/><circle cx="205.7" cy="586.7" r="1.10"/><circle cx="210.4" cy="588.5" r="0.84"/><circle cx="182.5" cy="596.2" r="1.43"/><circle cx="196.8" cy="586.9" r="0.97"/><circle cx="222.0" cy="593.2" r="1.31"/><circle cx="181.8" cy="577.0" r="0.89"/><circle cx="201.6" cy="589.0" r="1.02"/><circle cx="234.1" cy="590.8" r="1.15"/><circle cx="234.0" cy="599.9" r="1.17"/><circle cx="226.6" cy="586.1" r="0.78"/><circle cx="233.7" cy="595.1" r="1.16"/><circle cx="185.1" cy="604.6" r="1.01"/><circle cx="216.5" cy="583.8" r="1.39"/><circle cx="201.6" cy="583.4" r="1.38"/><circle cx="193.6" cy="583.2" r="1.09"/><circle cx="235.0" cy="576.2" r="0.90"/><circle cx="224.9" cy="574.4" r="1.04"/><circle cx="224.2" cy="603.1" r="1.31"/><circle cx="187.9" cy="611.1" r="1.00"/><circle cx="225.9" cy="592.3" r="1.37"/><circle cx="207.5" cy="582.6" r="0.86"/><circle cx="208.6" cy="573.2" r="0.86"/><circle cx="229.2" cy="596.9" r="1.35"/><circle cx="189.7" cy="592.7" r="1.08"/><circle cx="187.4" cy="582.9" r="1.40"/><circle cx="220.9" cy="594.0" r="1.18"/><circle cx="228.4" cy="614.0" r="1.17"/><circle cx="184.2" cy="610.3" r="0.87"/><circle cx="194.6" cy="577.2" r="1.11"/><circle cx="213.2" cy="591.8" r="1.08"/><circle cx="189.2" cy="603.4" r="1.13"/><circle cx="198.3" cy="608.6" r="1.41"/><circle cx="231.8" cy="615.4" r="0.80"/><circle cx="202.7" cy="591.3" r="0.93"/><circle cx="222.0" cy="611.8" r="0.85"/><circle cx="209.1" cy="614.6" r="1.37"/><circle cx="206.1" cy="575.7" r="1.07"/><circle cx="209.7" cy="606.4" r="0.88"/><circle cx="196.7" cy="615.4" r="0.76"/><circle cx="214.8" cy="575.3" r="1.28"/><circle cx="204.6" cy="612.7" r="0.91"/><circle cx="229.3" cy="581.3" r="0.78"/><circle cx="186.2" cy="574.4" r="1.02"/><circle cx="234.5" cy="587.0" r="1.25"/><circle cx="183.4" cy="594.3" r="1.13"/><circle cx="186.8" cy="597.2" r="1.06"/><circle cx="199.3" cy="608.5" r="1.23"/><circle cx="188.1" cy="575.8" r="0.79"/><circle cx="195.9" cy="599.7" r="1.43"/><circle cx="234.3" cy="610.0" r="0.84"/><circle cx="224.7" cy="605.4" r="1.08"/><circle cx="235.8" cy="598.0" r="0.83"/><circle cx="193.3" cy="576.8" r="1.18"/><circle cx="215.5" cy="609.7" r="0.76"/><circle cx="182.0" cy="614.9" r="0.93"/><circle cx="195.9" cy="610.1" r="0.83"/><circle cx="224.7" cy="611.4" r="1.14"/><circle cx="214.7" cy="571.3" r="1.17"/><circle cx="215.0" cy="605.8" r="1.11"/><circle cx="187.7" cy="581.0" r="1.21"/><circle cx="185.8" cy="575.8" r="0.93"/><circle cx="224.9" cy="595.6" r="1.00"/><circle cx="234.0" cy="597.2" r="0.92"/><circle cx="212.3" cy="609.6" r="1.01"/><circle cx="205.2" cy="597.0" r="1.44"/><circle cx="216.3" cy="579.2" r="1.16"/><circle cx="199.0" cy="592.3" r="1.25"/><circle cx="182.6" cy="593.9" r="0.97"/><circle cx="214.1" cy="608.0" r="1.08"/><circle cx="215.8" cy="584.0" r="0.93"/><circle cx="209.3" cy="595.0" r="0.91"/><circle cx="223.2" cy="593.5" r="1.00"/><circle cx="195.3" cy="608.7" r="1.38"/><circle cx="232.6" cy="582.2" r="0.80"/><circle cx="215.9" cy="572.1" r="1.35"/><circle cx="218.5" cy="586.2" r="1.06"/><circle cx="218.7" cy="578.2" r="1.01"/><circle cx="224.4" cy="601.7" r="1.16"/><circle cx="187.1" cy="580.8" r="0.93"/><circle cx="183.2" cy="599.9" r="1.15"/><circle cx="231.9" cy="596.0" r="1.39"/><circle cx="207.1" cy="594.3" r="0.95"/><circle cx="206.8" cy="613.2" r="1.09"/><circle cx="181.6" cy="587.0" r="0.89"/><circle cx="215.5" cy="594.0" r="1.08"/><circle cx="232.0" cy="605.4" r="0.81"/><circle cx="183.2" cy="602.6" r="1.17"/><circle cx="217.1" cy="593.6" r="0.78"/><circle cx="206.1" cy="608.7" r="1.17"/><circle cx="183.9" cy="576.6" r="1.38"/><circle cx="211.2" cy="578.4" r="1.24"/><circle cx="231.9" cy="610.0" r="1.20"/><circle cx="225.5" cy="574.9" r="1.07"/><circle cx="225.7" cy="586.4" r="0.85"/><circle cx="228.7" cy="602.8" r="0.76"/><circle cx="185.0" cy="596.1" r="1.42"/><circle cx="215.2" cy="610.5" r="0.82"/><circle cx="212.9" cy="579.2" r="0.98"/><circle cx="189.6" cy="591.9" r="0.78"/><circle cx="217.3" cy="600.2" r="1.38"/><circle cx="223.4" cy="574.4" r="1.36"/><circle cx="211.1" cy="613.2" r="1.09"/><circle cx="185.9" cy="602.8" r="0.87"/><circle cx="235.1" cy="595.3" r="1.38"/><circle cx="208.3" cy="585.7" r="1.21"/><circle cx="220.2" cy="591.8" r="0.94"/><circle cx="204.4" cy="603.2" r="0.91"/><circle cx="190.1" cy="592.8" r="1.21"/><circle cx="185.1" cy="583.2" r="1.43"/><circle cx="196.1" cy="605.8" r="0.96"/><circle cx="186.2" cy="592.9" r="1.36"/><circle cx="223.9" cy="573.2" r="1.24"/><circle cx="215.3" cy="592.8" r="1.22"/><circle cx="209.9" cy="579.3" r="1.24"/><circle cx="188.5" cy="585.0" r="1.35"/><circle cx="212.5" cy="594.1" r="1.25"/><circle cx="208.3" cy="588.3" r="1.14"/><circle cx="182.7" cy="586.9" r="0.78"/><circle cx="235.8" cy="611.9" r="1.21"/><circle cx="190.1" cy="609.6" r="0.95"/><circle cx="225.4" cy="600.4" r="1.17"/><circle cx="221.9" cy="583.1" r="1.33"/><circle cx="211.1" cy="605.1" r="1.34"/><circle cx="195.4" cy="589.5" r="1.00"/><circle cx="185.7" cy="610.5" r="1.23"/><circle cx="208.2" cy="595.6" r="1.37"/><circle cx="185.3" cy="587.1" r="1.23"/><circle cx="210.6" cy="593.4" r="0.93"/><circle cx="193.7" cy="601.2" r="0.99"/><circle cx="232.6" cy="611.7" r="1.43"/><circle cx="196.6" cy="594.2" r="0.82"/><circle cx="201.1" cy="574.4" r="1.10"/><circle cx="233.7" cy="605.4" r="1.00"/><circle cx="196.6" cy="613.0" r="0.79"/><circle cx="227.6" cy="609.6" r="0.80"/><circle cx="233.3" cy="600.1" r="1.02"/><circle cx="204.7" cy="598.4" r="1.12"/><circle cx="228.8" cy="611.4" r="0.98"/><circle cx="182.0" cy="606.1" r="1.20"/><circle cx="217.2" cy="574.4" r="0.80"/><circle cx="230.5" cy="587.4" r="1.08"/><circle cx="234.5" cy="579.8" r="1.19"/><circle cx="184.9" cy="596.3" r="1.27"/><circle cx="190.1" cy="605.3" r="1.43"/><circle cx="226.5" cy="606.7" r="1.41"/><circle cx="220.6" cy="595.7" r="1.33"/><circle cx="225.4" cy="599.4" r="1.22"/><circle cx="191.2" cy="586.3" r="0.98"/><circle cx="228.3" cy="606.2" r="0.95"/><circle cx="235.7" cy="573.7" r="0.79"/><circle cx="199.4" cy="574.5" r="1.41"/><circle cx="201.0" cy="588.5" r="1.35"/><circle cx="210.5" cy="599.4" r="1.06"/><circle cx="206.6" cy="614.2" r="0.94"/><circle cx="210.1" cy="592.6" r="0.85"/><circle cx="189.5" cy="593.9" r="1.31"/><circle cx="205.0" cy="573.7" r="1.40"/><circle cx="189.0" cy="610.9" r="0.78"/><circle cx="216.9" cy="577.6" r="0.93"/><circle cx="204.5" cy="605.1" r="1.05"/><circle cx="204.3" cy="589.1" r="1.11"/><circle cx="196.8" cy="614.0" r="0.88"/><circle cx="188.7" cy="595.7" r="1.00"/><circle cx="220.8" cy="572.8" r="1.22"/><circle cx="201.4" cy="612.8" r="0.96"/><circle cx="205.1" cy="585.3" r="1.12"/><circle cx="196.8" cy="601.2" r="1.04"/><circle cx="220.1" cy="584.1" r="1.07"/><circle cx="211.9" cy="603.4" r="1.21"/><circle cx="204.9" cy="574.9" r="0.83"/><circle cx="189.5" cy="579.3" r="0.88"/><circle cx="217.6" cy="586.4" r="1.39"/><circle cx="194.3" cy="582.1" r="0.88"/><circle cx="189.4" cy="601.8" r="1.15"/><circle cx="195.2" cy="607.5" r="1.22"/><circle cx="204.9" cy="598.4" r="1.21"/><circle cx="205.5" cy="575.1" r="1.01"/><circle cx="233.1" cy="587.8" r="1.20"/><circle cx="186.3" cy="605.9" r="1.35"/><circle cx="201.8" cy="587.8" r="1.11"/><circle cx="195.3" cy="580.5" r="0.84"/><circle cx="218.9" cy="594.0" r="1.42"/><circle cx="234.0" cy="610.4" r="1.41"/><circle cx="227.2" cy="572.1" r="0.84"/><circle cx="234.7" cy="610.4" r="1.18"/><circle cx="215.3" cy="590.7" r="1.05"/><circle cx="189.4" cy="595.7" r="0.94"/><circle cx="188.1" cy="610.3" r="1.15"/><circle cx="229.3" cy="584.3" r="1.15"/><circle cx="196.6" cy="608.5" r="0.90"/><circle cx="216.8" cy="596.0" r="0.98"/><circle cx="185.9" cy="593.0" r="1.12"/><circle cx="226.1" cy="580.2" r="0.88"/><circle cx="198.1" cy="607.2" r="0.91"/></g>
</g></g>
<g clip-path="url(#cp17)"><rect x="14.20" y="618.70" width="53.20" height="45.30" fill="#efe6ec"/><g filter="url(#tb)">
<rect x="13.20" y="617.70" width="55.20" height="47.30" filter="url(#nf19)"/>
<g fill="#e8c4c8" opacity="0.6"><ellipse cx="20.8" cy="625.0" rx="6.10" ry="5.72"/><ellipse cx="36.3" cy="628.3" rx="7.30" ry="6.82"/><ellipse cx="52.9" cy="630.5" rx="7.30" ry="6.82"/><ellipse cx="15.3" cy="638.2" rx="6.10" ry="5.72"/><ellipse cx="44.1" cy="641.5" rx="7.30" ry="6.82"/><ellipse cx="28.6" cy="648.2" rx="7.30" ry="6.82"/><ellipse cx="58.5" cy="649.3" rx="6.10" ry="5.72"/><ellipse cx="20.8" cy="657.0" rx="6.10" ry="5.72"/><ellipse cx="41.9" cy="658.1" rx="6.10" ry="5.72"/><ellipse cx="55.1" cy="657.0" rx="6.10" ry="5.72"/><ellipse cx="62.0" cy="638.0" rx="4.90" ry="4.61"/><ellipse cx="30.0" cy="635.0" rx="4.90" ry="4.61"/></g>
<g filter="url(#bfx7)" fill="url(#rg3)"><ellipse cx="20.8" cy="625.0" rx="4.80" ry="4.42"/><ellipse cx="36.3" cy="628.3" rx="6.00" ry="5.52"/><ellipse cx="52.9" cy="630.5" rx="6.00" ry="5.52"/><ellipse cx="15.3" cy="638.2" rx="4.80" ry="4.42"/><ellipse cx="44.1" cy="641.5" rx="6.00" ry="5.52"/><ellipse cx="28.6" cy="648.2" rx="6.00" ry="5.52"/><ellipse cx="58.5" cy="649.3" rx="4.80" ry="4.42"/><ellipse cx="20.8" cy="657.0" rx="4.80" ry="4.42"/><ellipse cx="41.9" cy="658.1" rx="4.80" ry="4.42"/><ellipse cx="55.1" cy="657.0" rx="4.80" ry="4.42"/><ellipse cx="62.0" cy="638.0" rx="3.60" ry="3.31"/><ellipse cx="30.0" cy="635.0" rx="3.60" ry="3.31"/></g>
<g fill="#f6eef0" opacity="1.0"><circle cx="44.0" cy="643.0" r="1.3"/><circle cx="29.0" cy="650.0" r="1.2"/><circle cx="56.0" cy="658.0" r="1.2"/><circle cx="21.0" cy="627.0" r="1.0"/></g>
</g></g>
<g clip-path="url(#cp18)"><rect x="70.70" y="618.70" width="53.00" height="45.30" fill="#f1e8ee"/><g filter="url(#tb)">
<rect x="69.70" y="617.70" width="55.00" height="47.30" filter="url(#nf20)"/>
<g fill="#e8c4c8" opacity="0.6"><ellipse cx="77.3" cy="639.3" rx="6.02" ry="5.64"/><ellipse cx="88.3" cy="625.0" rx="6.02" ry="5.64"/><ellipse cx="99.4" cy="628.3" rx="6.02" ry="5.64"/><ellipse cx="111.6" cy="627.2" rx="5.43" ry="5.10"/><ellipse cx="120.4" cy="628.3" rx="5.43" ry="5.10"/><ellipse cx="96.0" cy="636.0" rx="6.02" ry="5.64"/><ellipse cx="113.8" cy="638.2" rx="6.02" ry="5.64"/><ellipse cx="88.3" cy="643.8" rx="5.43" ry="5.10"/><ellipse cx="109.3" cy="644.9" rx="6.61" ry="6.19"/><ellipse cx="120.4" cy="642.7" rx="5.43" ry="5.10"/><ellipse cx="90.5" cy="649.3" rx="6.61" ry="6.19"/><ellipse cx="99.4" cy="649.3" rx="6.61" ry="6.19"/><ellipse cx="109.3" cy="653.7" rx="6.02" ry="5.64"/><ellipse cx="120.4" cy="652.6" rx="6.02" ry="5.64"/><ellipse cx="76.2" cy="657.0" rx="6.02" ry="5.64"/><ellipse cx="98.3" cy="660.4" rx="6.02" ry="5.64"/><ellipse cx="114.9" cy="660.4" rx="6.02" ry="5.64"/></g>
<g filter="url(#bfx8)" fill="url(#rg4)"><ellipse cx="77.3" cy="639.3" rx="4.72" ry="4.34"/><ellipse cx="88.3" cy="625.0" rx="4.72" ry="4.34"/><ellipse cx="99.4" cy="628.3" rx="4.72" ry="4.34"/><ellipse cx="111.6" cy="627.2" rx="4.13" ry="3.80"/><ellipse cx="120.4" cy="628.3" rx="4.13" ry="3.80"/><ellipse cx="96.0" cy="636.0" rx="4.72" ry="4.34"/><ellipse cx="113.8" cy="638.2" rx="4.72" ry="4.34"/><ellipse cx="88.3" cy="643.8" rx="4.13" ry="3.80"/><ellipse cx="109.3" cy="644.9" rx="5.31" ry="4.89"/><ellipse cx="120.4" cy="642.7" rx="4.13" ry="3.80"/><ellipse cx="90.5" cy="649.3" rx="5.31" ry="4.89"/><ellipse cx="99.4" cy="649.3" rx="5.31" ry="4.89"/><ellipse cx="109.3" cy="653.7" rx="4.72" ry="4.34"/><ellipse cx="120.4" cy="652.6" rx="4.72" ry="4.34"/><ellipse cx="76.2" cy="657.0" rx="4.72" ry="4.34"/><ellipse cx="98.3" cy="660.4" rx="4.72" ry="4.34"/><ellipse cx="114.9" cy="660.4" rx="4.72" ry="4.34"/></g>
</g></g>
<g clip-path="url(#cp19)"><rect x="126.30" y="618.70" width="53.20" height="45.30" fill="#f2eaf0"/><g filter="url(#tb)">
<rect x="125.30" y="617.70" width="55.20" height="47.30" filter="url(#nf21)"/>
<g fill="#ecc4c8" opacity="0.6"><ellipse cx="129.6" cy="627.9" rx="4.90" ry="6.70"/><ellipse cx="146.2" cy="626.3" rx="6.10" ry="5.72"/><ellipse cx="166.0" cy="625.8" rx="5.50" ry="5.16"/><ellipse cx="159.2" cy="633.6" rx="5.50" ry="6.70"/><ellipse cx="174.8" cy="633.6" rx="4.90" ry="6.10"/><ellipse cx="134.3" cy="640.3" rx="6.10" ry="5.72"/><ellipse cx="152.5" cy="637.2" rx="5.50" ry="5.16"/><ellipse cx="166.0" cy="639.8" rx="5.50" ry="6.70"/><ellipse cx="174.8" cy="643.0" rx="4.30" ry="4.06"/><ellipse cx="129.6" cy="651.2" rx="4.90" ry="4.61"/><ellipse cx="145.7" cy="653.3" rx="5.50" ry="5.16"/><ellipse cx="154.6" cy="655.9" rx="5.50" ry="5.16"/><ellipse cx="163.9" cy="652.3" rx="4.90" ry="4.61"/><ellipse cx="175.8" cy="652.3" rx="4.90" ry="4.61"/><ellipse cx="137.4" cy="657.5" rx="4.90" ry="4.61"/></g>
<g filter="url(#bfx9)" fill="url(#rg5)"><ellipse cx="129.6" cy="627.9" rx="3.60" ry="5.40"/><ellipse cx="146.2" cy="626.3" rx="4.80" ry="4.42"/><ellipse cx="166.0" cy="625.8" rx="4.20" ry="3.86"/><ellipse cx="159.2" cy="633.6" rx="4.20" ry="5.40"/><ellipse cx="174.8" cy="633.6" rx="3.60" ry="4.80"/><ellipse cx="134.3" cy="640.3" rx="4.80" ry="4.42"/><ellipse cx="152.5" cy="637.2" rx="4.20" ry="3.86"/><ellipse cx="166.0" cy="639.8" rx="4.20" ry="5.40"/><ellipse cx="174.8" cy="643.0" rx="3.00" ry="2.76"/><ellipse cx="129.6" cy="651.2" rx="3.60" ry="3.31"/><ellipse cx="145.7" cy="653.3" rx="4.20" ry="3.86"/><ellipse cx="154.6" cy="655.9" rx="4.20" ry="3.86"/><ellipse cx="163.9" cy="652.3" rx="3.60" ry="3.31"/><ellipse cx="175.8" cy="652.3" rx="3.60" ry="3.31"/><ellipse cx="137.4" cy="657.5" rx="3.60" ry="3.31"/></g>
</g></g>
<g clip-path="url(#cp20)"><rect x="182.50" y="618.70" width="52.50" height="45.30" fill="#f0e8ee"/><g filter="url(#tb)">
<rect x="181.50" y="617.70" width="54.50" height="47.30" filter="url(#nf22)"/>
<g fill="#e8c8cc" opacity="0.6"><ellipse cx="187.6" cy="629.3" rx="6.70" ry="6.27"/><ellipse cx="201.9" cy="633.6" rx="7.90" ry="7.37"/><ellipse cx="213.9" cy="623.8" rx="6.10" ry="5.72"/><ellipse cx="221.6" cy="629.3" rx="6.10" ry="5.72"/><ellipse cx="229.3" cy="636.9" rx="6.10" ry="5.72"/><ellipse cx="188.7" cy="641.3" rx="6.10" ry="5.72"/><ellipse cx="203.0" cy="649.0" rx="6.70" ry="6.27"/><ellipse cx="217.2" cy="646.8" rx="6.10" ry="5.72"/><ellipse cx="187.6" cy="653.4" rx="6.10" ry="5.72"/><ellipse cx="229.3" cy="650.1" rx="5.50" ry="5.16"/><ellipse cx="198.6" cy="660.0" rx="5.50" ry="5.16"/></g>
<g filter="url(#bfx10)" fill="url(#rg6)"><ellipse cx="187.6" cy="629.3" rx="5.40" ry="4.97"/><ellipse cx="201.9" cy="633.6" rx="6.60" ry="6.07"/><ellipse cx="213.9" cy="623.8" rx="4.80" ry="4.42"/><ellipse cx="221.6" cy="629.3" rx="4.80" ry="4.42"/><ellipse cx="229.3" cy="636.9" rx="4.80" ry="4.42"/><ellipse cx="188.7" cy="641.3" rx="4.80" ry="4.42"/><ellipse cx="203.0" cy="649.0" rx="5.40" ry="4.97"/><ellipse cx="217.2" cy="646.8" rx="4.80" ry="4.42"/><ellipse cx="187.6" cy="653.4" rx="4.80" ry="4.42"/><ellipse cx="229.3" cy="650.1" rx="4.20" ry="3.86"/><ellipse cx="198.6" cy="660.0" rx="4.20" ry="3.86"/></g>
</g></g>
<g clip-path="url(#cp21)"><rect x="14.20" y="666.00" width="53.20" height="45.00" fill="#f9f8f9"/><g filter="url(#tb)">
<g filter="url(#bfx11)"><path d="M15,701 C16,690 22,680 30,675 C37,671 46,669 52,671 C56,673 57,680 55,688 C53,696 47,701 38,705 C30,708 22,710 17,708 C15,706 15,704 15,701Z" fill="#e2cedb"/></g>
<path d="M15,701 C16,690 22,680 30,675 C37,671 46,669 52,671 C56,673 57,680 55,688 C53,696 47,701 38,705 C30,708 22,710 17,708 C15,706 15,704 15,701Z" fill="none" stroke="#a08ac0" stroke-width="1.2" opacity="0.7"/>
</g></g>
<g clip-path="url(#cp22)"><rect x="70.70" y="666.00" width="53.00" height="45.00" fill="#f9f8f9"/><g filter="url(#tb)">
<g filter="url(#bfx12)"><path d="M71.5,690 C71,680 78,673 90,671.3 C102,670 115,670 124.5,672 L124.5,702 C116,705 104,706 92,705.5 C80,705 72,699 71.5,690Z" fill="#e8d2c8"/></g>
<ellipse cx="106" cy="688" rx="8" ry="10" fill="#efe4e6" opacity="0.55"/>
<ellipse cx="96" cy="711" rx="7" ry="3" fill="#c0a8c4"/>
</g></g>
<g clip-path="url(#cp23)"><rect x="126.30" y="666.00" width="53.20" height="45.00" fill="#f9f8fa"/><g filter="url(#tb)">
<g filter="url(#bfx13)"><path d="M131,685 C131,676 138,670 148,670 C156,670 162,674 160,681 C158,688 156,695 155,702 C153,708 145,709 138,706 C131,702 130,693 131,685Z" fill="#c2b4d6"/></g>
<ellipse cx="169" cy="694" rx="9" ry="13" fill="#bcaed6" transform="rotate(15 169 694)"/>
<ellipse cx="169" cy="694" rx="9" ry="13" fill="none" stroke="#b07888" stroke-width="1" opacity="0.6" transform="rotate(15 169 694)"/>
<g fill="#9a5868" opacity="0.85"><circle cx="140.0" cy="690.0" r="1.8"/><circle cx="145.0" cy="686.0" r="1.6"/><circle cx="150.0" cy="692.0" r="1.7"/><circle cx="143.0" cy="697.0" r="1.7"/><circle cx="152.0" cy="699.0" r="1.5"/><circle cx="147.0" cy="680.0" r="1.5"/><circle cx="154.0" cy="676.0" r="1.4"/><circle cx="138.0" cy="700.0" r="1.5"/><circle cx="156.0" cy="686.0" r="1.4"/><circle cx="165.0" cy="684.0" r="1.0"/><circle cx="172.0" cy="686.0" r="1.0"/><circle cx="175.0" cy="695.0" r="1.0"/><circle cx="168.0" cy="704.0" r="1.0"/><circle cx="162.0" cy="700.0" r="1.0"/></g>
</g></g>
<g clip-path="url(#cp24)"><rect x="182.50" y="666.00" width="52.50" height="45.00" fill="#fafafb"/><g filter="url(#tb)">
<path d="M196,678 C200,668 226,664 232,670" fill="none" stroke="#e4dce8" stroke-width="1"/>
<ellipse cx="211" cy="686" rx="6" ry="12" fill="#c4a0ac" transform="rotate(-30 211 686)"/>
<ellipse cx="223" cy="675" rx="6" ry="5" fill="#c8acbc"/>
<ellipse cx="198" cy="699" rx="6" ry="7" fill="#bcb0d6"/>
<g fill="#8a4a58" opacity="1.0"><circle cx="209.0" cy="682.0" r="1.0"/><circle cx="213.0" cy="688.0" r="1.0"/><circle cx="208.0" cy="690.0" r="0.9"/><circle cx="215.0" cy="680.0" r="0.9"/></g>
</g></g>
<text x="205.00" y="468.60" font-size="7.4" font-weight="bold" textLength="25.20" lengthAdjust="spacingAndGlyphs" stroke="#1a1a1a" stroke-width="0.25">200 µm</text>
<line x1="210.00" y1="470.90" x2="225.60" y2="470.90" stroke="#111" stroke-width="1.5"/>
<text x="211.50" y="515.00" font-size="7.4" font-weight="bold" textLength="18.90" lengthAdjust="spacingAndGlyphs" stroke="#1a1a1a" stroke-width="0.25">1 mm</text>
<line x1="213.00" y1="517.20" x2="229.00" y2="517.20" stroke="#111" stroke-width="1.5"/>
<text x="211.50" y="560.80" font-size="7.4" font-weight="bold" textLength="18.70" lengthAdjust="spacingAndGlyphs" stroke="#1a1a1a" stroke-width="0.25">2 mm</text>
<line x1="213.00" y1="563.80" x2="229.00" y2="563.80" stroke="#111" stroke-width="1.5"/>
<text x="205.10" y="610.00" font-size="7.4" font-weight="bold" textLength="26.20" lengthAdjust="spacingAndGlyphs" stroke="#1a1a1a" stroke-width="0.25">200 µm</text>
<line x1="210.60" y1="612.00" x2="226.00" y2="612.00" stroke="#111" stroke-width="1.5"/>
<text x="212.80" y="657.60" font-size="7.4" font-weight="bold" textLength="18.70" lengthAdjust="spacingAndGlyphs" stroke="#1a1a1a" stroke-width="0.25">1 mm</text>
<line x1="213.90" y1="659.60" x2="230.40" y2="659.60" stroke="#111" stroke-width="1.5"/>
<text x="210.60" y="704.20" font-size="7.4" font-weight="bold" textLength="18.70" lengthAdjust="spacingAndGlyphs" stroke="#1a1a1a" stroke-width="0.25">2 mm</text>
<line x1="212.00" y1="706.80" x2="229.00" y2="706.80" stroke="#111" stroke-width="1.5"/>
<text x="256.40" y="415.00" font-size="14.0" font-weight="bold" textLength="7.60" lengthAdjust="spacingAndGlyphs" stroke="#1a1a1a" stroke-width="0.35">F</text>
<text x="374.00" y="409.00" font-size="8.0" font-weight="bold" textLength="36.50" lengthAdjust="spacingAndGlyphs" stroke="#1a1a1a" stroke-width="0.22">MGD011</text>
<line x1="284.00" y1="415.50" x2="493.20" y2="415.50" stroke="#1a1a1a" stroke-width="1.3"/>
<text x="305.00" y="429.80" font-size="8.0" font-weight="bold" textLength="28.80" lengthAdjust="spacingAndGlyphs" stroke="#1a1a1a" stroke-width="0.22">5<tspan font-family="'DejaVu Sans', sans-serif" font-weight="normal">→</tspan>5<tspan font-family="'DejaVu Sans', sans-serif" font-weight="normal">→</tspan>5</text>
<text x="309.00" y="439.30" font-size="8.0" font-weight="bold" textLength="20.00" lengthAdjust="spacingAndGlyphs" stroke="#1a1a1a" stroke-width="0.22">ng/kg</text>
<text x="367.00" y="429.80" font-size="8.0" font-weight="bold" textLength="54.40" lengthAdjust="spacingAndGlyphs" stroke="#1a1a1a" stroke-width="0.22">0.5<tspan font-family="'DejaVu Sans', sans-serif" font-weight="normal">→</tspan>5<tspan font-family="'DejaVu Sans', sans-serif" font-weight="normal">→</tspan>50<tspan font-family="'DejaVu Sans', sans-serif" font-weight="normal">→</tspan>50</text>
<text x="385.50" y="439.30" font-size="8.0" font-weight="bold" textLength="19.00" lengthAdjust="spacingAndGlyphs" stroke="#1a1a1a" stroke-width="0.22">µg/kg</text>
<text x="439.50" y="429.80" font-size="8.0" font-weight="bold" textLength="60.50" lengthAdjust="spacingAndGlyphs" stroke="#1a1a1a" stroke-width="0.22">2<tspan font-family="'DejaVu Sans', sans-serif" font-weight="normal">→</tspan>10<tspan font-family="'DejaVu Sans', sans-serif" font-weight="normal">→</tspan>100<tspan font-family="'DejaVu Sans', sans-serif" font-weight="normal">→</tspan>100</text>
<text x="460.50" y="439.30" font-size="8.0" font-weight="bold" textLength="19.50" lengthAdjust="spacingAndGlyphs" stroke="#1a1a1a" stroke-width="0.22">µg/kg</text>
<text x="281.00" y="471.25" font-size="7.6" font-weight="bold" text-anchor="middle" textLength="47.50" lengthAdjust="spacingAndGlyphs" transform="rotate(-90 281.00 471.25)" stroke="#1a1a1a" stroke-width="0.22">Bone marrow</text>
<text x="281.00" y="524.25" font-size="7.6" font-weight="bold" text-anchor="middle" textLength="23.50" lengthAdjust="spacingAndGlyphs" transform="rotate(-90 281.00 524.25)" stroke="#1a1a1a" stroke-width="0.22">Spleen</text>
<text x="281.00" y="576.25" font-size="7.6" font-weight="bold" text-anchor="middle" textLength="42.50" lengthAdjust="spacingAndGlyphs" transform="rotate(-90 281.00 576.25)" stroke="#1a1a1a" stroke-width="0.22">Lymph node</text>
<text x="512.80" y="534.00" font-size="7.8" font-weight="bold" text-anchor="middle" textLength="74.00" lengthAdjust="spacingAndGlyphs" transform="rotate(90 512.80 534.00)" stroke="#1a1a1a" stroke-width="0.22">Terminal necropsy</text>
<g clip-path="url(#cp25)"><rect x="285.30" y="445.40" width="70.10" height="49.20" fill="#e8e8f3"/><g filter="url(#tbs)">
<rect x="284.30" y="444.40" width="72.10" height="51.20" filter="url(#nf23)"/>
<rect x="284.30" y="444.40" width="72.10" height="51.20" filter="url(#nf24)"/>
<rect x="284.30" y="444.40" width="72.10" height="51.20" filter="url(#nf25)"/>
<g fill="#fbfbfd" opacity="1.0"><circle cx="287.4" cy="450.9" r="2.6"/><circle cx="308.9" cy="450.9" r="2.8"/><circle cx="318.6" cy="455.3" r="2.4"/><circle cx="333.4" cy="464.2" r="3.6"/><circle cx="339.3" cy="476.1" r="3.8"/><circle cx="323.0" cy="485.0" r="3.8"/><circle cx="311.1" cy="486.4" r="3.6"/><circle cx="346.7" cy="464.2" r="2.8"/><circle cx="342.3" cy="449.4" r="2.4"/><circle cx="296.0" cy="470.0" r="2.2"/><circle cx="300.0" cy="458.0" r="1.8"/><circle cx="290.0" cy="484.0" r="2.0"/><circle cx="328.0" cy="452.0" r="1.8"/><circle cx="350.0" cy="486.0" r="2.2"/><circle cx="316.0" cy="470.0" r="1.8"/></g>
<g fill="#fbfbfd" opacity="0.8"><circle cx="330.0" cy="446.0" r="0.55"/><circle cx="335.4" cy="469.8" r="0.57"/><circle cx="318.4" cy="492.6" r="0.73"/><circle cx="324.5" cy="465.9" r="0.80"/><circle cx="287.4" cy="489.6" r="0.85"/><circle cx="309.3" cy="459.0" r="0.61"/><circle cx="351.6" cy="487.5" r="0.73"/><circle cx="327.8" cy="472.7" r="0.62"/><circle cx="286.7" cy="482.1" r="0.60"/><circle cx="325.0" cy="445.3" r="0.51"/><circle cx="296.1" cy="477.9" r="0.87"/><circle cx="355.8" cy="478.2" r="0.81"/><circle cx="285.2" cy="493.5" r="0.79"/><circle cx="346.2" cy="446.6" r="1.00"/><circle cx="318.6" cy="455.5" r="0.74"/><circle cx="289.7" cy="474.1" r="0.63"/><circle cx="334.9" cy="453.3" r="0.91"/><circle cx="328.8" cy="480.8" r="1.07"/><circle cx="305.6" cy="479.4" r="0.74"/><circle cx="348.8" cy="486.7" r="0.96"/><circle cx="327.6" cy="457.8" r="1.04"/><circle cx="354.2" cy="493.0" r="0.70"/><circle cx="343.6" cy="479.2" r="1.00"/><circle cx="342.1" cy="467.7" r="0.74"/><circle cx="341.7" cy="477.9" r="0.82"/><circle cx="347.3" cy="446.0" r="0.51"/><circle cx="317.8" cy="449.4" r="1.01"/><circle cx="290.7" cy="489.6" r="0.64"/><circle cx="294.0" cy="483.0" r="0.91"/><circle cx="313.9" cy="474.9" r="0.83"/><circle cx="352.7" cy="470.4" r="0.82"/><circle cx="317.6" cy="465.5" r="0.91"/><circle cx="292.3" cy="479.8" r="1.06"/><circle cx="339.2" cy="472.2" r="0.71"/><circle cx="291.3" cy="449.1" r="0.82"/><circle cx="347.8" cy="488.7" r="0.61"/><circle cx="338.3" cy="485.7" r="0.79"/><circle cx="346.2" cy="454.0" r="0.70"/><circle cx="321.4" cy="481.6" r="0.77"/><circle cx="306.1" cy="488.8" r="0.74"/><circle cx="314.6" cy="455.8" r="0.79"/><circle cx="335.2" cy="462.9" r="0.90"/><circle cx="319.9" cy="445.0" r="1.08"/><circle cx="305.1" cy="472.3" r="1.08"/><circle cx="299.2" cy="447.7" r="0.62"/><circle cx="295.3" cy="488.0" r="0.81"/><circle cx="287.3" cy="458.3" r="0.81"/><circle cx="296.9" cy="460.1" r="1.04"/><circle cx="316.4" cy="456.3" r="0.86"/><circle cx="292.4" cy="471.0" r="0.89"/><circle cx="290.7" cy="472.5" r="0.69"/><circle cx="338.0" cy="475.9" r="1.05"/><circle cx="328.1" cy="453.8" r="0.61"/><circle cx="335.0" cy="485.9" r="0.54"/><circle cx="314.4" cy="458.9" r="0.78"/><circle cx="347.2" cy="473.1" r="0.95"/><circle cx="339.4" cy="458.6" r="0.87"/><circle cx="311.3" cy="468.7" r="0.82"/><circle cx="332.4" cy="453.0" r="1.00"/><circle cx="295.9" cy="460.4" r="1.01"/></g>
</g></g>
<g clip-path="url(#cp26)"><rect x="361.20" y="445.40" width="70.20" height="49.20" fill="#f4f4f9"/><g filter="url(#tbs)">
<rect x="360.20" y="444.40" width="72.20" height="51.20" filter="url(#nf26)"/>
<rect x="360.20" y="444.40" width="72.20" height="51.20" filter="url(#nf27)"/>
</g></g>
<g clip-path="url(#cp27)"><rect x="436.90" y="445.40" width="70.10" height="49.20" fill="#dcdaea"/><g filter="url(#tbs)">
<rect x="435.90" y="444.40" width="72.10" height="51.20" filter="url(#nf28)"/>
<rect x="435.90" y="444.40" width="72.10" height="51.20" filter="url(#nf29)"/>
<g fill="#fbfbfd" opacity="0.6"><circle cx="506.9" cy="463.2" r="0.98"/><circle cx="438.6" cy="493.3" r="0.60"/><circle cx="438.4" cy="483.4" r="0.58"/><circle cx="490.1" cy="444.8" r="0.56"/><circle cx="461.7" cy="448.7" r="0.74"/><circle cx="460.9" cy="482.2" r="0.75"/><circle cx="505.5" cy="487.6" r="0.59"/><circle cx="502.0" cy="490.2" r="0.78"/><circle cx="473.9" cy="453.1" r="0.66"/><circle cx="451.8" cy="454.4" r="0.81"/><circle cx="459.3" cy="483.7" r="0.79"/><circle cx="495.5" cy="448.9" r="0.92"/><circle cx="472.5" cy="476.8" r="0.62"/><circle cx="486.1" cy="465.2" r="0.86"/><circle cx="478.0" cy="451.6" r="0.65"/><circle cx="490.1" cy="445.2" r="0.82"/><circle cx="475.2" cy="481.0" r="0.66"/><circle cx="470.3" cy="468.8" r="0.87"/><circle cx="441.2" cy="470.5" r="0.63"/><circle cx="478.4" cy="457.7" r="0.60"/><circle cx="452.6" cy="490.2" r="0.68"/><circle cx="499.4" cy="482.1" r="0.63"/><circle cx="475.8" cy="444.8" r="0.97"/><circle cx="481.4" cy="450.2" r="0.76"/><circle cx="471.6" cy="478.7" r="0.64"/><circle cx="501.5" cy="476.3" r="0.54"/><circle cx="494.9" cy="489.7" r="0.65"/><circle cx="487.2" cy="488.4" r="0.94"/><circle cx="441.0" cy="487.2" r="0.62"/><circle cx="493.7" cy="479.6" r="0.73"/><circle cx="500.9" cy="485.5" r="1.00"/><circle cx="505.0" cy="473.8" r="0.87"/><circle cx="484.2" cy="464.9" r="0.75"/><circle cx="472.5" cy="455.4" r="0.63"/><circle cx="496.8" cy="487.7" r="0.85"/><circle cx="485.5" cy="470.5" r="0.79"/><circle cx="484.0" cy="444.8" r="0.72"/><circle cx="505.8" cy="454.9" r="0.73"/><circle cx="441.5" cy="457.5" r="0.91"/><circle cx="438.3" cy="485.3" r="0.90"/><circle cx="498.5" cy="457.6" r="0.97"/><circle cx="462.7" cy="467.5" r="0.98"/><circle cx="475.2" cy="479.3" r="0.56"/><circle cx="436.2" cy="457.9" r="0.55"/><circle cx="495.3" cy="457.2" r="0.98"/><circle cx="484.8" cy="454.2" r="0.86"/><circle cx="458.8" cy="471.4" r="0.54"/><circle cx="495.9" cy="484.7" r="0.79"/><circle cx="485.7" cy="461.8" r="0.56"/><circle cx="459.3" cy="482.3" r="0.78"/><circle cx="445.6" cy="456.7" r="0.74"/><circle cx="436.9" cy="446.7" r="0.72"/><circle cx="445.6" cy="489.9" r="0.56"/><circle cx="489.9" cy="485.1" r="0.66"/><circle cx="475.0" cy="495.2" r="0.81"/><circle cx="463.8" cy="494.4" r="0.63"/><circle cx="504.8" cy="460.3" r="0.71"/><circle cx="458.7" cy="477.8" r="0.94"/><circle cx="485.6" cy="453.7" r="1.00"/><circle cx="488.0" cy="470.3" r="0.92"/><circle cx="443.6" cy="475.0" r="0.89"/><circle cx="491.9" cy="478.9" r="0.53"/><circle cx="470.4" cy="458.2" r="0.80"/><circle cx="464.5" cy="467.7" r="0.77"/><circle cx="478.3" cy="490.0" r="0.64"/><circle cx="455.7" cy="453.8" r="0.56"/><circle cx="497.1" cy="491.5" r="0.56"/><circle cx="461.9" cy="490.7" r="0.93"/><circle cx="506.4" cy="495.2" r="0.65"/><circle cx="440.7" cy="457.2" r="0.75"/><circle cx="437.0" cy="457.4" r="0.74"/><circle cx="485.0" cy="452.3" r="0.56"/><circle cx="459.7" cy="449.1" r="0.56"/><circle cx="443.3" cy="485.3" r="0.94"/><circle cx="439.0" cy="485.6" r="0.92"/><circle cx="482.8" cy="459.8" r="0.91"/><circle cx="441.8" cy="446.8" r="0.98"/><circle cx="451.9" cy="491.3" r="0.88"/><circle cx="439.3" cy="449.2" r="0.82"/><circle cx="446.4" cy="478.5" r="0.84"/><circle cx="452.6" cy="468.8" r="0.61"/><circle cx="498.7" cy="476.7" r="0.85"/><circle cx="480.7" cy="447.5" r="0.94"/><circle cx="492.1" cy="470.8" r="0.80"/><circle cx="471.4" cy="483.1" r="0.77"/><circle cx="455.9" cy="470.8" r="0.61"/><circle cx="436.3" cy="471.1" r="0.94"/><circle cx="487.8" cy="455.1" r="0.75"/><circle cx="478.0" cy="474.1" r="0.73"/><circle cx="472.6" cy="479.6" r="0.94"/></g>
<rect x="436.9" y="490.5" width="71" height="4.1" fill="#e4e2f0" opacity="0.7"/>
</g></g>
<g clip-path="url(#cp28)"><rect x="285.30" y="498.20" width="70.10" height="49.80" fill="#eceaf4"/><g filter="url(#tb)">
<rect x="284.30" y="497.20" width="72.10" height="51.80" filter="url(#nf30)"/>
<rect x="284.30" y="497.20" width="72.10" height="51.80" filter="url(#nf31)"/>
<rect x="284.30" y="497.20" width="72.10" height="51.80" filter="url(#nf32)"/>
<g fill="#e8bcbc" opacity="0.5"><ellipse cx="300.0" cy="502.1" rx="8.01" ry="6.79"/><ellipse cx="323.9" cy="500.0" rx="6.18" ry="4.96"/><ellipse cx="309.6" cy="518.5" rx="12.28" ry="11.67"/><ellipse cx="339.6" cy="511.7" rx="11.06" ry="9.84"/><ellipse cx="352.0" cy="502.0" rx="5.57" ry="4.96"/><ellipse cx="293.2" cy="530.1" rx="9.84" ry="9.84"/><ellipse cx="334.2" cy="530.1" rx="8.62" ry="8.62"/><ellipse cx="352.6" cy="530.8" rx="7.40" ry="10.45"/><ellipse cx="305.5" cy="540.3" rx="9.23" ry="8.01"/><ellipse cx="342.4" cy="543.0" rx="8.62" ry="7.40"/><ellipse cx="287.7" cy="543.0" rx="4.96" ry="4.96"/></g>
<g filter="url(#bfx14)" fill="url(#rg7)"><ellipse cx="300.0" cy="502.1" rx="6.71" ry="5.49"/><ellipse cx="323.9" cy="500.0" rx="4.88" ry="3.66"/><ellipse cx="309.6" cy="518.5" rx="10.98" ry="10.37"/><ellipse cx="339.6" cy="511.7" rx="9.76" ry="8.54"/><ellipse cx="352.0" cy="502.0" rx="4.27" ry="3.66"/><ellipse cx="293.2" cy="530.1" rx="8.54" ry="8.54"/><ellipse cx="334.2" cy="530.1" rx="7.32" ry="7.32"/><ellipse cx="352.6" cy="530.8" rx="6.10" ry="9.15"/><ellipse cx="305.5" cy="540.3" rx="7.93" ry="6.71"/><ellipse cx="342.4" cy="543.0" rx="7.32" ry="6.10"/><ellipse cx="287.7" cy="543.0" rx="3.66" ry="3.66"/></g>
<g fill="#f0e0e4" opacity="0.9"><circle cx="309.0" cy="518.0" r="1.8"/><circle cx="334.2" cy="530.1" r="2.2"/></g>
<rect x="301" y="542.4" width="11" height="1.2" fill="#ffffff" opacity="0.85"/>
</g></g>
<g clip-path="url(#cp29)"><rect x="361.20" y="498.20" width="70.20" height="49.80" fill="#f3f3f8"/><g filter="url(#tb)">
<path d="M364,498.2 L420,498.2 C421.5,512 418.5,528 416,539 C415,543 414.5,546 414,548 L364,548Z" fill="#d0ceeb"/>
<rect x="363.00" y="497.20" width="58.00" height="51.80" filter="url(#nf33)"/>
<rect x="363.00" y="519.00" width="38.00" height="30.00" filter="url(#nf34)"/>
<rect x="361.2" y="498.2" width="3" height="50" fill="#dcdaf0"/>
<rect x="365.8" y="542.4" width="19" height="1.3" fill="#ffffff" opacity="0.85"/>
</g></g>
<g clip-path="url(#cp30)"><rect x="436.90" y="498.20" width="70.10" height="49.80" fill="#efeef6"/><g filter="url(#tb)">
<path d="M449,498.2 L507,498.2 L507,548 L452,548 C450,540 451,530 450,520 C449,510 448,504 449,498.2Z" fill="#d0ceeb"/>
<rect x="448.00" y="497.20" width="60.00" height="51.80" filter="url(#nf35)"/>
<rect x="435.90" y="497.20" width="17.10" height="51.80" filter="url(#nf36)"/>
</g></g>
<g filter="url(#bl05)">
<ellipse cx="317.5" cy="568" rx="4.6" ry="5.0" fill="#c0a0c2"/>
<ellipse cx="326.4" cy="566.5" rx="4.6" ry="5.0" fill="#bc9cbe"/>
<path d="M311,585 C310,579 316,576 321,578 C325,580 322,588 318,590 C314,591 311,589 311,585Z" fill="#c4a4c4"/>
<ellipse cx="381.5" cy="580.5" rx="3.2" ry="2.5" fill="#bcb4da"/>
<ellipse cx="390.7" cy="579" rx="3.2" ry="3.4" fill="#aca4d2"/>
<ellipse cx="398.8" cy="581.6" rx="2.2" ry="2" fill="#bcb4da"/>
<ellipse cx="401.7" cy="563.7" rx="4" ry="3" fill="#e6e4f0"/>
<ellipse cx="410.3" cy="563.7" rx="2.5" ry="2" fill="#b4b0d2"/>
<path d="M437,561 C441,561 443,565 441,569 C440,571 437,571 436,570 C438,567 438,564 437,561Z" fill="#b0acd6"/>
<ellipse cx="462.2" cy="569.5" rx="6" ry="5" fill="#c4c0e2"/>
<ellipse cx="460" cy="570" rx="3" ry="3.5" fill="#aca8d2"/>
</g>
<circle cx="316.00" cy="566.00" r="0.6" fill="#8a5a80" stroke="none" stroke-width="0"/>
<circle cx="319.00" cy="569.00" r="0.6" fill="#8a5a80" stroke="none" stroke-width="0"/>
<circle cx="325.00" cy="565.00" r="0.6" fill="#8a5a80" stroke="none" stroke-width="0"/>
<circle cx="328.00" cy="568.00" r="0.6" fill="#8a5a80" stroke="none" stroke-width="0"/>
<circle cx="315.00" cy="584.00" r="0.6" fill="#8a5a80" stroke="none" stroke-width="0"/>
<circle cx="318.00" cy="587.00" r="0.6" fill="#8a5a80" stroke="none" stroke-width="0"/>
<circle cx="384.00" cy="579.00" r="0.6" fill="#8a5a80" stroke="none" stroke-width="0"/>
<circle cx="392.00" cy="578.00" r="0.6" fill="#8a5a80" stroke="none" stroke-width="0"/>
<path d="M322,562 L322,572 M314,583 C316,585 318,584 320,582" stroke="#eadcea" stroke-width="0.8" fill="none"/>
<text x="478.80" y="489.60" font-size="7.4" font-weight="bold" textLength="25.80" lengthAdjust="spacingAndGlyphs" stroke="#1a1a1a" stroke-width="0.25">100 µm</text>
<line x1="482.80" y1="491.80" x2="500.00" y2="491.80" stroke="#111" stroke-width="1.5"/>
<text x="477.20" y="540.80" font-size="7.4" font-weight="bold" textLength="26.00" lengthAdjust="spacingAndGlyphs" stroke="#1a1a1a" stroke-width="0.25">600 µm</text>
<line x1="481.60" y1="543.00" x2="500.00" y2="543.00" stroke="#111" stroke-width="1.5"/>
<text x="485.30" y="593.00" font-size="7.4" font-weight="bold" textLength="18.70" lengthAdjust="spacingAndGlyphs" stroke="#1a1a1a" stroke-width="0.25">6 mm</text>
<line x1="485.30" y1="596.30" x2="504.00" y2="596.30" stroke="#111" stroke-width="1.5"/></g></svg></body></html>
